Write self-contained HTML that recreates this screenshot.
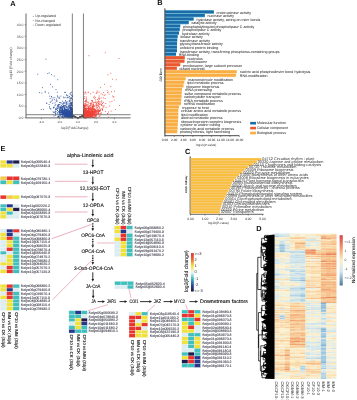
<!DOCTYPE html>
<html><head><meta charset="utf-8"><title>Figure</title>
<style>html,body{margin:0;padding:0;background:#fff;}body{width:357px;height:400px;overflow:hidden;position:relative;}
svg{position:absolute;left:0;top:0;font-family:"Liberation Sans",sans-serif;text-rendering:geometricPrecision;}</style></head>
<body><svg width="357" height="400" viewBox="0 0 357 400">
<text x="10.20" y="5.60" font-size="7.4" text-anchor="start" fill="#111" font-weight="bold">A</text>
<text x="157.30" y="5.20" font-size="7.4" text-anchor="start" fill="#111" font-weight="bold">B</text>
<text x="185.00" y="153.60" font-size="7.4" text-anchor="start" fill="#111" font-weight="bold">C</text>
<text x="256.20" y="231.00" font-size="7.4" text-anchor="start" fill="#111" font-weight="bold">D</text>
<text x="0.50" y="151.00" font-size="7.4" text-anchor="start" fill="#111" font-weight="bold">E</text>
<line x1="26.00" y1="114.70" x2="130.50" y2="114.70" stroke="#4a4a4a" stroke-width="0.7"/>
<path d="M72.6 116.3h0M82.3 116.6h0M76.8 117.4h0M72.9 115.6h0M74.8 116.4h0M77.2 117.6h0M79.0 117.6h0M78.0 117.9h0M81.0 116.6h0M79.8 117.3h0M76.9 117.5h0M73.0 115.7h0M73.7 116.2h0M75.4 117.1h0M82.7 115.9h0M80.4 116.9h0M78.6 117.6h0M73.2 116.2h0M74.9 116.7h0M76.8 117.4h0M75.1 116.9h0M82.4 116.0h0M77.1 117.6h0M80.4 117.1h0M80.3 117.1h0M81.2 116.9h0M82.3 115.9h0M72.8 116.3h0M82.3 115.9h0M75.7 116.9h0M78.8 117.6h0M79.9 117.2h0M74.1 116.2h0M80.2 117.1h0M77.1 117.6h0M76.5 117.4h0M78.2 117.8h0M73.6 116.4h0M77.7 117.8h0M83.2 116.4h0M79.4 117.4h0M74.8 116.9h0M77.9 117.9h0M82.9 116.1h0M82.2 116.1h0M73.4 115.8h0M75.5 116.7h0M74.0 116.1h0M78.0 117.8h0M74.5 116.6h0M80.7 116.8h0M83.0 115.9h0M82.2 116.5h0M80.4 116.9h0M82.0 116.4h0M77.5 117.7h0M75.3 117.0h0M81.6 116.4h0M77.8 117.9h0M80.7 116.9h0M75.1 116.9h0M74.0 116.1h0M81.1 116.4h0M79.8 117.3h0M77.1 117.5h0M72.6 116.0h0M74.2 116.7h0M75.5 116.9h0M73.3 115.8h0M77.2 117.7h0M73.6 116.2h0M76.3 117.3h0M73.7 116.4h0M78.0 117.9h0M77.9 117.9h0M78.9 117.6h0M79.3 117.5h0M74.1 116.8h0M78.2 117.8h0M75.5 117.2h0M82.1 116.6h0M79.8 117.1h0M77.4 117.7h0M76.1 117.1h0M79.9 117.3h0M80.1 117.2h0M77.7 117.8h0M77.7 117.8h0M80.4 117.0h0M73.1 116.1h0M82.3 116.1h0M79.2 117.3h0M79.4 117.2h0M82.8 115.8h0M81.2 116.9h0M75.4 116.8h0M78.8 117.5h0M80.8 116.9h0M74.4 116.4h0M73.7 116.3h0M75.5 117.0h0M79.5 117.2h0M79.2 117.5h0M82.1 116.1h0M82.2 116.1h0M79.5 117.2h0M80.5 116.8h0M73.0 116.4h0M80.2 116.8h0M76.7 117.5h0M77.3 117.6h0M80.6 117.0h0M74.7 116.8h0M80.5 117.0h0M82.0 116.4h0M74.6 116.7h0M74.1 116.1h0M72.8 116.0h0M76.6 117.5h0M74.9 116.5h0M81.7 116.5h0M81.9 116.0h0M81.7 116.3h0M78.6 117.6h0M80.2 117.0h0M83.0 116.3h0M82.2 116.0h0M77.3 117.6h0M75.6 117.1h0M78.7 117.5h0M75.2 116.6h0M79.6 117.1h0M75.8 117.0h0M82.0 116.0h0M80.0 116.9h0M79.3 117.3h0M74.6 116.6h0M83.0 115.5h0M73.0 116.2h0M75.1 116.6h0M74.5 116.4h0M74.7 116.7h0M82.9 116.3h0M78.8 117.6h0M80.6 117.1h0M79.8 117.3h0M82.8 116.2h0M79.7 117.4h0M82.6 116.0h0M82.3 116.0h0M73.2 115.9h0M76.6 117.5h0M82.1 116.1h0M76.3 117.4h0M79.5 117.4h0M75.1 117.1h0M74.4 116.4h0M75.4 116.7h0M75.5 116.8h0M80.4 116.9h0" stroke="#555" stroke-width="0.7" stroke-linecap="round" fill="none"/>
<path d="M71.5 116.0h0M72.1 116.3h0M70.1 117.5h0M70.2 107.3h0M71.4 111.9h0M67.3 117.1h0M70.4 114.1h0M70.9 107.6h0M68.8 111.7h0M67.7 114.4h0M69.1 115.2h0M68.8 115.0h0M68.9 113.4h0M64.7 105.5h0M71.7 117.2h0M72.2 115.4h0M67.4 112.5h0M67.3 115.0h0M55.3 113.1h0M66.2 112.0h0M70.4 117.2h0M71.3 116.0h0M66.4 117.1h0M70.4 105.5h0M70.0 113.1h0M62.3 109.0h0M59.6 110.6h0M71.6 116.3h0M69.7 112.5h0M72.4 114.6h0M67.5 110.4h0M65.7 115.0h0M63.4 106.4h0M71.8 116.2h0M72.1 116.5h0M70.7 117.6h0M71.8 117.3h0M72.3 116.5h0M70.7 115.2h0M64.7 92.3h0M68.5 116.5h0M70.7 116.0h0M71.4 112.8h0M69.2 117.7h0M49.7 96.1h0M70.6 115.3h0M63.5 110.6h0M65.6 92.5h0M62.7 109.1h0M69.8 117.2h0M71.1 116.1h0M53.8 112.6h0M69.7 114.9h0M71.5 116.5h0M58.7 104.5h0M71.9 116.1h0M63.4 112.4h0M70.0 115.5h0M69.4 115.9h0M71.9 116.9h0M62.7 104.7h0M49.1 104.5h0M72.4 96.5h0M68.0 114.4h0M60.2 108.6h0M70.8 115.9h0M70.2 117.0h0M69.8 115.3h0M57.6 105.5h0M68.0 113.0h0M65.8 116.8h0M64.8 112.2h0M68.1 116.8h0M70.7 116.5h0M68.2 115.1h0M66.8 114.8h0M65.4 115.0h0M65.3 111.2h0M70.6 115.8h0M71.9 114.4h0M71.3 117.4h0M63.3 113.0h0M67.3 111.4h0M63.6 97.1h0M59.9 114.8h0M45.2 92.4h0M70.0 116.4h0M64.8 108.1h0M70.8 112.0h0M72.0 115.1h0M51.3 96.5h0M70.6 116.0h0M58.0 106.8h0M67.4 114.7h0M72.2 110.8h0M72.0 114.7h0M64.5 117.5h0M68.8 115.7h0M56.9 107.4h0M71.9 116.8h0M71.5 115.6h0M64.0 110.9h0M71.3 116.5h0M67.0 113.0h0M69.8 101.4h0M65.4 114.5h0M61.8 110.3h0M65.5 109.7h0M66.4 114.0h0M72.1 115.6h0M71.7 117.4h0M60.3 108.0h0M70.8 116.6h0M70.6 113.6h0M67.7 114.6h0M72.4 114.4h0M68.3 115.1h0M72.0 114.8h0M72.3 115.7h0M68.8 113.3h0M66.1 109.6h0M69.5 116.8h0M66.3 102.4h0M59.2 112.2h0M69.4 113.6h0M62.7 113.4h0M59.2 111.9h0M71.8 115.2h0M65.0 112.9h0M66.6 115.1h0M72.4 116.1h0M66.0 116.4h0M70.7 114.6h0M66.9 95.4h0M69.6 114.8h0M63.8 115.2h0M71.2 109.7h0M67.4 116.4h0M71.1 111.1h0M65.7 113.9h0M71.7 114.4h0M56.7 101.2h0M69.9 107.5h0M68.9 114.0h0M68.8 117.0h0M54.3 99.6h0M68.2 112.7h0M68.5 116.7h0M69.6 114.3h0M71.5 115.5h0M66.7 106.8h0M61.7 110.3h0M70.4 115.1h0M70.5 116.9h0M65.0 115.9h0M70.7 116.4h0M62.5 113.6h0M64.9 116.2h0M68.9 115.3h0M61.7 117.1h0M69.9 116.6h0M50.2 102.5h0M69.5 113.4h0M71.5 103.6h0M71.0 111.2h0M71.5 117.3h0M71.9 117.2h0M69.0 104.7h0M69.3 116.1h0M72.0 116.3h0M71.6 115.7h0M71.1 116.2h0M68.9 114.0h0M60.2 107.9h0M68.6 114.5h0M70.4 102.1h0M61.0 107.2h0M69.4 111.0h0M64.8 112.7h0M68.8 114.5h0M62.1 111.6h0M71.6 116.6h0M65.3 112.2h0M69.5 115.5h0M72.4 115.4h0M59.7 102.5h0M71.3 98.3h0M70.2 113.7h0M70.7 115.2h0M70.9 115.1h0M71.1 115.1h0M68.3 113.7h0M70.9 112.3h0M70.4 114.9h0M70.2 111.3h0M71.5 116.4h0M57.4 117.0h0M72.2 114.9h0M59.7 109.8h0M71.2 115.8h0M72.2 116.6h0M71.3 117.3h0M70.6 99.0h0M58.7 116.5h0M62.2 110.1h0M69.7 115.1h0M70.6 104.1h0M70.3 107.8h0M72.2 115.2h0M66.8 104.0h0M70.5 114.6h0M70.6 116.2h0M66.6 102.9h0M55.4 111.2h0M69.8 98.9h0M69.5 115.2h0M71.2 114.4h0M62.2 110.6h0M69.8 115.6h0M71.5 109.4h0M72.2 117.7h0M70.1 110.9h0M72.1 117.3h0M65.1 113.5h0M70.2 112.0h0M64.3 110.1h0M70.4 116.1h0M64.5 112.3h0M63.6 112.7h0M69.4 113.2h0M70.9 114.3h0M69.8 107.5h0M57.8 113.8h0M71.7 115.2h0M69.7 108.8h0M70.6 116.1h0M66.7 116.7h0M71.5 115.6h0M71.1 116.3h0M65.7 113.0h0M67.7 113.7h0M70.4 113.1h0M71.9 115.8h0M70.2 112.9h0M67.5 114.3h0M69.7 114.9h0M71.1 113.2h0M69.3 114.2h0M71.4 114.6h0M71.9 115.8h0M68.3 113.7h0M71.7 115.7h0M52.2 100.7h0M68.5 114.9h0M69.5 112.8h0M66.1 116.4h0M61.3 112.1h0M71.4 114.8h0M69.6 114.1h0M72.2 115.8h0M72.2 115.9h0M66.6 114.8h0M67.2 115.7h0M72.3 115.7h0M70.8 115.7h0M69.8 117.2h0M70.1 117.3h0M68.2 117.0h0M71.9 116.2h0M69.5 115.0h0M71.6 115.8h0M64.6 110.8h0M53.8 107.4h0M66.0 101.7h0M70.7 109.4h0M63.1 116.0h0M71.5 117.2h0M69.5 115.6h0M71.6 116.8h0M65.7 112.4h0M66.1 117.2h0M66.4 115.2h0M59.7 98.2h0M66.5 116.0h0M67.3 111.8h0M69.0 114.8h0M70.7 113.7h0M67.2 115.7h0M71.8 112.1h0M68.2 114.5h0M71.4 111.5h0M72.4 115.2h0M70.6 116.4h0M67.1 113.3h0M61.1 116.2h0M72.0 111.7h0M63.4 105.7h0M72.4 111.6h0M69.9 114.9h0M70.7 115.3h0M69.3 114.7h0M72.2 108.8h0M69.1 100.8h0M71.5 112.2h0M66.3 113.5h0M72.1 115.6h0M65.0 103.4h0M64.4 112.3h0M72.0 116.3h0M70.7 109.5h0M61.4 111.0h0M63.2 113.5h0M68.2 97.6h0M63.7 117.8h0M71.3 109.6h0M64.3 114.7h0M62.6 111.9h0M65.9 105.3h0M61.6 112.7h0M67.4 116.4h0M68.4 117.4h0M71.5 114.8h0M71.5 116.9h0M67.6 111.8h0M64.5 108.0h0M62.3 108.0h0M64.1 103.0h0M71.8 117.0h0M62.5 109.1h0M66.5 114.7h0M71.1 115.9h0M72.3 115.8h0M70.1 113.6h0M61.1 111.1h0M63.6 112.7h0M67.8 114.5h0M71.3 114.9h0M66.5 94.8h0M69.7 113.8h0M71.2 115.6h0M60.6 115.9h0M67.5 113.7h0M68.3 117.4h0M65.3 112.3h0M69.8 115.1h0M63.4 117.7h0M71.2 103.9h0M69.6 113.7h0M69.9 113.3h0M64.1 113.9h0M64.8 111.3h0M71.3 116.4h0M67.3 111.6h0M71.6 115.7h0M61.4 107.3h0M71.3 115.5h0M71.4 115.1h0M71.8 114.8h0M70.4 92.9h0M64.6 113.6h0M71.5 114.9h0M70.3 108.4h0M68.3 113.9h0M71.5 115.8h0M69.1 115.4h0M69.2 114.0h0M65.3 106.0h0M66.3 114.6h0M70.2 108.7h0M66.5 113.7h0M68.8 115.2h0M71.2 115.9h0M69.5 117.5h0M71.4 115.2h0M68.1 112.3h0M68.2 112.9h0M68.1 116.8h0M69.5 112.6h0M55.3 115.2h0M71.1 114.8h0M70.2 114.6h0M69.9 114.9h0M68.0 113.7h0M69.5 114.4h0M66.5 112.5h0M70.9 114.7h0M62.4 111.9h0M67.7 111.5h0M70.6 114.4h0M70.1 116.7h0M67.2 115.9h0M70.9 113.9h0M66.4 113.6h0M72.1 115.7h0M63.3 106.1h0M72.4 99.5h0M70.7 114.9h0M71.3 108.8h0M71.4 115.4h0M66.9 114.6h0M59.1 106.9h0M67.9 115.5h0M59.7 112.5h0M69.6 117.5h0M71.5 116.1h0M67.8 113.5h0M67.5 114.0h0M69.6 117.3h0M66.4 111.0h0M65.6 109.8h0M68.5 114.3h0M67.2 112.0h0M60.7 112.4h0M71.0 115.2h0M67.6 112.9h0M68.3 115.9h0M50.5 108.8h0M70.3 116.1h0M63.3 103.1h0M72.1 116.4h0M71.6 102.5h0M66.1 111.9h0M66.6 115.6h0M65.6 112.4h0M71.8 115.7h0M66.3 103.0h0M69.7 114.2h0M70.9 114.6h0M69.1 115.8h0M72.1 117.1h0M67.3 113.4h0M72.3 115.6h0M68.6 113.5h0M68.2 116.5h0M72.4 117.9h0M71.7 115.0h0M72.4 110.2h0M67.0 116.6h0M66.3 110.3h0M64.7 113.7h0M65.1 116.3h0M64.9 112.1h0M68.1 107.6h0M70.9 110.0h0M64.3 113.9h0M70.5 112.7h0M65.7 110.1h0M66.5 109.6h0M63.3 102.9h0M72.1 115.4h0M62.0 111.8h0M67.0 111.3h0M59.4 112.6h0M62.7 106.8h0M71.2 114.6h0M62.4 109.6h0M60.5 110.4h0M64.6 107.9h0M57.9 108.9h0M71.1 115.1h0M70.8 116.4h0M71.2 109.5h0M68.8 116.6h0M63.7 110.7h0M68.0 111.7h0M71.2 115.3h0M67.5 113.3h0M71.5 110.7h0M68.3 108.5h0M68.7 115.3h0M72.3 116.8h0M60.5 114.1h0M69.1 113.9h0M62.3 108.8h0M71.6 117.4h0M69.1 105.5h0M55.0 105.7h0M68.7 114.8h0M59.3 116.1h0M66.4 109.3h0M71.4 115.2h0M70.9 115.5h0M58.5 106.6h0M66.1 110.4h0M55.8 104.5h0M67.1 114.3h0M71.9 113.9h0M71.3 117.0h0M72.3 115.9h0M72.3 102.0h0M61.3 105.7h0M71.5 115.3h0M66.6 113.5h0M62.2 115.0h0M72.2 110.3h0M71.5 115.1h0M70.2 116.9h0M64.9 115.4h0M69.7 115.6h0M71.7 115.0h0M71.0 115.9h0M70.7 114.4h0M57.1 101.0h0M59.0 97.1h0M72.3 115.4h0M71.5 114.1h0M70.1 103.2h0M68.9 117.0h0M66.4 110.4h0M72.1 117.3h0M68.4 115.1h0M68.5 110.4h0M67.2 113.4h0M64.8 112.6h0M70.0 114.0h0M62.5 114.0h0M70.6 117.1h0M69.7 114.5h0M69.4 114.3h0M71.7 115.1h0M60.5 112.4h0M72.1 114.5h0M68.4 115.7h0M58.4 116.4h0M72.0 116.2h0M72.2 117.1h0M71.1 114.4h0M65.2 113.4h0M64.9 111.4h0M70.5 116.3h0M71.6 117.3h0M64.3 115.2h0M56.0 109.6h0M69.4 113.4h0M70.0 115.5h0M62.7 106.6h0M61.3 103.0h0M70.7 115.5h0M69.7 115.7h0M72.3 117.0h0M63.5 105.3h0M59.6 112.3h0M70.6 115.8h0M66.7 115.4h0M69.1 114.2h0M71.7 115.9h0M68.1 114.6h0M71.9 117.0h0M69.3 113.8h0M72.0 113.1h0M66.8 116.1h0M68.8 115.3h0M68.7 115.7h0M69.6 114.2h0M70.6 105.9h0M69.1 113.8h0M46.4 103.1h0M64.0 114.4h0M70.4 114.4h0M71.7 115.3h0M64.5 111.2h0M66.7 111.3h0M68.1 114.1h0M63.3 114.5h0M71.6 115.4h0M68.3 113.7h0M69.2 114.3h0M68.9 116.3h0M70.4 116.4h0M63.3 107.7h0M68.9 115.2h0M67.3 113.3h0M70.1 113.2h0M70.1 103.3h0M72.2 112.9h0M57.4 112.7h0M69.5 115.6h0M69.9 113.2h0M70.5 114.8h0M67.4 114.0h0M68.5 114.8h0M67.9 112.9h0M70.9 94.7h0M68.2 110.3h0M69.2 114.4h0M71.2 116.0h0M66.9 115.6h0M70.2 108.5h0M65.5 100.5h0M61.5 114.5h0M67.6 115.7h0M67.9 111.7h0M71.7 109.3h0M72.0 116.8h0M62.1 110.8h0M72.0 115.3h0M69.8 115.9h0M72.0 103.7h0M69.9 116.9h0M67.2 112.5h0M66.7 112.8h0M70.2 114.3h0M70.3 116.5h0M70.8 116.6h0M70.9 116.2h0M70.8 113.9h0M71.2 115.1h0M69.3 114.9h0M72.0 117.0h0M69.9 115.8h0M72.3 111.3h0M71.4 115.1h0M71.1 107.0h0M70.0 106.9h0M71.4 116.6h0M71.0 113.6h0M70.9 115.6h0M63.0 112.5h0M70.7 115.3h0M64.0 117.1h0M67.8 114.9h0M67.5 109.8h0M71.9 116.0h0M71.7 114.5h0M68.3 115.1h0M71.9 110.3h0M69.4 113.8h0M59.7 108.0h0M67.8 111.3h0M69.3 115.1h0M70.7 115.0h0M71.9 103.1h0M65.0 115.3h0M71.7 116.6h0M69.6 113.8h0M64.9 112.8h0M70.7 115.6h0M69.9 111.5h0M72.2 115.5h0M72.1 115.6h0M62.3 109.5h0M67.6 114.9h0M62.0 109.3h0M60.4 114.6h0M65.4 113.1h0M72.1 116.2h0M68.2 113.2h0M67.4 108.0h0M69.2 96.8h0M67.8 115.2h0M70.6 114.7h0M70.9 117.0h0M65.8 113.1h0M56.1 100.9h0M59.6 104.7h0M67.7 111.6h0M67.9 112.4h0M63.8 111.7h0M71.1 117.0h0M71.1 116.8h0M68.7 116.0h0M72.1 117.8h0M64.2 105.4h0M71.7 115.6h0M71.2 115.0h0M66.6 112.8h0M70.7 116.7h0M61.6 108.6h0M68.3 106.6h0M71.3 115.1h0M71.2 115.8h0M69.7 115.2h0M72.3 112.8h0M62.3 111.6h0M55.2 112.1h0M67.3 114.9h0M71.4 117.5h0M70.0 116.6h0M72.4 115.1h0M63.3 113.2h0M69.2 114.9h0M65.9 111.1h0M69.0 116.1h0M71.1 115.3h0M58.2 104.6h0M53.1 111.9h0M66.9 115.9h0M54.3 112.2h0M59.6 109.3h0M67.8 114.3h0M68.0 115.1h0M69.2 116.2h0M71.6 104.5h0M71.7 115.4h0M72.0 113.3h0M69.7 113.0h0M68.9 117.2h0M67.2 112.9h0M60.6 107.4h0M64.0 97.9h0M65.1 114.9h0M59.2 112.9h0M71.6 113.4h0M71.3 115.1h0M68.7 116.4h0M65.1 115.3h0M67.5 111.3h0M71.3 115.4h0M62.1 114.2h0M64.5 107.0h0M71.8 116.2h0M71.7 115.6h0M70.0 106.9h0M71.7 117.3h0M65.8 116.7h0M70.4 116.6h0M67.8 115.0h0M54.8 97.7h0M60.2 108.6h0M71.6 107.6h0M69.5 114.9h0M60.2 108.9h0M70.8 116.4h0M67.1 113.1h0M67.3 114.0h0M72.4 117.5h0M46.9 103.3h0M67.9 116.0h0M69.6 116.1h0M68.0 103.2h0M63.7 113.1h0M66.5 115.1h0M60.2 111.2h0M70.3 115.4h0M69.9 116.2h0M72.1 115.3h0M69.7 114.9h0M70.7 117.0h0M64.0 114.2h0M67.4 115.4h0M70.2 114.4h0M56.0 111.6h0M71.6 112.6h0M69.8 111.4h0M60.4 102.7h0M71.2 117.8h0M71.1 110.5h0M70.3 116.5h0M60.6 107.3h0M67.0 97.9h0M71.9 116.0h0M71.6 113.2h0M66.4 114.9h0M70.8 109.5h0M69.3 116.4h0M72.1 116.2h0M68.4 115.4h0M61.8 112.9h0M72.1 116.1h0M70.1 115.7h0M71.9 115.3h0M67.8 115.2h0M70.0 115.4h0M67.3 109.2h0M70.2 115.2h0M69.4 100.8h0M72.4 114.0h0M63.6 116.2h0M70.9 116.7h0M72.2 113.7h0M71.2 115.2h0M71.5 114.6h0M72.3 108.8h0M55.9 113.7h0M69.9 112.6h0M70.1 114.6h0M68.2 114.8h0M72.1 116.1h0M57.5 96.9h0M71.2 114.5h0M71.5 109.3h0M70.3 114.8h0M69.0 116.9h0M60.4 109.8h0M70.0 112.9h0M71.4 116.3h0M59.7 113.8h0M69.8 115.6h0M41.2 109.6h0M71.9 95.7h0M62.5 116.9h0M71.8 116.5h0M57.6 95.9h0M65.5 113.7h0M70.9 117.0h0M70.2 114.5h0M69.7 117.0h0M71.3 115.5h0M71.7 116.6h0M57.5 108.6h0M64.6 111.3h0M71.2 117.5h0M69.5 114.7h0M69.8 112.6h0M67.7 113.7h0M60.1 110.8h0M51.0 108.9h0M69.3 111.1h0M66.8 115.3h0M64.8 108.6h0M72.1 115.5h0M66.3 113.8h0M66.8 106.3h0M67.1 113.4h0M68.3 109.7h0M65.0 114.3h0M70.1 114.3h0M70.9 115.2h0M64.8 113.7h0M70.9 114.2h0M68.0 109.1h0M71.6 107.4h0M66.4 110.1h0M70.5 107.1h0M71.6 117.3h0M72.0 115.2h0M68.1 115.2h0M65.4 112.8h0M62.9 111.0h0M68.1 115.7h0M70.0 116.1h0M72.1 116.8h0M70.5 115.1h0M68.3 106.0h0M70.2 108.4h0M69.7 115.4h0M69.7 115.6h0M62.5 113.7h0M67.3 111.9h0M69.7 115.1h0M72.0 116.1h0M58.7 111.6h0M68.7 114.1h0M61.6 112.5h0M68.4 113.7h0M65.8 114.4h0M67.6 114.9h0M71.7 115.3h0M72.0 109.4h0M72.1 115.6h0M68.5 111.9h0M60.2 106.7h0M54.0 116.0h0M70.9 116.1h0M67.6 112.8h0M72.1 115.8h0M70.7 113.7h0M69.3 115.1h0M68.4 114.9h0M62.1 113.0h0M70.9 113.3h0M67.5 115.2h0M65.9 115.8h0M62.8 112.8h0M59.9 112.6h0M66.4 107.5h0M71.2 114.6h0M62.9 114.3h0M71.0 115.1h0M62.2 116.5h0M72.0 108.6h0M69.2 114.6h0M71.4 117.2h0M72.2 116.6h0M70.1 115.8h0M62.4 115.5h0M71.4 115.6h0M70.5 111.7h0M69.2 117.3h0M64.7 116.1h0M71.7 115.0h0M55.8 108.6h0M69.9 114.4h0M69.7 105.8h0M67.8 116.5h0M71.1 104.4h0M70.9 115.4h0M69.9 114.5h0M72.1 116.9h0M71.3 114.5h0M72.0 116.2h0M67.1 114.3h0M69.5 117.3h0M71.6 116.6h0M71.4 116.8h0M70.0 114.0h0M72.0 105.1h0M69.6 113.2h0M69.8 116.8h0M68.2 116.3h0M70.3 116.5h0M71.3 105.5h0M63.1 110.7h0M70.9 116.2h0M70.4 113.5h0M59.3 112.1h0M70.8 115.9h0M71.3 112.4h0M72.2 116.2h0M62.4 113.8h0M72.4 114.5h0M69.3 113.8h0M71.5 116.0h0M71.5 116.4h0M68.3 114.1h0M64.2 113.1h0M63.3 113.9h0M69.9 113.0h0M71.6 112.9h0M58.5 108.0h0M69.0 115.6h0M60.3 112.3h0M71.7 112.4h0M70.7 116.0h0M70.8 116.1h0M65.6 113.0h0M65.6 113.9h0M69.3 112.4h0M67.1 111.6h0M72.4 117.2h0M69.2 114.8h0M70.0 114.5h0M70.4 115.4h0M67.5 114.4h0M62.7 107.1h0M71.2 115.5h0M69.8 114.7h0M69.5 110.9h0M68.2 112.8h0M69.3 117.9h0M60.5 114.2h0M70.7 116.0h0M69.1 105.9h0M69.6 111.4h0M68.4 114.3h0M69.8 115.6h0M69.6 115.3h0M69.7 114.5h0M65.0 110.9h0M68.9 114.4h0M72.2 117.0h0M59.9 104.4h0M68.8 112.7h0M70.4 109.6h0M70.5 115.4h0M49.7 106.7h0M65.7 115.2h0M70.5 113.9h0M62.1 110.7h0M60.0 113.2h0M71.3 116.4h0M52.2 99.3h0M70.9 100.5h0M70.8 114.4h0M71.2 114.9h0M52.8 103.3h0M61.7 107.2h0M70.2 114.4h0M65.8 108.2h0M70.6 102.8h0M70.4 115.3h0M65.2 112.8h0M55.7 109.7h0M72.1 113.1h0M65.7 116.2h0M66.3 110.0h0M65.4 111.8h0M69.9 116.3h0M69.9 114.3h0M65.9 105.1h0M70.7 117.5h0M68.3 112.8h0M67.4 116.0h0M63.2 110.3h0M68.3 114.3h0M64.4 109.6h0M67.4 110.5h0M70.5 117.2h0M62.1 111.9h0M67.8 95.6h0M69.8 114.1h0M64.9 115.5h0M68.4 117.0h0M72.2 114.3h0M62.7 101.2h0M68.3 115.4h0M67.4 113.9h0M71.0 114.9h0M66.2 117.7h0M69.2 117.0h0M64.8 114.3h0M70.9 115.3h0M62.8 106.6h0M69.8 117.0h0M65.6 113.2h0M69.9 115.4h0M67.0 113.5h0M71.1 114.6h0M71.2 112.9h0M51.0 101.4h0M64.9 116.8h0M72.4 105.8h0M66.5 114.5h0M72.2 115.2h0M68.8 114.4h0M71.7 108.8h0M62.2 114.3h0M69.0 113.6h0M71.2 117.8h0M65.1 97.4h0M69.5 115.3h0M71.6 115.4h0M72.4 115.6h0M68.7 109.9h0M70.8 112.0h0M68.5 113.5h0M71.3 103.6h0M71.8 116.9h0M67.2 114.2h0M69.0 113.2h0M69.4 113.9h0M70.8 116.2h0M62.6 112.4h0M71.3 92.3h0M70.4 108.5h0M66.5 114.8h0M72.0 95.3h0M72.2 115.0h0M67.8 101.8h0M57.5 106.7h0M72.3 109.3h0M57.6 110.4h0M65.7 116.8h0M71.8 114.9h0M64.6 113.0h0M68.3 115.9h0M62.9 110.3h0M69.4 116.0h0M72.3 115.9h0M68.1 116.5h0M71.7 115.5h0M69.8 112.7h0M71.8 115.8h0M63.9 108.1h0M72.4 116.6h0M67.6 112.4h0M68.8 115.5h0M64.6 109.5h0M61.7 110.4h0M69.1 114.4h0M60.7 114.4h0M70.7 116.2h0M70.0 93.9h0M56.5 99.1h0M41.8 93.0h0M72.3 117.0h0M57.4 110.5h0M63.0 103.7h0M65.3 115.6h0M69.7 117.2h0M66.2 114.4h0M69.3 112.0h0M71.4 115.8h0M72.3 117.0h0M65.5 109.6h0M70.7 115.3h0M71.2 97.7h0M67.1 113.2h0M65.4 114.2h0M70.6 117.0h0M69.6 96.7h0M70.5 114.7h0M72.0 115.7h0M65.5 116.2h0M69.9 114.1h0M65.2 116.3h0M62.8 113.5h0M62.8 116.9h0M67.2 114.7h0M71.8 117.3h0M69.6 116.4h0M72.4 106.3h0M58.9 115.2h0M71.5 115.8h0M70.6 113.4h0M71.3 108.3h0M69.6 115.8h0M70.4 115.1h0M68.6 114.7h0M68.0 106.9h0M72.3 114.4h0M69.9 110.4h0M71.9 113.9h0M71.3 114.4h0M72.1 115.2h0M56.1 109.0h0M67.5 113.6h0M60.9 96.2h0M71.7 105.8h0M72.1 116.0h0M68.8 111.3h0M69.9 115.6h0M68.0 115.2h0M55.4 113.9h0M72.4 111.5h0M72.3 116.5h0M69.6 112.3h0M71.5 115.2h0M64.4 109.7h0M71.4 112.4h0M71.9 117.0h0M70.1 117.0h0M66.8 112.6h0M69.4 114.2h0M69.8 113.6h0M68.4 113.8h0M71.0 114.5h0M70.9 115.1h0M69.3 116.8h0M71.4 114.2h0M68.6 116.1h0M67.5 114.9h0M59.2 116.9h0M69.4 112.6h0M72.1 116.9h0M68.8 114.3h0M59.4 111.7h0M60.7 114.7h0M62.3 117.2h0M71.0 115.8h0M60.3 114.4h0M61.2 107.9h0M71.3 111.4h0M62.8 113.6h0M71.2 113.6h0M67.6 116.1h0M70.6 113.4h0M72.0 115.1h0M68.6 116.6h0M65.7 115.0h0M71.2 114.7h0M53.6 107.9h0M53.1 97.8h0M66.0 113.6h0M71.4 116.4h0M72.3 117.0h0M69.2 112.2h0M69.8 114.2h0M71.3 115.6h0M70.5 98.0h0M61.7 110.3h0M65.2 110.5h0M70.7 115.1h0M61.2 105.9h0M69.3 110.1h0M72.1 117.9h0M67.5 117.9h0M71.2 110.4h0M72.3 117.3h0M51.6 97.0h0M69.2 114.1h0M72.2 117.4h0M72.0 112.0h0M70.6 115.6h0M71.2 115.6h0M72.1 116.0h0M70.9 113.9h0M71.8 115.9h0M63.1 113.1h0M68.0 112.9h0M71.5 112.6h0M68.3 116.2h0M70.2 113.3h0M72.2 116.7h0M65.5 114.1h0M71.1 116.6h0M71.4 109.0h0M65.0 106.6h0M70.2 116.8h0M71.9 116.0h0M71.5 114.2h0M71.9 113.6h0M69.8 115.5h0M63.6 111.2h0M70.7 115.1h0M70.9 114.0h0M63.7 112.9h0M66.7 112.7h0M66.4 112.7h0M71.6 115.9h0M70.3 113.0h0M71.9 115.9h0M58.8 117.6h0M63.8 111.9h0M69.3 107.1h0M71.6 109.1h0M70.0 115.8h0M57.8 117.1h0M66.9 104.4h0M68.6 112.7h0M65.0 113.1h0M71.5 98.7h0M65.5 115.4h0M71.2 114.1h0M71.5 116.3h0M69.9 116.5h0M62.2 108.1h0M66.9 114.4h0M70.1 114.6h0M69.6 116.5h0M71.7 116.1h0M70.8 112.8h0M64.1 113.5h0M68.0 115.0h0M71.6 115.7h0M61.4 110.5h0M71.5 114.3h0M72.1 115.6h0M68.8 115.1h0M71.0 114.6h0M72.0 115.5h0M65.9 116.3h0M72.1 109.7h0M69.9 114.8h0M54.2 107.2h0M58.8 98.0h0M60.1 111.0h0M68.1 114.8h0M59.8 111.0h0M53.5 107.6h0M62.3 117.7h0M69.1 116.0h0M62.2 113.1h0M70.9 116.4h0M43.5 109.4h0M65.1 111.5h0M64.6 113.9h0M68.3 114.0h0M67.5 114.3h0M62.5 113.0h0M60.4 114.5h0M69.6 104.0h0M56.4 109.1h0M69.2 115.0h0M71.1 114.6h0M68.7 115.0h0M64.2 112.7h0M69.4 116.7h0M58.5 105.6h0M65.0 107.8h0M64.9 102.2h0M60.6 114.4h0M72.1 108.2h0M71.5 115.4h0M63.8 111.4h0M71.7 114.7h0M70.3 116.0h0M70.9 113.6h0M69.7 114.4h0M68.5 112.8h0M71.1 116.8h0M67.5 97.2h0M69.8 115.7h0M65.5 113.2h0M72.4 115.4h0M69.8 116.4h0M70.3 116.2h0M64.5 111.2h0M63.1 112.0h0M70.0 114.0h0M71.9 104.1h0M72.3 116.7h0M68.4 116.2h0M68.6 115.0h0M70.6 115.1h0M69.8 114.3h0M62.2 113.6h0M72.3 115.6h0M71.4 117.5h0M67.0 110.2h0M55.0 102.9h0M71.9 116.2h0M60.8 112.0h0M64.0 109.4h0M50.1 98.5h0M67.4 111.9h0M71.7 116.7h0M65.8 112.1h0M49.5 107.9h0M57.3 92.3h0M37.8 74.3h0M47.8 73.6h0M49.2 72.9h0M51.4 74.6h0M54.2 76.0h0M50.5 84.3h0M46.0 59.2h0M42.3 87.6h0M57.8 79.7h0M45.1 91.3h0M52.4 86.9h0M39.6 92.7h0M56.0 89.5h0M48.7 93.0h0" stroke="#2a4f9e" stroke-width="0.95" stroke-linecap="round" fill="none"/>
<path d="M84.5 116.4h0M85.2 109.8h0M86.5 111.0h0M85.8 108.4h0M86.8 114.0h0M99.6 110.7h0M88.0 114.2h0M83.4 115.5h0M87.5 111.1h0M88.1 113.9h0M85.5 116.3h0M93.0 108.4h0M93.1 104.7h0M85.1 115.6h0M91.4 113.8h0M93.9 117.4h0M91.4 109.4h0M88.4 111.4h0M83.9 116.6h0M91.8 114.4h0M85.1 115.6h0M84.0 117.2h0M85.2 116.0h0M99.6 99.0h0M91.4 112.9h0M86.3 114.7h0M84.3 115.8h0M101.6 113.2h0M84.2 116.9h0M83.6 116.5h0M91.2 104.3h0M85.9 114.1h0M90.8 115.8h0M90.3 117.1h0M86.2 115.4h0M94.3 114.0h0M85.0 112.7h0M93.1 112.2h0M91.7 113.6h0M84.0 115.6h0M89.9 113.8h0M101.9 108.7h0M88.1 113.0h0M84.4 115.6h0M85.3 113.0h0M88.4 113.4h0M86.0 110.3h0M102.6 109.4h0M85.5 115.8h0M89.0 113.8h0M89.9 115.3h0M94.6 98.3h0M88.6 115.8h0M83.8 115.1h0M84.7 115.5h0M89.9 112.8h0M89.8 114.7h0M103.0 105.6h0M83.4 116.5h0M83.4 116.4h0M90.7 117.3h0M85.1 115.4h0M86.3 115.5h0M90.7 93.8h0M89.0 116.0h0M85.2 111.3h0M84.4 115.6h0M85.9 115.6h0M84.0 112.5h0M84.4 116.2h0M88.0 116.7h0M85.6 116.3h0M84.9 114.7h0M83.8 114.0h0M85.7 115.1h0M86.8 115.7h0M88.6 114.9h0M83.9 115.7h0M85.5 117.1h0M84.9 115.5h0M90.3 113.9h0M83.6 117.1h0M89.3 113.2h0M85.7 115.1h0M90.5 114.0h0M89.5 114.8h0M83.4 116.9h0M88.2 92.3h0M85.1 114.5h0M85.5 110.8h0M84.3 114.2h0M84.0 115.9h0M84.6 115.6h0M98.7 111.4h0M84.2 115.9h0M88.3 113.4h0M88.5 108.1h0M85.0 117.6h0M90.6 115.0h0M85.2 113.5h0M83.4 114.9h0M84.3 114.7h0M84.1 117.5h0M85.2 105.3h0M85.5 113.7h0M94.7 115.0h0M88.1 116.5h0M87.1 115.4h0M84.8 115.7h0M87.3 116.6h0M85.2 114.6h0M92.0 113.2h0M86.0 115.9h0M90.4 111.8h0M85.8 115.2h0M85.9 115.6h0M84.7 115.5h0M89.1 108.5h0M83.6 115.2h0M96.8 113.4h0M102.6 103.6h0M89.9 109.8h0M86.0 116.4h0M90.4 107.3h0M86.5 116.5h0M84.5 114.8h0M85.7 114.2h0M86.5 114.8h0M92.9 114.4h0M88.5 110.8h0M85.4 115.0h0M85.3 109.2h0M89.8 115.4h0M88.7 115.3h0M91.3 103.4h0M87.0 112.7h0M83.6 116.2h0M84.1 115.9h0M86.4 117.0h0M84.9 113.4h0M87.0 115.0h0M89.9 107.8h0M89.5 113.9h0M83.7 116.1h0M93.8 109.4h0M92.5 109.6h0M111.4 91.8h0M84.7 116.5h0M86.6 115.2h0M90.2 116.9h0M87.2 115.5h0M84.7 115.8h0M88.1 115.7h0M96.1 115.1h0M87.8 113.3h0M85.6 115.3h0M85.9 116.2h0M87.8 111.3h0M86.3 115.2h0M86.0 112.3h0M84.4 98.3h0M89.7 115.9h0M87.6 110.7h0M87.6 117.0h0M84.4 116.0h0M87.9 113.1h0M84.9 111.0h0M88.8 111.8h0M84.8 116.4h0M85.9 114.9h0M93.1 112.3h0M94.5 96.2h0M85.1 115.3h0M90.6 113.4h0M92.4 114.4h0M90.0 116.5h0M85.7 116.8h0M83.8 116.3h0M84.8 115.9h0M96.7 105.5h0M86.7 114.0h0M90.8 115.1h0M94.0 113.0h0M94.6 106.4h0M86.8 113.9h0M85.2 116.3h0M86.2 116.9h0M96.0 115.1h0M87.3 111.0h0M85.9 115.8h0M90.8 114.1h0M93.7 114.0h0M92.1 114.8h0M85.8 115.8h0M87.1 115.6h0M84.8 115.3h0M90.7 113.0h0M88.9 114.9h0M85.3 114.2h0M86.6 115.7h0M84.6 115.4h0M84.4 105.7h0M84.3 116.4h0M84.6 116.6h0M93.6 111.9h0M84.6 114.2h0M84.8 115.0h0M90.7 112.5h0M87.1 113.7h0M90.0 111.3h0M90.9 105.5h0M84.5 117.4h0M83.7 113.8h0M84.8 114.2h0M92.2 108.1h0M84.4 117.8h0M84.0 115.3h0M83.5 109.3h0M98.5 113.9h0M83.8 115.7h0M91.7 112.8h0M84.5 116.7h0M88.0 112.3h0M85.0 117.4h0M95.4 111.6h0M87.4 111.8h0M87.0 113.8h0M84.7 115.2h0M89.4 111.6h0M85.7 116.2h0M85.3 115.5h0M84.1 115.9h0M94.7 117.7h0M86.0 115.0h0M84.1 115.5h0M102.7 110.1h0M85.6 114.6h0M86.2 116.1h0M85.8 105.4h0M85.8 109.2h0M84.1 113.5h0M99.2 110.4h0M86.8 114.6h0M85.8 102.9h0M88.4 113.6h0M84.8 110.3h0M85.3 117.1h0M83.5 117.1h0M83.7 117.3h0M86.4 117.0h0M86.4 114.6h0M88.9 117.3h0M86.3 114.2h0M84.0 115.0h0M85.2 115.3h0M85.7 115.9h0M85.4 116.7h0M87.2 112.9h0M86.3 113.7h0M86.0 116.8h0M96.0 102.5h0M85.1 116.0h0M89.3 114.8h0M83.8 116.5h0M84.6 116.3h0M83.9 116.3h0M90.0 115.3h0M96.6 114.9h0M86.0 115.5h0M88.1 115.9h0M95.6 97.6h0M111.1 111.1h0M90.5 111.4h0M95.3 111.2h0M86.0 112.2h0M93.9 113.0h0M84.7 116.5h0M84.1 110.3h0M91.1 115.5h0M85.4 116.8h0M86.1 115.2h0M86.0 110.8h0M83.5 117.3h0M88.3 114.4h0M84.8 96.6h0M109.1 94.2h0M88.5 107.9h0M87.9 114.4h0M86.6 116.0h0M84.6 115.5h0M88.5 114.8h0M88.1 115.9h0M85.0 110.5h0M89.2 106.7h0M91.9 114.0h0M84.0 115.7h0M85.0 117.0h0M86.2 115.4h0M115.7 109.5h0M89.0 111.7h0M85.8 117.8h0M86.4 109.4h0M94.1 110.9h0M87.2 116.2h0M87.4 114.4h0M85.1 117.8h0M83.6 114.6h0M90.1 108.9h0M88.4 114.8h0M87.4 117.5h0M86.0 115.5h0M84.0 116.0h0M87.1 105.5h0M91.4 116.4h0M89.6 113.7h0M85.0 112.8h0M85.4 116.0h0M98.3 113.0h0M88.1 114.2h0M90.7 112.2h0M87.1 115.3h0M83.5 116.9h0M83.7 115.9h0M84.9 116.2h0M88.4 113.3h0M85.6 115.9h0M85.0 116.3h0M85.8 115.2h0M98.9 111.6h0M86.2 101.2h0M90.9 114.8h0M98.3 103.7h0M84.9 110.6h0M84.1 115.3h0M84.2 116.2h0M92.8 115.7h0M91.7 107.3h0M89.3 108.9h0M93.5 107.2h0M85.5 115.3h0M94.1 113.8h0M84.2 115.5h0M84.9 116.9h0M91.6 115.5h0M84.7 109.0h0M92.9 111.4h0M84.4 116.7h0M83.9 116.8h0M95.1 112.0h0M83.6 115.8h0M92.1 110.4h0M84.1 116.8h0M84.7 115.9h0M94.7 113.3h0M99.2 111.5h0M94.6 111.8h0M91.7 110.9h0M109.8 106.1h0M86.0 116.1h0M91.0 108.9h0M85.3 116.2h0M97.1 93.0h0M84.2 115.6h0M95.0 116.6h0M93.1 104.2h0M84.7 116.1h0M90.0 109.9h0M99.1 116.4h0M86.4 115.9h0M99.8 111.2h0M86.4 112.6h0M106.2 107.4h0M86.4 113.5h0M86.5 111.7h0M87.2 116.3h0M83.6 116.8h0M92.0 108.4h0M89.6 114.4h0M87.7 113.9h0M86.1 114.4h0M85.4 114.1h0M83.6 113.9h0M88.9 111.9h0M85.8 116.3h0M84.2 107.7h0M90.5 112.4h0M88.5 114.9h0M98.3 111.1h0M89.1 116.0h0M84.9 115.9h0M92.0 112.4h0M84.9 115.5h0M91.5 114.2h0M107.4 113.5h0M83.5 114.8h0M91.7 112.7h0M91.3 111.0h0M89.4 116.4h0M83.4 115.8h0M86.7 112.2h0M84.7 116.0h0M84.9 115.4h0M85.1 110.0h0M84.4 115.7h0M89.1 116.9h0M84.6 113.5h0M92.2 101.0h0M91.2 114.3h0M101.1 112.8h0M85.6 114.5h0M90.8 115.7h0M92.8 116.0h0M83.9 115.1h0M84.2 116.2h0M86.7 114.1h0M91.8 112.1h0M88.0 115.6h0M84.2 116.3h0M95.7 113.9h0M84.9 116.8h0M89.6 115.1h0M86.5 114.0h0M84.7 117.1h0M86.5 116.7h0M83.9 115.9h0M84.1 116.0h0M85.7 113.5h0M85.8 112.9h0M99.4 110.5h0M91.8 113.5h0M84.0 115.9h0M85.5 115.4h0M94.5 115.0h0M87.0 115.2h0M87.8 113.4h0M89.8 113.5h0M100.0 104.1h0M88.6 115.4h0M86.6 116.6h0M93.9 116.0h0M84.0 92.3h0M84.7 117.1h0M89.6 114.7h0M83.4 116.6h0M108.4 117.2h0M93.8 111.1h0M87.2 116.0h0M92.5 106.3h0M84.5 114.2h0M88.1 110.2h0M87.4 114.8h0M85.5 116.5h0M83.6 115.0h0M90.8 113.7h0M90.8 112.1h0M84.4 115.4h0M92.6 111.1h0M88.7 109.6h0M91.9 112.7h0M97.7 111.9h0M91.4 114.7h0M85.7 114.6h0M88.0 115.4h0M103.6 97.9h0M88.6 114.9h0M88.4 116.0h0M99.2 104.6h0M85.6 112.0h0M84.6 110.6h0M87.0 114.2h0M89.9 105.8h0M84.1 116.2h0M84.3 117.5h0M83.8 116.0h0M98.6 112.8h0M87.0 114.6h0M94.2 110.0h0M84.4 115.4h0M85.6 117.1h0M85.6 114.0h0M85.6 116.0h0M89.1 114.8h0M83.9 112.9h0M84.9 112.1h0M87.5 115.3h0M84.3 115.6h0M96.9 108.5h0M85.0 114.9h0M86.3 114.7h0M91.8 108.8h0M99.0 113.4h0M86.1 116.3h0M92.3 115.2h0M86.9 116.3h0M89.8 113.8h0M88.5 114.5h0M84.6 116.5h0M87.9 115.5h0M85.8 114.3h0M90.2 111.2h0M84.1 116.1h0M93.1 113.8h0M84.9 114.4h0M99.9 116.1h0M84.1 115.9h0M95.8 111.3h0M105.1 98.5h0M85.3 114.7h0M87.3 115.3h0M85.7 101.7h0M84.1 111.9h0M87.4 114.9h0M84.0 115.9h0M87.9 113.0h0M86.9 112.5h0M84.2 115.6h0M84.2 115.9h0M88.1 108.3h0M84.3 114.0h0M84.2 116.6h0M87.9 113.0h0M92.5 108.6h0M97.7 105.6h0M92.1 114.0h0M91.9 115.5h0M87.7 115.8h0M92.4 110.7h0M89.3 110.7h0M85.8 117.2h0M86.9 115.0h0M91.1 113.7h0M90.1 115.1h0M85.9 114.6h0M92.5 113.2h0M83.6 115.5h0M87.9 115.5h0M93.7 117.2h0M88.0 111.7h0M90.0 113.1h0M83.4 116.3h0M84.3 117.3h0M96.4 110.5h0M87.1 114.8h0M85.4 111.0h0M92.4 114.4h0M88.1 110.3h0M87.2 114.1h0M85.1 110.3h0M86.0 114.4h0M83.7 112.8h0M85.1 115.9h0M93.2 106.9h0M86.7 115.9h0M101.1 93.8h0M83.8 116.7h0M107.6 92.7h0M84.8 116.3h0M86.5 115.7h0M88.0 114.0h0M90.9 114.3h0M85.3 117.3h0M88.8 111.8h0M93.0 102.1h0M84.7 109.8h0M84.0 115.9h0M84.0 115.4h0M96.9 111.7h0M88.4 112.3h0M86.6 109.9h0M99.0 101.6h0M101.2 102.3h0M95.4 116.0h0M85.9 115.5h0M85.1 115.6h0M85.6 100.4h0M85.3 112.6h0M88.4 111.5h0M93.8 117.5h0M85.8 114.3h0M86.8 114.1h0M98.1 111.6h0M90.8 113.1h0M86.3 117.0h0M83.5 116.4h0M84.3 116.1h0M88.4 115.2h0M83.8 110.3h0M84.6 107.9h0M95.4 109.6h0M85.9 116.4h0M84.9 117.2h0M88.2 117.2h0M85.7 92.3h0M85.5 116.4h0M85.5 110.6h0M92.4 111.5h0M97.5 107.5h0M89.6 114.1h0M87.0 114.6h0M88.7 115.1h0M96.2 107.4h0M85.6 114.9h0M88.2 92.3h0M99.2 96.0h0M94.8 108.7h0M84.9 114.0h0M89.0 111.3h0M83.4 116.4h0M86.4 111.8h0M91.3 114.7h0M85.9 115.1h0M85.1 116.3h0M95.5 110.7h0M84.8 112.2h0M84.0 116.0h0M86.6 114.9h0M97.5 110.3h0M90.7 111.1h0M85.5 116.9h0M87.7 113.5h0M99.1 103.8h0M83.4 116.5h0M88.7 107.9h0M92.3 112.9h0M93.4 111.3h0M91.4 117.1h0M83.4 115.3h0M88.3 113.6h0M98.2 105.6h0M85.0 115.4h0M83.7 116.4h0M107.9 113.7h0M87.5 114.8h0M90.2 114.1h0M94.0 111.8h0M83.8 117.4h0M84.1 114.5h0M84.7 115.2h0M88.8 114.1h0M84.0 105.8h0M98.6 98.8h0M86.3 117.5h0M87.8 116.1h0M88.4 113.4h0M83.4 116.1h0M84.4 111.4h0M83.5 113.8h0M84.6 115.0h0M83.4 116.1h0M85.0 114.7h0M85.6 116.8h0M91.0 113.8h0M86.8 115.7h0M95.9 105.4h0M85.0 112.1h0M89.0 112.1h0M83.8 114.1h0M83.8 115.6h0M85.1 116.5h0M93.0 109.3h0M86.9 111.1h0M85.3 117.3h0M84.5 117.1h0M87.6 111.8h0M94.2 111.0h0M84.5 116.9h0M85.1 104.7h0M83.9 117.0h0M87.6 114.0h0M83.8 115.6h0M87.0 113.3h0M99.9 110.9h0M108.2 92.0h0M90.5 114.5h0M84.8 116.4h0M84.9 115.3h0M86.5 115.3h0M89.6 113.8h0M86.7 115.3h0M85.5 116.3h0M83.8 116.3h0M87.6 113.3h0M83.5 112.9h0M85.2 115.5h0M92.4 110.9h0M84.3 115.1h0M86.1 113.9h0M89.2 114.2h0M85.7 111.2h0M83.8 115.5h0M89.2 115.0h0M92.6 116.4h0M86.1 93.9h0M84.3 108.3h0M85.6 108.6h0M92.3 100.8h0M85.9 114.2h0M85.1 117.0h0M83.7 115.6h0M84.3 114.6h0M84.0 115.7h0M88.7 106.0h0M88.5 109.6h0M84.0 113.6h0M86.9 114.3h0M88.6 113.2h0M93.5 97.3h0M85.4 114.3h0M89.0 103.6h0M86.3 97.1h0M86.8 116.6h0M87.5 115.1h0M83.4 116.3h0M89.1 114.6h0M84.8 116.5h0M83.7 114.9h0M85.9 115.4h0M86.4 113.2h0M86.9 114.3h0M93.4 113.0h0M84.6 111.8h0M103.0 107.0h0M89.8 109.2h0M114.2 100.1h0M87.2 112.0h0M83.4 117.4h0M85.1 116.7h0M96.2 93.4h0M83.4 116.0h0M84.1 117.0h0M83.8 115.3h0M85.9 114.1h0M84.9 116.8h0M88.2 114.3h0M84.5 116.4h0M83.5 116.4h0M88.5 113.2h0M85.0 116.3h0M84.8 116.1h0M90.8 103.8h0M85.0 117.2h0M83.5 116.2h0M89.9 116.0h0M92.1 114.5h0M84.6 117.7h0M88.2 114.8h0M97.6 113.4h0M99.0 106.5h0M85.2 116.6h0M87.4 115.8h0M83.5 110.6h0M89.4 113.2h0M85.8 107.0h0M83.6 115.3h0M88.4 102.2h0M89.2 109.0h0M85.9 107.8h0M84.3 116.4h0M86.7 99.3h0M95.2 114.5h0M84.5 116.2h0M87.8 111.6h0M91.6 112.1h0M87.8 113.6h0M84.5 115.2h0M96.5 112.3h0M86.9 115.5h0M90.5 113.2h0M83.8 116.4h0M85.1 116.6h0M94.9 112.6h0M88.4 112.0h0M89.6 114.4h0M84.9 106.3h0M87.4 114.5h0M86.1 115.9h0M105.8 103.5h0M84.3 115.3h0M92.6 113.4h0M90.8 113.2h0M93.7 114.6h0M85.9 112.4h0M87.8 112.2h0M85.2 110.9h0M87.3 114.6h0M99.1 102.2h0M85.2 116.3h0M86.2 98.8h0M85.9 116.0h0M83.7 116.6h0M89.3 116.0h0M88.7 115.2h0M83.4 115.8h0M89.4 112.4h0M87.0 113.8h0M87.5 117.5h0M91.0 109.3h0M92.2 105.4h0M87.9 113.0h0M84.5 116.9h0M94.5 109.4h0M83.6 115.5h0M95.7 115.2h0M94.3 113.2h0M86.7 116.9h0M87.1 114.9h0M86.3 108.2h0M83.7 115.2h0M87.7 116.9h0M85.6 109.4h0M86.4 115.7h0M85.2 116.0h0M85.8 115.2h0M88.0 115.2h0M85.4 116.0h0M89.6 113.2h0M85.3 115.8h0M86.5 115.7h0M84.0 116.7h0M87.8 115.4h0M84.9 116.6h0M88.3 113.9h0M89.7 115.0h0M83.9 116.2h0M86.0 115.1h0M86.0 116.0h0M85.0 115.3h0M101.1 101.6h0M99.7 107.4h0M95.1 111.0h0M86.6 115.5h0M83.9 105.5h0M95.2 109.9h0M85.2 115.2h0M85.6 116.9h0M87.6 115.1h0M92.6 114.2h0M83.6 115.6h0M86.0 100.8h0M88.0 113.4h0M83.6 116.1h0M84.5 115.4h0M86.1 116.7h0M88.8 116.8h0M83.5 117.5h0M87.7 112.2h0M89.5 113.2h0M94.4 112.1h0M87.0 115.6h0M84.8 114.7h0M88.2 112.1h0M100.4 109.3h0M93.2 104.1h0M85.1 111.9h0M93.1 114.4h0M92.5 113.6h0M87.8 113.5h0M83.4 114.1h0M91.0 117.3h0M84.8 114.6h0M88.5 111.4h0M87.4 116.0h0M84.0 115.8h0M91.5 115.3h0M86.6 105.1h0M84.5 115.6h0M87.1 114.8h0M90.7 114.3h0M94.8 113.7h0M90.3 112.1h0M87.2 108.4h0M101.4 105.3h0M84.3 116.9h0M87.5 113.6h0M84.9 103.7h0M84.9 115.5h0M86.4 111.6h0M86.6 115.7h0M88.8 112.2h0M88.4 107.8h0M85.6 115.9h0M95.0 112.7h0M91.6 113.5h0M87.7 111.7h0M90.9 116.8h0M94.1 106.0h0M96.1 116.5h0M89.3 116.8h0M83.4 117.1h0M83.9 116.0h0M102.4 103.3h0M93.6 104.3h0M87.6 114.7h0M87.3 115.5h0M88.2 112.4h0M91.1 113.6h0M84.9 115.6h0M84.2 116.8h0M83.5 116.1h0M87.0 115.8h0M83.8 116.3h0M84.3 116.3h0M85.9 114.7h0M85.1 114.9h0M84.1 116.1h0M89.7 114.4h0M90.4 104.8h0M90.4 103.6h0M83.8 115.4h0M86.9 114.8h0M89.7 114.5h0M87.4 113.9h0M90.1 111.2h0M88.2 114.7h0M84.7 116.0h0M84.6 107.4h0M90.0 108.2h0M85.1 115.2h0M87.8 114.7h0M83.4 116.0h0M90.5 116.2h0M89.8 112.8h0M83.8 114.6h0M88.3 115.7h0M91.0 114.4h0M84.5 114.0h0M83.6 114.3h0M92.4 117.1h0M92.3 112.4h0M86.1 112.9h0M96.1 115.7h0M85.5 115.9h0M102.4 110.1h0M94.1 115.6h0M92.1 112.6h0M85.1 116.2h0M86.8 115.2h0M85.2 116.6h0M91.1 102.6h0M85.2 103.7h0M105.1 94.8h0M86.2 117.8h0M86.0 111.0h0M83.9 115.5h0M83.9 117.2h0M95.3 111.5h0M93.9 112.1h0M83.6 99.2h0M93.5 109.4h0M83.8 111.6h0M87.9 111.1h0M86.0 116.5h0M89.0 114.6h0M83.7 115.5h0M87.2 115.3h0M85.2 117.2h0M94.9 110.5h0M86.3 112.6h0M86.9 115.3h0M92.0 112.3h0M84.6 115.6h0M87.2 115.3h0M84.4 116.8h0M92.6 115.7h0M90.1 114.6h0M86.9 114.5h0M84.5 116.9h0M84.3 115.4h0M86.0 117.0h0M86.4 115.6h0M90.9 109.4h0M85.3 114.4h0M84.3 114.9h0M84.7 114.6h0M84.3 116.0h0M97.9 109.6h0M91.2 113.1h0M83.9 116.5h0M93.8 108.5h0M103.4 102.3h0M84.0 115.3h0M92.4 113.5h0M87.4 114.0h0M84.7 116.5h0M90.2 112.0h0M85.1 113.9h0M89.9 113.2h0M83.4 115.5h0M85.9 115.4h0M87.5 114.4h0M83.6 116.9h0M84.8 116.4h0M95.6 115.5h0M91.1 111.0h0M84.4 114.7h0M84.1 116.1h0M95.9 112.7h0M84.2 115.5h0M88.5 113.6h0M89.6 113.5h0M91.6 115.9h0M83.5 116.4h0M83.8 115.8h0M86.3 108.3h0M92.5 101.0h0M84.7 116.2h0M85.6 110.5h0M88.0 112.3h0M85.6 117.8h0M90.2 117.2h0M87.6 115.1h0M83.9 111.1h0M83.9 115.4h0M84.2 117.4h0M101.7 104.4h0M86.6 115.2h0M90.3 114.6h0M86.1 115.6h0M85.6 92.3h0M87.4 114.3h0M90.4 116.3h0M83.5 116.5h0M83.5 115.3h0M95.7 99.9h0M93.8 106.1h0M89.6 111.6h0M84.3 117.1h0M88.7 114.5h0M85.0 115.4h0M89.7 115.2h0M83.7 115.9h0M92.8 115.2h0M88.1 113.1h0M90.4 114.4h0M93.3 111.8h0M85.7 115.2h0M85.9 113.9h0M87.6 114.8h0M91.5 112.5h0M90.1 114.5h0M84.2 94.0h0M84.2 116.3h0M87.2 116.3h0M87.5 102.2h0M88.5 112.6h0M86.5 114.0h0M112.4 96.0h0M92.8 111.0h0M84.1 117.1h0M86.2 114.2h0M98.5 112.9h0M87.5 114.5h0M83.6 115.1h0M84.6 108.4h0M98.3 101.7h0M84.9 106.5h0M88.0 104.7h0M92.7 108.3h0M84.5 109.9h0M84.2 116.4h0M94.1 109.4h0M101.8 100.8h0M87.4 112.4h0M91.8 112.8h0M89.6 113.2h0M89.0 114.5h0M89.6 113.0h0M88.5 109.9h0M93.8 117.5h0M98.7 109.1h0M88.7 114.9h0M89.0 114.3h0M86.7 116.0h0M92.0 112.1h0M93.0 114.8h0M86.6 115.2h0M90.4 109.6h0M88.1 108.8h0M113.3 97.0h0M84.2 115.5h0M85.2 116.1h0M83.7 115.5h0M90.1 116.6h0M83.5 113.0h0M84.8 114.8h0M83.5 98.0h0M83.8 116.3h0M89.2 114.4h0M97.3 99.4h0M92.2 106.4h0M86.2 117.3h0M88.1 114.4h0M88.6 114.0h0M86.0 116.0h0M93.7 112.0h0M84.3 114.5h0M90.8 113.8h0M83.9 115.1h0M86.9 114.4h0M84.5 116.0h0M86.8 110.8h0M91.2 113.2h0M91.4 112.5h0M94.1 111.6h0M86.7 112.9h0M86.0 115.0h0M84.7 101.6h0M85.3 113.8h0M100.1 104.1h0M85.8 115.9h0M95.6 111.3h0M83.9 115.7h0M85.7 115.2h0M102.7 94.6h0M87.2 104.9h0M84.2 116.8h0M90.1 113.2h0M88.9 108.3h0M83.4 115.9h0M88.9 114.3h0M85.9 115.4h0M86.5 115.4h0M87.0 113.9h0M86.5 113.6h0M93.3 114.8h0M87.7 114.8h0M83.4 115.3h0M98.6 101.0h0M89.7 113.6h0M90.7 109.2h0M88.0 114.0h0M90.9 114.4h0M91.8 114.8h0M99.3 98.9h0M85.8 117.2h0M98.3 106.0h0M88.2 110.2h0M86.5 116.1h0M95.2 110.9h0M85.9 116.0h0M105.7 111.5h0M89.4 115.0h0M88.1 115.6h0M89.8 115.3h0M83.4 115.6h0M95.9 112.7h0M86.2 115.9h0M86.0 116.7h0M88.0 112.1h0M91.6 110.6h0M84.6 106.3h0M86.7 115.4h0M83.4 115.2h0M84.5 116.8h0M85.9 115.1h0M86.0 112.3h0M89.9 112.7h0M83.4 115.8h0M96.2 110.7h0M87.4 114.7h0M93.4 105.9h0M83.5 117.2h0M86.5 100.9h0M84.8 115.1h0M85.8 113.3h0M83.6 112.6h0M84.2 116.0h0M90.0 113.3h0M83.7 115.1h0M91.3 111.2h0M87.4 115.7h0M85.4 116.4h0M102.2 109.1h0M85.2 108.5h0M86.0 115.9h0M91.8 110.5h0M84.5 116.9h0M84.9 115.5h0M95.1 113.2h0M86.8 113.8h0M85.4 116.6h0M85.4 114.6h0M88.2 113.5h0M90.6 113.8h0M83.7 115.6h0M87.2 115.1h0M84.1 116.8h0M87.0 113.7h0M85.6 116.1h0M86.8 113.6h0M86.3 113.1h0M83.5 116.0h0M84.4 115.0h0M88.9 114.5h0M85.0 116.8h0M84.8 116.2h0M86.8 115.1h0M86.5 116.1h0M83.6 116.9h0M84.4 115.8h0M85.6 116.4h0M83.9 116.5h0M84.3 116.0h0M96.2 106.6h0M86.1 116.5h0M84.3 117.0h0M85.5 116.0h0M84.0 114.5h0M100.2 114.9h0M92.8 117.4h0M88.5 111.9h0M86.5 112.4h0M86.0 115.1h0M89.4 109.0h0M83.8 117.5h0M84.0 115.3h0M114.0 96.9h0M88.7 114.7h0M85.6 113.4h0M92.6 110.8h0M93.1 102.5h0M84.1 111.7h0M99.0 92.2h0M87.3 112.8h0M88.1 114.0h0M91.2 114.1h0M84.1 115.9h0M86.1 113.9h0M87.7 115.1h0M88.7 109.7h0M87.8 116.6h0M89.9 111.6h0M119.3 105.5h0M93.2 114.7h0M83.9 116.8h0M85.9 117.0h0M84.0 115.0h0M94.6 117.2h0M89.2 113.0h0M84.5 114.9h0M88.8 113.3h0M86.0 113.5h0M83.4 116.8h0M86.8 116.3h0M90.6 109.3h0M84.9 117.4h0M87.5 112.4h0M94.0 105.7h0M88.0 117.1h0M83.7 117.2h0M86.3 116.9h0M86.0 115.3h0M90.1 111.6h0M85.1 112.1h0M83.5 115.4h0M87.6 114.2h0M91.3 113.2h0M84.3 115.8h0M100.2 113.5h0M92.7 113.1h0M88.3 107.0h0M92.0 113.9h0M86.4 113.4h0M86.4 117.0h0M84.8 117.6h0M88.9 115.6h0M83.9 115.9h0M84.1 106.4h0M87.1 115.0h0M95.0 102.8h0M108.4 112.0h0M85.0 113.4h0M84.0 115.3h0M86.1 116.2h0M86.7 116.4h0M95.0 116.6h0M86.3 117.0h0M85.7 112.4h0M83.4 115.8h0M91.2 113.2h0M85.3 115.1h0M84.9 116.4h0M85.1 112.8h0M85.4 112.9h0M84.5 114.7h0M93.1 117.3h0M87.8 115.0h0M83.7 116.5h0M88.5 114.6h0M88.1 114.7h0M85.1 110.8h0M86.9 114.6h0M90.1 114.8h0M84.7 110.1h0M97.2 109.9h0M88.6 113.8h0M83.6 116.8h0M86.9 112.8h0M83.4 116.8h0M83.7 115.9h0M85.3 114.1h0M84.4 115.8h0M83.9 116.6h0M85.9 115.5h0M84.0 117.0h0M86.7 114.9h0M87.1 113.1h0M86.2 114.7h0M87.7 110.9h0M85.6 106.2h0M86.5 115.3h0M86.2 115.8h0M85.7 112.9h0M94.8 114.2h0M85.2 113.8h0M100.6 110.6h0M90.1 113.5h0M88.8 111.1h0M85.4 113.4h0M85.6 113.0h0M90.1 113.9h0M96.7 111.4h0M92.4 107.1h0M86.9 115.2h0M85.5 116.2h0M85.8 116.5h0M83.4 107.0h0M86.7 117.1h0M83.4 104.2h0M85.0 114.0h0M84.8 115.3h0M84.8 117.2h0M84.7 117.4h0M85.2 115.2h0M87.0 106.4h0M88.6 116.2h0M87.7 115.5h0M88.0 107.0h0M83.4 116.1h0M84.2 116.5h0M83.5 115.9h0M87.2 113.4h0M84.0 114.2h0M88.6 115.0h0M90.2 114.2h0M86.6 116.9h0M85.7 114.5h0M83.9 112.5h0M85.8 116.5h0M90.9 114.5h0M83.9 115.9h0M98.6 103.7h0M85.3 117.3h0M89.6 115.1h0M86.0 116.8h0M91.5 100.6h0M86.2 113.8h0M92.1 115.8h0M84.7 116.7h0M85.2 113.7h0M85.0 114.0h0M83.5 114.4h0M87.9 115.3h0M89.9 114.7h0M91.2 110.0h0M86.6 104.2h0M84.0 115.7h0M86.7 114.0h0M86.7 113.9h0M85.7 115.4h0M93.4 114.6h0M86.2 116.5h0M85.6 113.3h0M90.3 114.0h0M88.6 117.6h0M87.4 110.6h0M86.6 115.0h0M90.6 107.1h0M87.2 114.9h0M98.9 97.4h0M86.8 101.9h0M89.5 116.1h0M85.3 115.6h0M83.6 116.5h0M87.9 115.1h0M83.7 116.3h0M86.3 115.5h0M84.3 116.3h0M84.9 115.0h0M97.8 110.4h0M88.8 112.1h0M90.1 113.9h0M97.0 113.9h0M111.9 101.4h0M84.3 116.3h0M83.5 116.1h0M86.0 116.4h0M91.6 115.1h0M98.8 111.2h0M84.2 115.9h0M97.3 102.6h0M83.9 111.5h0M86.0 115.3h0M84.2 115.8h0M90.0 109.2h0M86.8 114.5h0M88.1 114.0h0M84.1 109.2h0M84.3 116.4h0M86.7 108.8h0M94.0 110.6h0M86.5 115.7h0M84.6 105.5h0M96.4 103.5h0M93.5 115.6h0M83.5 113.3h0M84.7 116.6h0M95.0 102.5h0M86.8 115.8h0M88.4 112.9h0M84.5 110.1h0M85.8 116.0h0M85.4 115.7h0M83.6 116.7h0M88.5 112.8h0M88.7 113.4h0M88.4 114.3h0M86.6 114.0h0M96.1 104.5h0M86.0 114.1h0M84.9 116.8h0M84.6 116.2h0M91.7 115.2h0M83.7 115.5h0M97.9 101.8h0M86.5 115.3h0M86.2 114.3h0M85.3 115.2h0M84.8 116.6h0M90.1 113.9h0M87.9 113.7h0M83.6 107.5h0M83.9 115.4h0M101.1 98.0h0M83.7 116.2h0M85.8 115.4h0M85.2 116.1h0M91.7 115.6h0M86.6 116.1h0M85.1 114.8h0M88.2 115.3h0M101.4 104.8h0M99.0 110.7h0M89.8 113.4h0M84.2 116.0h0M86.8 115.6h0M92.0 115.1h0M83.4 113.0h0M86.7 117.7h0M88.8 114.4h0M92.9 111.5h0M86.0 115.5h0M84.4 114.3h0M109.9 101.9h0M85.4 105.2h0M86.4 112.4h0M85.6 115.5h0M85.7 116.0h0M89.8 114.0h0M84.9 117.1h0M84.4 116.4h0M104.2 95.4h0M86.3 116.3h0M85.8 116.5h0M83.8 115.9h0M85.6 112.7h0M89.2 114.3h0M86.6 115.5h0M85.1 115.9h0M84.8 112.2h0M94.3 117.6h0M86.6 114.1h0M104.1 105.8h0M84.7 112.0h0M84.0 116.5h0M88.4 115.7h0M87.3 117.5h0M93.0 112.2h0M86.4 115.7h0M85.7 115.9h0M98.4 112.6h0M87.2 114.8h0M92.9 107.3h0M84.5 116.5h0M86.1 112.7h0M87.8 110.4h0M84.5 117.7h0M89.7 112.7h0M88.6 113.7h0M90.3 113.3h0M84.0 111.6h0M86.2 114.2h0M86.3 114.1h0M83.5 115.6h0M84.8 114.9h0M83.5 114.1h0M85.1 113.6h0M94.4 109.2h0M83.7 116.6h0M83.7 105.7h0M85.4 114.5h0M84.3 115.4h0M100.1 110.0h0M85.6 115.3h0M96.9 92.2h0M96.9 114.0h0M85.9 114.0h0M84.6 116.6h0M93.2 92.3h0M87.3 115.0h0M84.1 117.1h0M85.9 116.3h0M92.0 112.9h0M84.6 115.9h0M86.1 112.5h0M84.5 109.7h0M86.7 114.8h0M85.8 113.2h0M91.7 109.2h0M92.7 110.3h0M91.9 112.2h0M87.0 117.3h0M85.7 115.3h0M85.4 114.7h0M90.0 112.3h0M88.8 110.3h0M88.1 115.2h0M92.4 107.6h0M86.2 116.1h0M99.6 108.0h0M89.6 114.5h0M83.7 116.5h0M85.2 115.4h0M85.0 116.1h0M102.6 109.3h0M85.7 115.3h0M84.2 104.8h0M92.5 112.0h0M88.5 112.2h0M84.7 116.1h0M85.4 114.2h0M86.1 113.5h0M90.6 115.4h0M86.0 111.7h0M86.0 116.7h0M85.8 115.0h0M86.3 116.2h0M92.7 112.0h0M97.3 111.8h0M86.0 113.9h0M86.6 115.6h0M84.4 116.1h0M87.6 116.2h0M84.7 116.9h0M90.1 115.1h0M89.8 105.8h0M86.8 114.2h0M88.8 113.3h0M97.0 104.7h0M83.9 107.8h0M88.1 116.7h0M83.7 115.1h0M103.6 92.6h0M88.4 115.0h0M85.5 116.0h0M91.9 115.0h0M92.8 108.5h0M95.9 101.6h0M85.6 115.9h0M90.1 115.2h0M92.2 106.5h0M83.4 116.1h0M86.2 114.4h0M87.5 108.5h0M84.5 109.0h0M83.5 117.0h0M86.8 109.4h0M86.1 116.4h0M89.1 115.1h0M91.3 116.7h0M83.7 117.4h0M88.3 115.0h0M88.3 116.1h0M83.4 116.0h0M85.8 116.0h0M91.9 112.6h0M86.8 116.3h0M103.8 107.0h0M85.6 115.5h0M85.5 116.0h0M105.3 52.7h0M119.0 58.5h0M88.9 55.7h0M108.0 74.8h0M110.8 73.2h0M112.6 79.2h0M116.2 79.7h0M104.4 84.3h0M107.1 90.4h0M100.7 87.6h0M97.1 91.1h0M110.8 86.4h0M114.4 91.3h0" stroke="#f0443a" stroke-width="0.95" stroke-linecap="round" fill="none"/>
<line x1="26.00" y1="13.50" x2="26.00" y2="117.90" stroke="#666" stroke-width="1.0"/>
<line x1="26.00" y1="117.90" x2="130.50" y2="117.90" stroke="#666" stroke-width="1.0"/>
<line x1="72.35" y1="13.50" x2="72.35" y2="117.90" stroke="#4a4a4a" stroke-width="0.7"/>
<line x1="83.45" y1="13.50" x2="83.45" y2="117.90" stroke="#4a4a4a" stroke-width="0.7"/>
<line x1="24.70" y1="117.90" x2="26.00" y2="117.90" stroke="#4a4a4a" stroke-width="0.6"/>
<text x="23.40" y="119.10" font-size="3.4" text-anchor="end" fill="#3a3a3a">0.0</text>
<line x1="24.70" y1="106.25" x2="26.00" y2="106.25" stroke="#4a4a4a" stroke-width="0.6"/>
<text x="23.40" y="107.45" font-size="3.4" text-anchor="end" fill="#3a3a3a">5.0</text>
<line x1="24.70" y1="94.60" x2="26.00" y2="94.60" stroke="#4a4a4a" stroke-width="0.6"/>
<text x="23.40" y="95.80" font-size="3.4" text-anchor="end" fill="#3a3a3a">10.0</text>
<line x1="24.70" y1="82.95" x2="26.00" y2="82.95" stroke="#4a4a4a" stroke-width="0.6"/>
<text x="23.40" y="84.15" font-size="3.4" text-anchor="end" fill="#3a3a3a">15.0</text>
<line x1="24.70" y1="71.30" x2="26.00" y2="71.30" stroke="#4a4a4a" stroke-width="0.6"/>
<text x="23.40" y="72.50" font-size="3.4" text-anchor="end" fill="#3a3a3a">20.0</text>
<line x1="24.70" y1="59.65" x2="26.00" y2="59.65" stroke="#4a4a4a" stroke-width="0.6"/>
<text x="23.40" y="60.85" font-size="3.4" text-anchor="end" fill="#3a3a3a">25.0</text>
<line x1="24.70" y1="48.00" x2="26.00" y2="48.00" stroke="#4a4a4a" stroke-width="0.6"/>
<text x="23.40" y="49.20" font-size="3.4" text-anchor="end" fill="#3a3a3a">30.0</text>
<line x1="24.70" y1="36.35" x2="26.00" y2="36.35" stroke="#4a4a4a" stroke-width="0.6"/>
<text x="23.40" y="37.55" font-size="3.4" text-anchor="end" fill="#3a3a3a">35.0</text>
<line x1="24.70" y1="24.70" x2="26.00" y2="24.70" stroke="#4a4a4a" stroke-width="0.6"/>
<text x="23.40" y="25.90" font-size="3.4" text-anchor="end" fill="#3a3a3a">40.0</text>
<line x1="41.40" y1="117.90" x2="41.40" y2="119.20" stroke="#4a4a4a" stroke-width="0.6"/>
<text x="41.40" y="122.80" font-size="3.0" text-anchor="middle" fill="#3a3a3a">-4.0</text>
<line x1="59.65" y1="117.90" x2="59.65" y2="119.20" stroke="#4a4a4a" stroke-width="0.6"/>
<text x="59.65" y="122.80" font-size="3.0" text-anchor="middle" fill="#3a3a3a">-2.0</text>
<line x1="77.90" y1="117.90" x2="77.90" y2="119.20" stroke="#4a4a4a" stroke-width="0.6"/>
<text x="77.90" y="122.80" font-size="3.0" text-anchor="middle" fill="#3a3a3a">0.0</text>
<line x1="96.15" y1="117.90" x2="96.15" y2="119.20" stroke="#4a4a4a" stroke-width="0.6"/>
<text x="96.15" y="122.80" font-size="3.0" text-anchor="middle" fill="#3a3a3a">2.0</text>
<line x1="114.40" y1="117.90" x2="114.40" y2="119.20" stroke="#4a4a4a" stroke-width="0.6"/>
<text x="114.40" y="122.80" font-size="3.0" text-anchor="middle" fill="#3a3a3a">4.0</text>
<text x="74.70" y="129.30" font-size="3.45" text-anchor="middle" fill="#3a3a3a">log2(FoldChange)</text>
<text x="12.40" y="63.50" font-size="3.5" text-anchor="middle" fill="#3a3a3a" transform="rotate(-90 12.40 63.50)">-log10 (Fold change)</text>
<circle cx="33.2" cy="16.20" r="0.45" fill="#444"/>
<text x="35.30" y="17.45" font-size="3.6" text-anchor="start" fill="#333">Up-regulated</text>
<circle cx="33.2" cy="20.65" r="0.45" fill="#444"/>
<text x="35.30" y="21.90" font-size="3.6" text-anchor="start" fill="#333">No-changed</text>
<circle cx="33.2" cy="25.10" r="0.45" fill="#444"/>
<text x="35.30" y="26.35" font-size="3.6" text-anchor="start" fill="#333">Down-regulated</text>
<rect x="165.30" y="10.30" width="48.50" height="3.52" fill="#63b8dc"/>
<rect x="165.30" y="10.50" width="48.50" height="2.70" fill="#1b6ca6"/>
<text x="216.60" y="13.80" font-size="3.62" text-anchor="start" fill="#111">endonuclease activity</text>
<rect x="165.30" y="13.82" width="39.50" height="3.52" fill="#63b8dc"/>
<rect x="165.30" y="14.02" width="39.50" height="2.70" fill="#1b6ca6"/>
<text x="207.60" y="17.32" font-size="3.62" text-anchor="start" fill="#111">nuclease activity</text>
<rect x="165.30" y="17.34" width="28.30" height="3.52" fill="#63b8dc"/>
<rect x="165.30" y="17.54" width="28.30" height="2.70" fill="#1b6ca6"/>
<text x="196.40" y="20.84" font-size="3.62" text-anchor="start" fill="#111">hydrolase activity, acting on ester bonds</text>
<rect x="165.30" y="20.86" width="23.40" height="3.52" fill="#63b8dc"/>
<rect x="165.30" y="21.06" width="23.40" height="2.70" fill="#1b6ca6"/>
<text x="191.50" y="24.36" font-size="3.62" text-anchor="start" fill="#111">catalytic activity</text>
<rect x="165.30" y="24.38" width="14.90" height="3.52" fill="#63b8dc"/>
<rect x="165.30" y="24.58" width="14.90" height="2.70" fill="#1b6ca6"/>
<text x="183.00" y="27.88" font-size="3.62" text-anchor="start" fill="#111">phosphatidylinositol phospholipase C activity</text>
<rect x="165.30" y="27.90" width="14.40" height="3.52" fill="#63b8dc"/>
<rect x="165.30" y="28.10" width="14.40" height="2.70" fill="#1b6ca6"/>
<text x="182.50" y="31.40" font-size="3.62" text-anchor="start" fill="#111">phospholipase C activity</text>
<rect x="165.30" y="31.42" width="13.70" height="3.52" fill="#63b8dc"/>
<rect x="165.30" y="31.62" width="13.70" height="2.70" fill="#1b6ca6"/>
<text x="181.80" y="34.92" font-size="3.62" text-anchor="start" fill="#111">hydrolase activity</text>
<rect x="165.30" y="34.94" width="12.30" height="3.52" fill="#63b8dc"/>
<rect x="165.30" y="35.14" width="12.30" height="2.70" fill="#1b6ca6"/>
<text x="180.40" y="38.44" font-size="3.62" text-anchor="start" fill="#111">kinase activity</text>
<rect x="165.30" y="38.46" width="11.90" height="3.52" fill="#63b8dc"/>
<rect x="165.30" y="38.66" width="11.90" height="2.70" fill="#1b6ca6"/>
<text x="180.00" y="41.96" font-size="3.62" text-anchor="start" fill="#111">transferase activity</text>
<rect x="165.30" y="41.98" width="11.70" height="3.52" fill="#63b8dc"/>
<rect x="165.30" y="42.18" width="11.70" height="2.70" fill="#1b6ca6"/>
<text x="179.80" y="45.48" font-size="3.62" text-anchor="start" fill="#111">glycosyltransferase activity</text>
<rect x="165.30" y="45.50" width="11.70" height="3.52" fill="#63b8dc"/>
<rect x="165.30" y="45.70" width="11.70" height="2.70" fill="#1b6ca6"/>
<text x="179.80" y="49.00" font-size="3.62" text-anchor="start" fill="#111">unfolded protein binding</text>
<rect x="165.30" y="49.02" width="11.70" height="3.52" fill="#63b8dc"/>
<rect x="165.30" y="49.22" width="11.70" height="2.70" fill="#1b6ca6"/>
<text x="179.80" y="52.52" font-size="3.62" text-anchor="start" fill="#111">transferase activity, transferring phosphorus-containing groups</text>
<rect x="165.30" y="52.54" width="10.70" height="3.52" fill="#63b8dc"/>
<rect x="165.30" y="52.74" width="10.70" height="2.70" fill="#1b6ca6"/>
<text x="178.80" y="56.04" font-size="3.62" text-anchor="start" fill="#111">RNA binding</text>
<rect x="165.30" y="56.06" width="19.40" height="3.52" fill="#f3a088"/>
<rect x="165.30" y="56.26" width="19.40" height="2.70" fill="#e95a30"/>
<text x="187.50" y="59.56" font-size="3.62" text-anchor="start" fill="#111">nucleolus</text>
<rect x="165.30" y="59.58" width="19.10" height="3.52" fill="#f3a088"/>
<rect x="165.30" y="59.78" width="19.10" height="2.70" fill="#e95a30"/>
<text x="187.20" y="63.08" font-size="3.62" text-anchor="start" fill="#111">preribosome</text>
<rect x="165.30" y="63.10" width="14.90" height="3.52" fill="#f3a088"/>
<rect x="165.30" y="63.30" width="14.90" height="2.70" fill="#e95a30"/>
<text x="183.00" y="66.60" font-size="3.62" text-anchor="start" fill="#111">preribosome, large subunit precursor</text>
<rect x="165.30" y="66.62" width="11.50" height="3.52" fill="#f3a088"/>
<rect x="165.30" y="66.82" width="11.50" height="2.70" fill="#e95a30"/>
<text x="179.60" y="70.12" font-size="3.62" text-anchor="start" fill="#111">plastid nucleoid</text>
<rect x="165.30" y="70.14" width="71.30" height="3.52" fill="#fbd291"/>
<rect x="165.30" y="70.34" width="71.30" height="2.70" fill="#f8ad45"/>
<text x="239.80" y="73.34" font-size="3.62" text-anchor="start" fill="#111">nucleic acid phosphodiester bond hydrolysis</text>
<rect x="165.30" y="73.66" width="70.50" height="3.52" fill="#fbd291"/>
<rect x="165.30" y="73.86" width="70.50" height="2.70" fill="#f8ad45"/>
<text x="239.80" y="76.96" font-size="3.62" text-anchor="start" fill="#111">RNA modification</text>
<rect x="165.30" y="77.18" width="20.20" height="3.52" fill="#fbd291"/>
<rect x="165.30" y="77.38" width="20.20" height="2.70" fill="#f8ad45"/>
<text x="188.30" y="80.68" font-size="3.62" text-anchor="start" fill="#111">macromolecule modification</text>
<rect x="165.30" y="80.70" width="18.90" height="3.52" fill="#fbd291"/>
<rect x="165.30" y="80.90" width="18.90" height="2.70" fill="#f8ad45"/>
<text x="187.00" y="84.20" font-size="3.62" text-anchor="start" fill="#111">lipid metabolic process</text>
<rect x="165.30" y="84.22" width="18.10" height="3.52" fill="#fbd291"/>
<rect x="165.30" y="84.42" width="18.10" height="2.70" fill="#f8ad45"/>
<text x="186.20" y="87.72" font-size="3.62" text-anchor="start" fill="#111">ribosome biogenesis</text>
<rect x="165.30" y="87.74" width="16.70" height="3.52" fill="#fbd291"/>
<rect x="165.30" y="87.94" width="16.70" height="2.70" fill="#f8ad45"/>
<text x="184.80" y="91.24" font-size="3.62" text-anchor="start" fill="#111">rRNA processing</text>
<rect x="165.30" y="91.26" width="16.30" height="3.52" fill="#fbd291"/>
<rect x="165.30" y="91.46" width="16.30" height="2.70" fill="#f8ad45"/>
<text x="184.40" y="94.76" font-size="3.62" text-anchor="start" fill="#111">sulfur compound metabolic process</text>
<rect x="165.30" y="94.78" width="16.20" height="3.52" fill="#fbd291"/>
<rect x="165.30" y="94.98" width="16.20" height="2.70" fill="#f8ad45"/>
<text x="184.30" y="98.28" font-size="3.62" text-anchor="start" fill="#111">carbohydrate transport</text>
<rect x="165.30" y="98.30" width="15.90" height="3.52" fill="#fbd291"/>
<rect x="165.30" y="98.50" width="15.90" height="2.70" fill="#f8ad45"/>
<text x="184.00" y="101.80" font-size="3.62" text-anchor="start" fill="#111">rRNA metabolic process</text>
<rect x="165.30" y="101.82" width="15.70" height="3.52" fill="#fbd291"/>
<rect x="165.30" y="102.02" width="15.70" height="2.70" fill="#f8ad45"/>
<text x="183.80" y="105.32" font-size="3.62" text-anchor="start" fill="#111">ncRNA modification</text>
<rect x="165.30" y="105.34" width="13.70" height="3.52" fill="#fbd291"/>
<rect x="165.30" y="105.54" width="13.70" height="2.70" fill="#f8ad45"/>
<text x="181.80" y="108.84" font-size="3.62" text-anchor="start" fill="#111">response to heat</text>
<rect x="165.30" y="108.86" width="12.90" height="3.52" fill="#fbd291"/>
<rect x="165.30" y="109.06" width="12.90" height="2.70" fill="#f8ad45"/>
<text x="181.00" y="112.36" font-size="3.62" text-anchor="start" fill="#111">cellular amino acid metabolic process</text>
<rect x="165.30" y="112.38" width="12.90" height="3.52" fill="#fbd291"/>
<rect x="165.30" y="112.58" width="12.90" height="2.70" fill="#f8ad45"/>
<text x="181.00" y="115.88" font-size="3.62" text-anchor="start" fill="#111">lipid modification</text>
<rect x="165.30" y="115.90" width="12.90" height="3.52" fill="#fbd291"/>
<rect x="165.30" y="116.10" width="12.90" height="2.70" fill="#f8ad45"/>
<text x="181.00" y="119.40" font-size="3.62" text-anchor="start" fill="#111">alcohol metabolic process</text>
<rect x="165.30" y="119.42" width="12.70" height="3.52" fill="#fbd291"/>
<rect x="165.30" y="119.62" width="12.70" height="2.70" fill="#f8ad45"/>
<text x="180.80" y="122.92" font-size="3.62" text-anchor="start" fill="#111">ribonucleoprotein complex biogenesis</text>
<rect x="165.30" y="122.94" width="12.40" height="3.52" fill="#fbd291"/>
<rect x="165.30" y="123.14" width="12.40" height="2.70" fill="#f8ad45"/>
<text x="180.50" y="126.44" font-size="3.62" text-anchor="start" fill="#111">cytidine to uridine editing</text>
<rect x="165.30" y="126.46" width="12.20" height="3.52" fill="#fbd291"/>
<rect x="165.30" y="126.66" width="12.20" height="2.70" fill="#f8ad45"/>
<text x="180.30" y="129.96" font-size="3.62" text-anchor="start" fill="#111">carboxylic acid metabolic process</text>
<rect x="165.30" y="129.98" width="11.90" height="3.52" fill="#fbd291"/>
<rect x="165.30" y="130.18" width="11.90" height="2.70" fill="#f8ad45"/>
<text x="180.00" y="133.48" font-size="3.62" text-anchor="start" fill="#111">photosynthesis, light harvesting</text>
<line x1="164.90" y1="8.40" x2="164.90" y2="135.70" stroke="#1a1a1a" stroke-width="0.9"/>
<line x1="164.90" y1="135.70" x2="239.30" y2="135.70" stroke="#1a1a1a" stroke-width="0.8"/>
<line x1="164.90" y1="135.70" x2="164.90" y2="136.90" stroke="#222" stroke-width="0.5"/>
<text x="164.90" y="140.80" font-size="3.2" text-anchor="middle" fill="#222">0.00</text>
<line x1="174.20" y1="135.70" x2="174.20" y2="136.90" stroke="#222" stroke-width="0.5"/>
<text x="174.20" y="140.80" font-size="3.2" text-anchor="middle" fill="#222">2.00</text>
<line x1="183.50" y1="135.70" x2="183.50" y2="136.90" stroke="#222" stroke-width="0.5"/>
<text x="183.50" y="140.80" font-size="3.2" text-anchor="middle" fill="#222">4.00</text>
<line x1="192.80" y1="135.70" x2="192.80" y2="136.90" stroke="#222" stroke-width="0.5"/>
<text x="192.80" y="140.80" font-size="3.2" text-anchor="middle" fill="#222">6.00</text>
<line x1="202.10" y1="135.70" x2="202.10" y2="136.90" stroke="#222" stroke-width="0.5"/>
<text x="202.10" y="140.80" font-size="3.2" text-anchor="middle" fill="#222">8.00</text>
<line x1="211.40" y1="135.70" x2="211.40" y2="136.90" stroke="#222" stroke-width="0.5"/>
<text x="211.40" y="140.80" font-size="3.2" text-anchor="middle" fill="#222">10.00</text>
<line x1="220.70" y1="135.70" x2="220.70" y2="136.90" stroke="#222" stroke-width="0.5"/>
<text x="220.70" y="140.80" font-size="3.2" text-anchor="middle" fill="#222">12.00</text>
<line x1="230.00" y1="135.70" x2="230.00" y2="136.90" stroke="#222" stroke-width="0.5"/>
<text x="230.00" y="140.80" font-size="3.2" text-anchor="middle" fill="#222">14.00</text>
<line x1="239.30" y1="135.70" x2="239.30" y2="136.90" stroke="#222" stroke-width="0.5"/>
<text x="239.30" y="140.80" font-size="3.2" text-anchor="middle" fill="#222">16.00</text>
<text x="206.20" y="146.40" font-size="3.1" text-anchor="middle" fill="#333">log10(P-value)</text>
<text x="162.20" y="74.80" font-size="3.3" text-anchor="middle" fill="#333" transform="rotate(-90 162.20 74.80)" stroke="#333" stroke-width="0.08">GO Term</text>
<rect x="250.20" y="121.90" width="5.80" height="2.60" fill="#1b6ca6"/>
<text x="257.00" y="124.40" font-size="3.6" text-anchor="start" fill="#1a1a1a">Molecular function</text>
<rect x="250.20" y="126.80" width="5.80" height="2.60" fill="#e95a30"/>
<text x="257.00" y="129.30" font-size="3.6" text-anchor="start" fill="#1a1a1a">Cellular component</text>
<rect x="250.20" y="131.70" width="5.80" height="2.60" fill="#f8ad45"/>
<text x="257.00" y="134.20" font-size="3.6" text-anchor="start" fill="#1a1a1a">Biological process</text>
<line x1="190.20" y1="156.50" x2="190.20" y2="214.30" stroke="#222" stroke-width="0.9"/>
<line x1="190.20" y1="214.30" x2="263.50" y2="214.30" stroke="#222" stroke-width="0.7"/>
<line x1="190.60" y1="214.30" x2="190.60" y2="215.50" stroke="#222" stroke-width="0.5"/>
<text x="190.60" y="219.70" font-size="3.4" text-anchor="middle" fill="#222">0.00</text>
<line x1="205.00" y1="214.30" x2="205.00" y2="215.50" stroke="#222" stroke-width="0.5"/>
<text x="205.00" y="219.70" font-size="3.4" text-anchor="middle" fill="#222">1.00</text>
<line x1="219.40" y1="214.30" x2="219.40" y2="215.50" stroke="#222" stroke-width="0.5"/>
<text x="219.40" y="219.70" font-size="3.4" text-anchor="middle" fill="#222">2.00</text>
<line x1="233.80" y1="214.30" x2="233.80" y2="215.50" stroke="#222" stroke-width="0.5"/>
<text x="233.80" y="219.70" font-size="3.4" text-anchor="middle" fill="#222">3.00</text>
<line x1="248.20" y1="214.30" x2="248.20" y2="215.50" stroke="#222" stroke-width="0.5"/>
<text x="248.20" y="219.70" font-size="3.4" text-anchor="middle" fill="#222">4.00</text>
<line x1="262.60" y1="214.30" x2="262.60" y2="215.50" stroke="#222" stroke-width="0.5"/>
<text x="262.60" y="219.70" font-size="3.4" text-anchor="middle" fill="#222">5.00</text>
<text x="218.40" y="224.20" font-size="3.2" text-anchor="middle" fill="#333">log10(P-value)</text>
<text x="186.90" y="184.40" font-size="2.5" text-anchor="middle" fill="#333" transform="rotate(-90 186.90 184.40)" stroke="#333" stroke-width="0.1">KEGG Pathway</text>
<path d="M190.60 158.20H261.30v2.64H190.60zM190.60 160.84H256.76v2.64H190.60zM190.60 163.49H252.62v2.64H190.60zM190.60 166.13H247.78v2.64H190.60zM190.60 168.77H244.48v2.64H190.60zM190.60 171.41H242.20v2.64H190.60zM190.60 174.06H238.83v2.64H190.60zM190.60 176.70H236.22v2.64H190.60zM190.60 179.34H233.76v2.64H190.60zM190.60 181.99H231.71v2.64H190.60zM190.60 184.63H230.85v2.64H190.60zM190.60 187.27H229.71v2.64H190.60zM190.60 189.91H228.35v2.64H190.60zM190.60 192.56H226.75v2.64H190.60zM190.60 195.20H225.53v2.64H190.60zM190.60 197.84H224.29v2.64H190.60zM190.60 200.49H222.69v2.64H190.60zM190.60 203.13H221.70v2.64H190.60zM190.60 205.77H220.89v2.64H190.60zM190.60 208.41H220.20v2.64H190.60zM190.60 211.06H219.70v2.64H190.60z" fill="#f7cc8a"/>
<path d="M190.60 158.20H261.30v1.85H190.60zM190.60 160.84H256.76v1.85H190.60zM190.60 163.49H252.62v1.85H190.60zM190.60 166.13H247.78v1.85H190.60zM190.60 168.77H244.48v1.85H190.60zM190.60 171.41H242.20v1.85H190.60zM190.60 174.06H238.83v1.85H190.60zM190.60 176.70H236.22v1.85H190.60zM190.60 179.34H233.76v1.85H190.60zM190.60 181.99H231.71v1.85H190.60zM190.60 184.63H230.85v1.85H190.60zM190.60 187.27H229.71v1.85H190.60zM190.60 189.91H228.35v1.85H190.60zM190.60 192.56H226.75v1.85H190.60zM190.60 195.20H225.53v1.85H190.60zM190.60 197.84H224.29v1.85H190.60zM190.60 200.49H222.69v1.85H190.60zM190.60 203.13H221.70v1.85H190.60zM190.60 205.77H220.89v1.85H190.60zM190.60 208.41H220.20v1.85H190.60zM190.60 211.06H219.70v1.85H190.60z" fill="#f8bf3c"/>
<text x="262.30" y="160.40" font-size="3.8" text-anchor="start" fill="#333">04712 Circadian rhythm - plant</text>
<text x="257.76" y="163.04" font-size="3.8" text-anchor="start" fill="#333">00330 Arginine and proline metabolism</text>
<text x="253.62" y="165.69" font-size="3.8" text-anchor="start" fill="#333">03110 Chaperones and folding catalysts</text>
<text x="248.78" y="168.33" font-size="3.8" text-anchor="start" fill="#333">00730 Thiamine metabolism</text>
<text x="245.48" y="170.97" font-size="3.8" text-anchor="start" fill="#333">03009 Ribosome biogenesis</text>
<text x="243.20" y="173.61" font-size="3.8" text-anchor="start" fill="#333">00620 Pyruvate metabolism</text>
<text x="239.83" y="176.26" font-size="3.8" text-anchor="start" fill="#333">01060 Biosynthesis of other amino acids</text>
<text x="237.22" y="178.90" font-size="3.8" text-anchor="start" fill="#333">03008 Ribosome biogenesis in eukaryotes</text>
<text x="234.76" y="181.54" font-size="3.8" text-anchor="start" fill="#333">04075 Plant hormone signal transduction</text>
<text x="232.71" y="184.19" font-size="3.8" text-anchor="start" fill="#333">00905 Brassinosteroid biosynthesis</text>
<text x="231.85" y="186.83" font-size="3.8" text-anchor="start" fill="#333">00500 Starch and sucrose metabolism</text>
<text x="230.71" y="189.47" font-size="3.8" text-anchor="start" fill="#333">00196 Photosynthesis - antenna proteins</text>
<text x="229.35" y="192.11" font-size="3.8" text-anchor="start" fill="#333">00790 Folate biosynthesis</text>
<text x="227.75" y="194.76" font-size="3.8" text-anchor="start" fill="#333">04070 Phosphatidylinositol signaling system</text>
<text x="226.53" y="197.40" font-size="3.8" text-anchor="start" fill="#333">00999 Biosynthesis of other secondary metabolites</text>
<text x="225.29" y="200.04" font-size="3.8" text-anchor="start" fill="#333">00564 Glycerophospholipid metabolism</text>
<text x="223.69" y="202.69" font-size="3.8" text-anchor="start" fill="#333">00561 Glycerolipid metabolism</text>
<text x="222.70" y="205.33" font-size="3.8" text-anchor="start" fill="#333">01003 Glycosyltransferases</text>
<text x="221.89" y="207.97" font-size="3.8" text-anchor="start" fill="#333">00240 Pyrimidine metabolism</text>
<text x="221.20" y="210.61" font-size="3.8" text-anchor="start" fill="#333">00230 Purine metabolism</text>
<text x="220.70" y="213.26" font-size="3.8" text-anchor="start" fill="#333">02000 Transporters</text>
<path d="M274.30 233.60h5.22v1.30h-5.22zM284.65 235.60h5.22v1.30h-5.22zM315.70 239.61h5.22v1.30h-5.22zM289.82 261.64h5.22v1.30h-5.22zM295.00 270.65h5.22v1.30h-5.22zM300.18 276.66h5.22v1.30h-5.22zM289.82 277.66h5.22v1.30h-5.22zM300.18 289.68h5.22v1.30h-5.22zM300.18 292.68h5.22v1.30h-5.22zM300.18 293.68h5.22v1.30h-5.22zM300.18 298.69h5.22v1.30h-5.22zM300.18 300.69h5.22v1.30h-5.22zM305.35 308.70h5.22v1.30h-5.22zM320.88 323.72h5.22v1.30h-5.22zM320.88 338.74h5.22v1.30h-5.22zM310.52 357.77h5.22v1.30h-5.22zM300.18 368.79h5.22v1.30h-5.22zM274.30 372.79h5.22v1.30h-5.22zM320.88 373.79h5.22v1.30h-5.22zM320.88 374.79h5.22v1.30h-5.22z" fill="#bbd9e8"/>
<path d="M279.48 233.60h5.22v1.30h-5.22zM279.48 234.60h5.22v1.30h-5.22zM310.52 244.62h5.22v1.30h-5.22zM284.65 245.62h5.22v1.30h-5.22zM289.82 250.62h5.22v1.30h-5.22zM284.65 251.62h5.22v1.30h-5.22zM295.00 255.63h5.22v1.30h-5.22zM300.18 255.63h5.22v1.30h-5.22zM295.00 257.63h5.22v1.30h-5.22zM295.00 258.63h5.22v1.30h-5.22zM279.48 261.64h5.22v1.30h-5.22zM289.82 262.64h5.22v1.30h-5.22zM295.00 262.64h5.22v1.30h-5.22zM295.00 266.65h5.22v1.30h-5.22zM284.65 273.66h5.22v1.30h-5.22zM279.48 274.66h5.22v1.30h-5.22zM279.48 276.66h5.22v1.30h-5.22zM295.00 276.66h5.22v1.30h-5.22zM274.30 279.66h5.22v1.30h-5.22zM289.82 293.68h5.22v1.30h-5.22zM274.30 295.69h5.22v1.30h-5.22zM300.18 296.69h5.22v1.30h-5.22zM295.00 299.69h5.22v1.30h-5.22zM305.35 300.69h5.22v1.30h-5.22zM310.52 300.69h5.22v1.30h-5.22zM315.70 302.70h5.22v1.30h-5.22zM315.70 304.70h5.22v1.30h-5.22zM305.35 312.71h5.22v1.30h-5.22zM331.22 312.71h5.22v1.30h-5.22zM320.88 314.71h5.22v1.30h-5.22zM315.70 315.71h5.22v1.30h-5.22zM326.05 317.72h5.22v1.30h-5.22zM305.35 335.74h5.22v1.30h-5.22zM310.52 341.75h5.22v1.30h-5.22zM305.35 346.76h5.22v1.30h-5.22zM310.52 348.76h5.22v1.30h-5.22zM326.05 351.76h5.22v1.30h-5.22zM310.52 353.77h5.22v1.30h-5.22zM315.70 356.77h5.22v1.30h-5.22zM326.05 361.78h5.22v1.30h-5.22zM331.22 361.78h5.22v1.30h-5.22zM331.22 365.78h5.22v1.30h-5.22zM320.88 366.78h5.22v1.30h-5.22zM320.88 369.79h5.22v1.30h-5.22z" fill="#d9e8ed"/>
<path d="M284.65 233.60h5.22v1.30h-5.22zM274.30 239.61h5.22v1.30h-5.22zM279.48 242.61h5.22v1.30h-5.22zM295.00 292.68h5.22v1.30h-5.22zM326.05 312.71h5.22v1.30h-5.22zM305.35 322.72h5.22v1.30h-5.22zM310.52 322.72h5.22v1.30h-5.22zM305.35 323.72h5.22v1.30h-5.22zM326.05 347.76h5.22v1.30h-5.22zM300.18 370.79h5.22v1.30h-5.22z" fill="#cfe8ed"/>
<path d="M289.82 233.60h5.22v1.30h-5.22zM315.70 233.60h5.22v1.30h-5.22zM326.05 233.60h5.22v1.30h-5.22zM315.70 235.60h5.22v1.30h-5.22zM284.65 236.60h5.22v1.30h-5.22zM305.35 236.60h5.22v1.30h-5.22zM279.48 238.61h5.22v1.30h-5.22zM284.65 238.61h5.22v1.30h-5.22zM326.05 239.61h5.22v1.30h-5.22zM289.82 241.61h5.22v1.30h-5.22zM289.82 245.62h5.22v1.30h-5.22zM310.52 246.62h5.22v1.30h-5.22zM289.82 247.62h5.22v1.30h-5.22zM279.48 252.63h5.22v1.30h-5.22zM274.30 256.63h5.22v1.30h-5.22zM279.48 256.63h5.22v1.30h-5.22zM284.65 257.63h5.22v1.30h-5.22zM284.65 260.64h5.22v1.30h-5.22zM274.30 263.64h5.22v1.30h-5.22zM279.48 264.64h5.22v1.30h-5.22zM274.30 265.64h5.22v1.30h-5.22zM295.00 267.65h5.22v1.30h-5.22zM300.18 267.65h5.22v1.30h-5.22zM279.48 271.65h5.22v1.30h-5.22zM284.65 271.65h5.22v1.30h-5.22zM284.65 272.65h5.22v1.30h-5.22zM305.35 273.66h5.22v1.30h-5.22zM315.70 273.66h5.22v1.30h-5.22zM305.35 274.66h5.22v1.30h-5.22zM284.65 275.66h5.22v1.30h-5.22zM279.48 280.66h5.22v1.30h-5.22zM284.65 280.66h5.22v1.30h-5.22zM274.30 282.67h5.22v1.30h-5.22zM289.82 282.67h5.22v1.30h-5.22zM295.00 282.67h5.22v1.30h-5.22zM295.00 284.67h5.22v1.30h-5.22zM305.35 285.67h5.22v1.30h-5.22zM305.35 288.68h5.22v1.30h-5.22zM279.48 290.68h5.22v1.30h-5.22zM284.65 290.68h5.22v1.30h-5.22zM279.48 291.68h5.22v1.30h-5.22zM284.65 291.68h5.22v1.30h-5.22zM279.48 294.68h5.22v1.30h-5.22zM315.70 298.69h5.22v1.30h-5.22zM284.65 299.69h5.22v1.30h-5.22zM279.48 301.69h5.22v1.30h-5.22zM326.05 303.70h5.22v1.30h-5.22zM274.30 305.70h5.22v1.30h-5.22zM305.35 305.70h5.22v1.30h-5.22zM310.52 305.70h5.22v1.30h-5.22zM315.70 311.71h5.22v1.30h-5.22zM310.52 314.71h5.22v1.30h-5.22zM326.05 314.71h5.22v1.30h-5.22zM305.35 316.71h5.22v1.30h-5.22zM274.30 317.72h5.22v1.30h-5.22zM315.70 319.72h5.22v1.30h-5.22zM331.22 319.72h5.22v1.30h-5.22zM305.35 321.72h5.22v1.30h-5.22zM284.65 322.72h5.22v1.30h-5.22zM320.88 324.73h5.22v1.30h-5.22zM331.22 325.73h5.22v1.30h-5.22zM284.65 328.73h5.22v1.30h-5.22zM279.48 329.73h5.22v1.30h-5.22zM284.65 329.73h5.22v1.30h-5.22zM279.48 330.73h5.22v1.30h-5.22zM326.05 332.74h5.22v1.30h-5.22zM331.22 333.74h5.22v1.30h-5.22zM315.70 334.74h5.22v1.30h-5.22zM331.22 336.74h5.22v1.30h-5.22zM305.35 337.74h5.22v1.30h-5.22zM305.35 339.75h5.22v1.30h-5.22zM284.65 341.75h5.22v1.30h-5.22zM331.22 346.76h5.22v1.30h-5.22zM300.18 348.76h5.22v1.30h-5.22zM315.70 349.76h5.22v1.30h-5.22zM305.35 350.76h5.22v1.30h-5.22zM310.52 350.76h5.22v1.30h-5.22zM295.00 353.77h5.22v1.30h-5.22zM305.35 354.77h5.22v1.30h-5.22zM315.70 354.77h5.22v1.30h-5.22zM305.35 358.77h5.22v1.30h-5.22zM279.48 359.77h5.22v1.30h-5.22zM331.22 363.78h5.22v1.30h-5.22zM326.05 368.79h5.22v1.30h-5.22zM331.22 370.79h5.22v1.30h-5.22zM284.65 371.79h5.22v1.30h-5.22zM300.18 373.79h5.22v1.30h-5.22zM284.65 376.80h5.22v1.30h-5.22zM284.65 377.80h5.22v1.30h-5.22z" fill="#fcf2d4"/>
<path d="M295.00 233.60h5.22v1.30h-5.22zM284.65 246.62h5.22v1.30h-5.22zM289.82 249.62h5.22v1.30h-5.22zM289.82 253.63h5.22v1.30h-5.22zM274.30 257.63h5.22v1.30h-5.22zM284.65 259.64h5.22v1.30h-5.22zM300.18 264.64h5.22v1.30h-5.22zM274.30 277.66h5.22v1.30h-5.22zM279.48 279.66h5.22v1.30h-5.22zM284.65 279.66h5.22v1.30h-5.22zM279.48 281.67h5.22v1.30h-5.22zM279.48 284.67h5.22v1.30h-5.22zM279.48 285.67h5.22v1.30h-5.22zM284.65 286.67h5.22v1.30h-5.22zM305.35 287.67h5.22v1.30h-5.22zM289.82 297.69h5.22v1.30h-5.22zM295.00 297.69h5.22v1.30h-5.22zM289.82 301.69h5.22v1.30h-5.22zM295.00 301.69h5.22v1.30h-5.22zM326.05 302.70h5.22v1.30h-5.22zM305.35 303.70h5.22v1.30h-5.22zM331.22 313.71h5.22v1.30h-5.22zM305.35 314.71h5.22v1.30h-5.22zM315.70 320.72h5.22v1.30h-5.22zM305.35 326.73h5.22v1.30h-5.22zM326.05 328.73h5.22v1.30h-5.22zM305.35 330.73h5.22v1.30h-5.22zM305.35 331.74h5.22v1.30h-5.22zM284.65 332.74h5.22v1.30h-5.22zM326.05 333.74h5.22v1.30h-5.22zM315.70 336.74h5.22v1.30h-5.22zM310.52 338.74h5.22v1.30h-5.22zM310.52 340.75h5.22v1.30h-5.22zM315.70 340.75h5.22v1.30h-5.22zM326.05 340.75h5.22v1.30h-5.22zM331.22 341.75h5.22v1.30h-5.22zM331.22 342.75h5.22v1.30h-5.22zM305.35 343.75h5.22v1.30h-5.22zM331.22 343.75h5.22v1.30h-5.22zM274.30 345.75h5.22v1.30h-5.22zM284.65 347.76h5.22v1.30h-5.22zM305.35 356.77h5.22v1.30h-5.22zM310.52 358.77h5.22v1.30h-5.22zM310.52 359.77h5.22v1.30h-5.22zM326.05 363.78h5.22v1.30h-5.22zM326.05 364.78h5.22v1.30h-5.22zM326.05 370.79h5.22v1.30h-5.22zM305.35 373.79h5.22v1.30h-5.22zM315.70 373.79h5.22v1.30h-5.22zM315.70 377.80h5.22v1.30h-5.22zM326.05 377.80h5.22v1.30h-5.22z" fill="#ededde"/>
<path d="M300.18 233.60h5.22v1.30h-5.22zM305.35 233.60h5.22v1.30h-5.22zM320.88 233.60h5.22v1.30h-5.22zM289.82 234.60h5.22v1.30h-5.22zM300.18 234.60h5.22v1.30h-5.22zM295.00 235.60h5.22v1.30h-5.22zM300.18 235.60h5.22v1.30h-5.22zM274.30 236.60h5.22v1.30h-5.22zM279.48 236.60h5.22v1.30h-5.22zM274.30 238.61h5.22v1.30h-5.22zM310.52 242.61h5.22v1.30h-5.22zM305.35 243.61h5.22v1.30h-5.22zM289.82 244.62h5.22v1.30h-5.22zM310.52 245.62h5.22v1.30h-5.22zM284.65 249.62h5.22v1.30h-5.22zM284.65 252.63h5.22v1.30h-5.22zM279.48 255.63h5.22v1.30h-5.22zM284.65 256.63h5.22v1.30h-5.22zM310.52 256.63h5.22v1.30h-5.22zM315.70 256.63h5.22v1.30h-5.22zM310.52 258.63h5.22v1.30h-5.22zM315.70 258.63h5.22v1.30h-5.22zM284.65 263.64h5.22v1.30h-5.22zM274.30 267.65h5.22v1.30h-5.22zM279.48 267.65h5.22v1.30h-5.22zM279.48 269.65h5.22v1.30h-5.22zM284.65 270.65h5.22v1.30h-5.22zM310.52 274.66h5.22v1.30h-5.22zM279.48 275.66h5.22v1.30h-5.22zM284.65 277.66h5.22v1.30h-5.22zM284.65 281.67h5.22v1.30h-5.22zM279.48 286.67h5.22v1.30h-5.22zM310.52 288.68h5.22v1.30h-5.22zM274.30 291.68h5.22v1.30h-5.22zM284.65 292.68h5.22v1.30h-5.22zM279.48 293.68h5.22v1.30h-5.22zM331.22 304.70h5.22v1.30h-5.22zM274.30 306.70h5.22v1.30h-5.22zM274.30 312.71h5.22v1.30h-5.22zM279.48 312.71h5.22v1.30h-5.22zM305.35 313.71h5.22v1.30h-5.22zM310.52 318.72h5.22v1.30h-5.22zM315.70 318.72h5.22v1.30h-5.22zM310.52 321.72h5.22v1.30h-5.22zM315.70 321.72h5.22v1.30h-5.22zM326.05 321.72h5.22v1.30h-5.22zM331.22 321.72h5.22v1.30h-5.22zM315.70 324.73h5.22v1.30h-5.22zM305.35 329.73h5.22v1.30h-5.22zM279.48 332.74h5.22v1.30h-5.22zM331.22 332.74h5.22v1.30h-5.22zM305.35 334.74h5.22v1.30h-5.22zM274.30 338.74h5.22v1.30h-5.22zM315.70 339.75h5.22v1.30h-5.22zM331.22 340.75h5.22v1.30h-5.22zM274.30 341.75h5.22v1.30h-5.22zM279.48 344.75h5.22v1.30h-5.22zM279.48 345.75h5.22v1.30h-5.22zM284.65 345.75h5.22v1.30h-5.22zM326.05 346.76h5.22v1.30h-5.22zM274.30 347.76h5.22v1.30h-5.22zM300.18 347.76h5.22v1.30h-5.22zM331.22 349.76h5.22v1.30h-5.22zM331.22 352.76h5.22v1.30h-5.22zM289.82 353.77h5.22v1.30h-5.22zM326.05 353.77h5.22v1.30h-5.22zM295.00 354.77h5.22v1.30h-5.22zM310.52 354.77h5.22v1.30h-5.22zM326.05 358.77h5.22v1.30h-5.22zM315.70 359.77h5.22v1.30h-5.22zM326.05 359.77h5.22v1.30h-5.22zM310.52 364.78h5.22v1.30h-5.22zM295.00 367.78h5.22v1.30h-5.22zM305.35 367.78h5.22v1.30h-5.22zM310.52 367.78h5.22v1.30h-5.22zM295.00 368.79h5.22v1.30h-5.22zM274.30 371.79h5.22v1.30h-5.22zM310.52 373.79h5.22v1.30h-5.22zM326.05 375.80h5.22v1.30h-5.22z" fill="#f7f2d9"/>
<path d="M310.52 233.60h5.22v1.30h-5.22zM305.35 235.60h5.22v1.30h-5.22zM310.52 243.61h5.22v1.30h-5.22zM284.65 248.62h5.22v1.30h-5.22zM305.35 248.62h5.22v1.30h-5.22zM305.35 259.64h5.22v1.30h-5.22zM279.48 263.64h5.22v1.30h-5.22zM289.82 263.64h5.22v1.30h-5.22zM310.52 264.64h5.22v1.30h-5.22zM274.30 275.66h5.22v1.30h-5.22zM279.48 277.66h5.22v1.30h-5.22zM295.00 280.66h5.22v1.30h-5.22zM315.70 287.67h5.22v1.30h-5.22zM274.30 290.68h5.22v1.30h-5.22zM279.48 298.69h5.22v1.30h-5.22zM305.35 310.71h5.22v1.30h-5.22zM284.65 315.71h5.22v1.30h-5.22zM305.35 320.72h5.22v1.30h-5.22zM326.05 327.73h5.22v1.30h-5.22zM274.30 335.74h5.22v1.30h-5.22zM279.48 335.74h5.22v1.30h-5.22zM326.05 341.75h5.22v1.30h-5.22zM315.70 352.76h5.22v1.30h-5.22zM295.00 357.77h5.22v1.30h-5.22zM315.70 367.78h5.22v1.30h-5.22zM274.30 376.80h5.22v1.30h-5.22zM310.52 377.80h5.22v1.30h-5.22z" fill="#f2f2d9"/>
<path d="M331.22 233.60h5.22v1.30h-5.22zM300.18 236.60h5.22v1.30h-5.22zM279.48 237.61h5.22v1.30h-5.22zM274.30 242.61h5.22v1.30h-5.22zM310.52 247.62h5.22v1.30h-5.22zM315.70 247.62h5.22v1.30h-5.22zM274.30 252.63h5.22v1.30h-5.22zM279.48 254.63h5.22v1.30h-5.22zM284.65 254.63h5.22v1.30h-5.22zM305.35 256.63h5.22v1.30h-5.22zM315.70 261.64h5.22v1.30h-5.22zM274.30 264.64h5.22v1.30h-5.22zM279.48 265.64h5.22v1.30h-5.22zM284.65 265.64h5.22v1.30h-5.22zM274.30 266.65h5.22v1.30h-5.22zM305.35 275.66h5.22v1.30h-5.22zM305.35 281.67h5.22v1.30h-5.22zM289.82 283.67h5.22v1.30h-5.22zM295.00 283.67h5.22v1.30h-5.22zM310.52 285.67h5.22v1.30h-5.22zM315.70 285.67h5.22v1.30h-5.22zM310.52 289.68h5.22v1.30h-5.22zM315.70 292.68h5.22v1.30h-5.22zM305.35 298.69h5.22v1.30h-5.22zM274.30 299.69h5.22v1.30h-5.22zM331.22 308.70h5.22v1.30h-5.22zM305.35 309.70h5.22v1.30h-5.22zM326.05 310.71h5.22v1.30h-5.22zM326.05 313.71h5.22v1.30h-5.22zM315.70 317.72h5.22v1.30h-5.22zM305.35 319.72h5.22v1.30h-5.22zM326.05 326.73h5.22v1.30h-5.22zM284.65 330.73h5.22v1.30h-5.22zM295.00 330.73h5.22v1.30h-5.22zM300.18 330.73h5.22v1.30h-5.22zM279.48 331.74h5.22v1.30h-5.22zM315.70 332.74h5.22v1.30h-5.22zM315.70 333.74h5.22v1.30h-5.22zM274.30 334.74h5.22v1.30h-5.22zM284.65 336.74h5.22v1.30h-5.22zM279.48 341.75h5.22v1.30h-5.22zM274.30 344.75h5.22v1.30h-5.22zM289.82 348.76h5.22v1.30h-5.22zM274.30 350.76h5.22v1.30h-5.22zM315.70 350.76h5.22v1.30h-5.22zM331.22 350.76h5.22v1.30h-5.22zM289.82 351.76h5.22v1.30h-5.22zM295.00 351.76h5.22v1.30h-5.22zM279.48 352.76h5.22v1.30h-5.22zM300.18 359.77h5.22v1.30h-5.22zM300.18 360.78h5.22v1.30h-5.22zM305.35 364.78h5.22v1.30h-5.22zM274.30 365.78h5.22v1.30h-5.22zM279.48 365.78h5.22v1.30h-5.22zM289.82 365.78h5.22v1.30h-5.22zM310.52 366.78h5.22v1.30h-5.22zM289.82 372.79h5.22v1.30h-5.22zM295.00 374.79h5.22v1.30h-5.22zM331.22 375.80h5.22v1.30h-5.22zM331.22 376.80h5.22v1.30h-5.22zM279.48 377.80h5.22v1.30h-5.22z" fill="#fcedca"/>
<path d="M274.30 234.60h5.22v1.30h-5.22zM305.35 241.61h5.22v1.30h-5.22zM315.70 241.61h5.22v1.30h-5.22zM289.82 257.63h5.22v1.30h-5.22zM274.30 258.63h5.22v1.30h-5.22zM274.30 260.64h5.22v1.30h-5.22zM300.18 262.64h5.22v1.30h-5.22zM284.65 269.65h5.22v1.30h-5.22zM274.30 271.65h5.22v1.30h-5.22zM295.00 271.65h5.22v1.30h-5.22zM295.00 275.66h5.22v1.30h-5.22zM274.30 276.66h5.22v1.30h-5.22zM284.65 276.66h5.22v1.30h-5.22zM295.00 285.67h5.22v1.30h-5.22zM284.65 287.67h5.22v1.30h-5.22zM295.00 291.68h5.22v1.30h-5.22zM274.30 297.69h5.22v1.30h-5.22zM279.48 300.69h5.22v1.30h-5.22zM310.52 307.70h5.22v1.30h-5.22zM315.70 307.70h5.22v1.30h-5.22zM284.65 308.70h5.22v1.30h-5.22zM279.48 313.71h5.22v1.30h-5.22zM310.52 315.71h5.22v1.30h-5.22zM315.70 323.72h5.22v1.30h-5.22zM310.52 325.73h5.22v1.30h-5.22zM310.52 330.73h5.22v1.30h-5.22zM310.52 335.74h5.22v1.30h-5.22zM326.05 335.74h5.22v1.30h-5.22zM315.70 338.74h5.22v1.30h-5.22zM305.35 342.75h5.22v1.30h-5.22zM305.35 344.75h5.22v1.30h-5.22zM310.52 352.76h5.22v1.30h-5.22zM289.82 357.77h5.22v1.30h-5.22zM326.05 360.78h5.22v1.30h-5.22zM279.48 372.79h5.22v1.30h-5.22zM295.00 373.79h5.22v1.30h-5.22z" fill="#deede8"/>
<path d="M284.65 234.60h5.22v1.30h-5.22zM274.30 245.62h5.22v1.30h-5.22zM300.18 253.63h5.22v1.30h-5.22zM300.18 265.64h5.22v1.30h-5.22zM274.30 268.65h5.22v1.30h-5.22zM295.00 281.67h5.22v1.30h-5.22zM274.30 286.67h5.22v1.30h-5.22zM295.00 290.68h5.22v1.30h-5.22zM289.82 298.69h5.22v1.30h-5.22zM279.48 316.71h5.22v1.30h-5.22zM326.05 323.72h5.22v1.30h-5.22zM310.52 342.75h5.22v1.30h-5.22zM315.70 355.77h5.22v1.30h-5.22zM331.22 356.77h5.22v1.30h-5.22zM326.05 367.78h5.22v1.30h-5.22z" fill="#d9e8e8"/>
<path d="M295.00 234.60h5.22v1.30h-5.22zM289.82 239.61h5.22v1.30h-5.22zM305.35 246.62h5.22v1.30h-5.22zM315.70 246.62h5.22v1.30h-5.22zM289.82 248.62h5.22v1.30h-5.22zM274.30 253.63h5.22v1.30h-5.22zM284.65 253.63h5.22v1.30h-5.22zM274.30 254.63h5.22v1.30h-5.22zM284.65 255.63h5.22v1.30h-5.22zM279.48 257.63h5.22v1.30h-5.22zM305.35 267.65h5.22v1.30h-5.22zM305.35 272.65h5.22v1.30h-5.22zM315.70 275.66h5.22v1.30h-5.22zM315.70 296.69h5.22v1.30h-5.22zM279.48 299.69h5.22v1.30h-5.22zM274.30 301.69h5.22v1.30h-5.22zM284.65 301.69h5.22v1.30h-5.22zM274.30 302.70h5.22v1.30h-5.22zM279.48 302.70h5.22v1.30h-5.22zM326.05 308.70h5.22v1.30h-5.22zM279.48 310.71h5.22v1.30h-5.22zM310.52 313.71h5.22v1.30h-5.22zM274.30 330.73h5.22v1.30h-5.22zM305.35 332.74h5.22v1.30h-5.22zM310.52 337.74h5.22v1.30h-5.22zM284.65 342.75h5.22v1.30h-5.22zM279.48 343.75h5.22v1.30h-5.22zM295.00 348.76h5.22v1.30h-5.22zM289.82 349.76h5.22v1.30h-5.22zM300.18 350.76h5.22v1.30h-5.22zM331.22 354.77h5.22v1.30h-5.22zM274.30 356.77h5.22v1.30h-5.22zM274.30 364.78h5.22v1.30h-5.22zM279.48 364.78h5.22v1.30h-5.22zM295.00 365.78h5.22v1.30h-5.22zM295.00 369.79h5.22v1.30h-5.22zM295.00 371.79h5.22v1.30h-5.22zM295.00 372.79h5.22v1.30h-5.22zM274.30 373.79h5.22v1.30h-5.22zM326.05 373.79h5.22v1.30h-5.22zM305.35 375.80h5.22v1.30h-5.22zM289.82 376.80h5.22v1.30h-5.22zM300.18 376.80h5.22v1.30h-5.22z" fill="#fce8c5"/>
<path d="M305.35 234.60h5.22v1.30h-5.22zM284.65 237.61h5.22v1.30h-5.22zM331.22 239.61h5.22v1.30h-5.22zM305.35 240.61h5.22v1.30h-5.22zM315.70 240.61h5.22v1.30h-5.22zM326.05 244.62h5.22v1.30h-5.22zM331.22 244.62h5.22v1.30h-5.22zM305.35 247.62h5.22v1.30h-5.22zM320.88 247.62h5.22v1.30h-5.22zM279.48 253.63h5.22v1.30h-5.22zM315.70 254.63h5.22v1.30h-5.22zM284.65 266.65h5.22v1.30h-5.22zM305.35 266.65h5.22v1.30h-5.22zM305.35 268.65h5.22v1.30h-5.22zM310.52 268.65h5.22v1.30h-5.22zM315.70 268.65h5.22v1.30h-5.22zM305.35 278.66h5.22v1.30h-5.22zM315.70 281.67h5.22v1.30h-5.22zM284.65 282.67h5.22v1.30h-5.22zM279.48 283.67h5.22v1.30h-5.22zM315.70 283.67h5.22v1.30h-5.22zM315.70 284.67h5.22v1.30h-5.22zM315.70 289.68h5.22v1.30h-5.22zM315.70 294.68h5.22v1.30h-5.22zM305.35 296.69h5.22v1.30h-5.22zM310.52 296.69h5.22v1.30h-5.22zM310.52 298.69h5.22v1.30h-5.22zM310.52 301.69h5.22v1.30h-5.22zM274.30 303.70h5.22v1.30h-5.22zM279.48 303.70h5.22v1.30h-5.22zM289.82 308.70h5.22v1.30h-5.22zM300.18 308.70h5.22v1.30h-5.22zM331.22 309.70h5.22v1.30h-5.22zM331.22 310.71h5.22v1.30h-5.22zM279.48 322.72h5.22v1.30h-5.22zM284.65 324.73h5.22v1.30h-5.22zM326.05 324.73h5.22v1.30h-5.22zM279.48 325.73h5.22v1.30h-5.22zM284.65 325.73h5.22v1.30h-5.22zM284.65 327.73h5.22v1.30h-5.22zM274.30 328.73h5.22v1.30h-5.22zM274.30 329.73h5.22v1.30h-5.22zM289.82 330.73h5.22v1.30h-5.22zM284.65 331.74h5.22v1.30h-5.22zM331.22 331.74h5.22v1.30h-5.22zM279.48 334.74h5.22v1.30h-5.22zM326.05 337.74h5.22v1.30h-5.22zM284.65 340.75h5.22v1.30h-5.22zM279.48 342.75h5.22v1.30h-5.22zM274.30 348.76h5.22v1.30h-5.22zM279.48 350.76h5.22v1.30h-5.22zM300.18 351.76h5.22v1.30h-5.22zM274.30 355.77h5.22v1.30h-5.22zM295.00 355.77h5.22v1.30h-5.22zM274.30 357.77h5.22v1.30h-5.22zM279.48 357.77h5.22v1.30h-5.22zM300.18 357.77h5.22v1.30h-5.22zM295.00 359.77h5.22v1.30h-5.22zM274.30 360.78h5.22v1.30h-5.22zM326.05 362.78h5.22v1.30h-5.22zM315.70 364.78h5.22v1.30h-5.22zM295.00 366.78h5.22v1.30h-5.22zM305.35 366.78h5.22v1.30h-5.22zM289.82 369.79h5.22v1.30h-5.22zM305.35 369.79h5.22v1.30h-5.22zM315.70 369.79h5.22v1.30h-5.22zM331.22 371.79h5.22v1.30h-5.22zM279.48 373.79h5.22v1.30h-5.22zM331.22 373.79h5.22v1.30h-5.22zM289.82 374.79h5.22v1.30h-5.22zM310.52 375.80h5.22v1.30h-5.22zM315.70 375.80h5.22v1.30h-5.22zM305.35 376.80h5.22v1.30h-5.22z" fill="#fce8c0"/>
<path d="M310.52 234.60h5.22v1.30h-5.22zM295.00 241.61h5.22v1.30h-5.22zM331.22 247.62h5.22v1.30h-5.22zM279.48 260.64h5.22v1.30h-5.22zM315.70 269.65h5.22v1.30h-5.22zM279.48 282.67h5.22v1.30h-5.22zM305.35 295.69h5.22v1.30h-5.22zM279.48 296.69h5.22v1.30h-5.22zM326.05 305.70h5.22v1.30h-5.22zM295.00 358.77h5.22v1.30h-5.22zM300.18 358.77h5.22v1.30h-5.22zM300.18 361.78h5.22v1.30h-5.22z" fill="#fce8bb"/>
<path d="M315.70 234.60h5.22v1.30h-5.22zM320.88 234.60h5.22v1.30h-5.22zM295.00 243.61h5.22v1.30h-5.22zM326.05 246.62h5.22v1.30h-5.22zM305.35 262.64h5.22v1.30h-5.22zM310.52 262.64h5.22v1.30h-5.22zM310.52 269.65h5.22v1.30h-5.22zM305.35 271.65h5.22v1.30h-5.22zM310.52 271.65h5.22v1.30h-5.22zM310.52 279.66h5.22v1.30h-5.22zM320.88 279.66h5.22v1.30h-5.22zM315.70 282.67h5.22v1.30h-5.22zM315.70 291.68h5.22v1.30h-5.22zM305.35 294.68h5.22v1.30h-5.22zM310.52 294.68h5.22v1.30h-5.22zM310.52 295.69h5.22v1.30h-5.22zM320.88 295.69h5.22v1.30h-5.22zM326.05 295.69h5.22v1.30h-5.22zM295.00 303.70h5.22v1.30h-5.22zM289.82 304.70h5.22v1.30h-5.22zM331.22 311.71h5.22v1.30h-5.22zM300.18 312.71h5.22v1.30h-5.22zM284.65 314.71h5.22v1.30h-5.22zM289.82 318.72h5.22v1.30h-5.22zM284.65 320.72h5.22v1.30h-5.22zM274.30 323.72h5.22v1.30h-5.22zM274.30 324.73h5.22v1.30h-5.22zM279.48 337.74h5.22v1.30h-5.22zM274.30 342.75h5.22v1.30h-5.22zM274.30 343.75h5.22v1.30h-5.22zM274.30 351.76h5.22v1.30h-5.22zM300.18 355.77h5.22v1.30h-5.22zM305.35 360.78h5.22v1.30h-5.22zM274.30 362.78h5.22v1.30h-5.22zM289.82 362.78h5.22v1.30h-5.22zM305.35 363.78h5.22v1.30h-5.22zM305.35 365.78h5.22v1.30h-5.22zM279.48 367.78h5.22v1.30h-5.22zM310.52 369.79h5.22v1.30h-5.22zM274.30 370.79h5.22v1.30h-5.22zM295.00 370.79h5.22v1.30h-5.22zM305.35 372.79h5.22v1.30h-5.22zM331.22 374.79h5.22v1.30h-5.22zM289.82 375.80h5.22v1.30h-5.22zM326.05 376.80h5.22v1.30h-5.22z" fill="#fcdeb1"/>
<path d="M326.05 234.60h5.22v1.30h-5.22zM289.82 236.60h5.22v1.30h-5.22zM295.00 236.60h5.22v1.30h-5.22zM305.35 237.61h5.22v1.30h-5.22zM326.05 240.61h5.22v1.30h-5.22zM284.65 242.61h5.22v1.30h-5.22zM289.82 246.62h5.22v1.30h-5.22zM320.88 246.62h5.22v1.30h-5.22zM326.05 247.62h5.22v1.30h-5.22zM305.35 263.64h5.22v1.30h-5.22zM315.70 263.64h5.22v1.30h-5.22zM310.52 267.65h5.22v1.30h-5.22zM305.35 269.65h5.22v1.30h-5.22zM305.35 270.65h5.22v1.30h-5.22zM305.35 276.66h5.22v1.30h-5.22zM310.52 277.66h5.22v1.30h-5.22zM279.48 278.66h5.22v1.30h-5.22zM315.70 279.66h5.22v1.30h-5.22zM305.35 293.68h5.22v1.30h-5.22zM315.70 295.69h5.22v1.30h-5.22zM315.70 301.69h5.22v1.30h-5.22zM289.82 306.70h5.22v1.30h-5.22zM295.00 306.70h5.22v1.30h-5.22zM284.65 307.70h5.22v1.30h-5.22zM331.22 307.70h5.22v1.30h-5.22zM326.05 311.71h5.22v1.30h-5.22zM295.00 312.71h5.22v1.30h-5.22zM295.00 318.72h5.22v1.30h-5.22zM326.05 320.72h5.22v1.30h-5.22zM331.22 324.73h5.22v1.30h-5.22zM274.30 333.74h5.22v1.30h-5.22zM284.65 334.74h5.22v1.30h-5.22zM284.65 343.75h5.22v1.30h-5.22zM279.48 348.76h5.22v1.30h-5.22zM295.00 349.76h5.22v1.30h-5.22zM279.48 353.77h5.22v1.30h-5.22zM289.82 355.77h5.22v1.30h-5.22zM274.30 358.77h5.22v1.30h-5.22zM279.48 358.77h5.22v1.30h-5.22zM289.82 358.77h5.22v1.30h-5.22zM289.82 361.78h5.22v1.30h-5.22zM315.70 361.78h5.22v1.30h-5.22zM331.22 362.78h5.22v1.30h-5.22zM289.82 364.78h5.22v1.30h-5.22zM310.52 365.78h5.22v1.30h-5.22zM279.48 370.79h5.22v1.30h-5.22zM305.35 371.79h5.22v1.30h-5.22zM315.70 372.79h5.22v1.30h-5.22zM300.18 374.79h5.22v1.30h-5.22zM315.70 374.79h5.22v1.30h-5.22zM326.05 374.79h5.22v1.30h-5.22zM289.82 377.80h5.22v1.30h-5.22zM295.00 377.80h5.22v1.30h-5.22z" fill="#fce3b6"/>
<path d="M331.22 234.60h5.22v1.30h-5.22zM320.88 236.60h5.22v1.30h-5.22zM326.05 241.61h5.22v1.30h-5.22zM295.00 245.62h5.22v1.30h-5.22zM295.00 248.62h5.22v1.30h-5.22zM320.88 250.62h5.22v1.30h-5.22zM315.70 251.62h5.22v1.30h-5.22zM326.05 254.63h5.22v1.30h-5.22zM310.52 255.63h5.22v1.30h-5.22zM320.88 256.63h5.22v1.30h-5.22zM315.70 257.63h5.22v1.30h-5.22zM305.35 260.64h5.22v1.30h-5.22zM310.52 260.64h5.22v1.30h-5.22zM305.35 265.64h5.22v1.30h-5.22zM315.70 265.64h5.22v1.30h-5.22zM331.22 268.65h5.22v1.30h-5.22zM326.05 269.65h5.22v1.30h-5.22zM331.22 270.65h5.22v1.30h-5.22zM320.88 276.66h5.22v1.30h-5.22zM310.52 280.66h5.22v1.30h-5.22zM320.88 282.67h5.22v1.30h-5.22zM326.05 282.67h5.22v1.30h-5.22zM331.22 284.67h5.22v1.30h-5.22zM331.22 293.68h5.22v1.30h-5.22zM320.88 294.68h5.22v1.30h-5.22zM305.35 297.69h5.22v1.30h-5.22zM320.88 298.69h5.22v1.30h-5.22zM326.05 298.69h5.22v1.30h-5.22zM331.22 299.69h5.22v1.30h-5.22zM326.05 300.69h5.22v1.30h-5.22zM295.00 302.70h5.22v1.30h-5.22zM300.18 310.71h5.22v1.30h-5.22zM289.82 311.71h5.22v1.30h-5.22zM295.00 311.71h5.22v1.30h-5.22zM300.18 311.71h5.22v1.30h-5.22zM289.82 315.71h5.22v1.30h-5.22zM295.00 315.71h5.22v1.30h-5.22zM289.82 320.72h5.22v1.30h-5.22zM300.18 322.72h5.22v1.30h-5.22zM300.18 324.73h5.22v1.30h-5.22zM300.18 325.73h5.22v1.30h-5.22zM274.30 326.73h5.22v1.30h-5.22zM295.00 326.73h5.22v1.30h-5.22zM300.18 327.73h5.22v1.30h-5.22zM289.82 334.74h5.22v1.30h-5.22zM295.00 334.74h5.22v1.30h-5.22zM289.82 336.74h5.22v1.30h-5.22zM274.30 339.75h5.22v1.30h-5.22zM284.65 339.75h5.22v1.30h-5.22zM295.00 339.75h5.22v1.30h-5.22zM300.18 344.75h5.22v1.30h-5.22zM284.65 358.77h5.22v1.30h-5.22zM284.65 361.78h5.22v1.30h-5.22zM274.30 363.78h5.22v1.30h-5.22zM284.65 370.79h5.22v1.30h-5.22zM305.35 370.79h5.22v1.30h-5.22zM310.52 370.79h5.22v1.30h-5.22z" fill="#f7ca98"/>
<path d="M274.30 235.60h5.22v1.30h-5.22zM279.48 249.62h5.22v1.30h-5.22zM289.82 251.62h5.22v1.30h-5.22zM300.18 277.66h5.22v1.30h-5.22zM295.00 279.66h5.22v1.30h-5.22zM295.00 294.68h5.22v1.30h-5.22zM320.88 303.70h5.22v1.30h-5.22zM320.88 332.74h5.22v1.30h-5.22zM320.88 333.74h5.22v1.30h-5.22zM320.88 341.75h5.22v1.30h-5.22zM320.88 342.75h5.22v1.30h-5.22zM320.88 345.75h5.22v1.30h-5.22zM320.88 353.77h5.22v1.30h-5.22zM320.88 372.79h5.22v1.30h-5.22z" fill="#accfe3"/>
<path d="M279.48 235.60h5.22v1.30h-5.22zM279.48 240.61h5.22v1.30h-5.22zM274.30 244.62h5.22v1.30h-5.22zM284.65 244.62h5.22v1.30h-5.22zM274.30 247.62h5.22v1.30h-5.22zM284.65 250.62h5.22v1.30h-5.22zM295.00 250.62h5.22v1.30h-5.22zM300.18 254.63h5.22v1.30h-5.22zM300.18 256.63h5.22v1.30h-5.22zM295.00 261.64h5.22v1.30h-5.22zM289.82 274.66h5.22v1.30h-5.22zM300.18 274.66h5.22v1.30h-5.22zM274.30 287.67h5.22v1.30h-5.22zM295.00 288.68h5.22v1.30h-5.22zM289.82 289.68h5.22v1.30h-5.22zM295.00 295.69h5.22v1.30h-5.22zM310.52 308.70h5.22v1.30h-5.22zM320.88 318.72h5.22v1.30h-5.22zM320.88 322.72h5.22v1.30h-5.22zM305.35 327.73h5.22v1.30h-5.22zM315.70 341.75h5.22v1.30h-5.22zM305.35 345.75h5.22v1.30h-5.22zM331.22 367.78h5.22v1.30h-5.22z" fill="#c5dee8"/>
<path d="M289.82 235.60h5.22v1.30h-5.22zM315.70 238.61h5.22v1.30h-5.22zM274.30 246.62h5.22v1.30h-5.22zM310.52 259.64h5.22v1.30h-5.22zM305.35 261.64h5.22v1.30h-5.22zM284.65 264.64h5.22v1.30h-5.22zM289.82 280.66h5.22v1.30h-5.22zM274.30 283.67h5.22v1.30h-5.22zM305.35 292.68h5.22v1.30h-5.22zM284.65 294.68h5.22v1.30h-5.22zM284.65 295.69h5.22v1.30h-5.22zM305.35 299.69h5.22v1.30h-5.22zM310.52 299.69h5.22v1.30h-5.22zM310.52 303.70h5.22v1.30h-5.22zM315.70 303.70h5.22v1.30h-5.22zM326.05 304.70h5.22v1.30h-5.22zM315.70 305.70h5.22v1.30h-5.22zM326.05 306.70h5.22v1.30h-5.22zM331.22 306.70h5.22v1.30h-5.22zM284.65 312.71h5.22v1.30h-5.22zM315.70 314.71h5.22v1.30h-5.22zM315.70 316.71h5.22v1.30h-5.22zM320.88 316.71h5.22v1.30h-5.22zM284.65 317.72h5.22v1.30h-5.22zM310.52 320.72h5.22v1.30h-5.22zM326.05 322.72h5.22v1.30h-5.22zM305.35 324.73h5.22v1.30h-5.22zM310.52 324.73h5.22v1.30h-5.22zM274.30 332.74h5.22v1.30h-5.22zM326.05 334.74h5.22v1.30h-5.22zM284.65 335.74h5.22v1.30h-5.22zM274.30 336.74h5.22v1.30h-5.22zM279.48 338.74h5.22v1.30h-5.22zM305.35 340.75h5.22v1.30h-5.22zM310.52 343.75h5.22v1.30h-5.22zM326.05 343.75h5.22v1.30h-5.22zM326.05 345.75h5.22v1.30h-5.22zM279.48 347.76h5.22v1.30h-5.22zM331.22 348.76h5.22v1.30h-5.22zM305.35 349.76h5.22v1.30h-5.22zM326.05 352.76h5.22v1.30h-5.22zM331.22 355.77h5.22v1.30h-5.22zM331.22 358.77h5.22v1.30h-5.22zM326.05 369.79h5.22v1.30h-5.22zM331.22 372.79h5.22v1.30h-5.22zM279.48 374.79h5.22v1.30h-5.22zM274.30 375.80h5.22v1.30h-5.22zM279.48 376.80h5.22v1.30h-5.22z" fill="#f2f2de"/>
<path d="M310.52 235.60h5.22v1.30h-5.22zM310.52 236.60h5.22v1.30h-5.22zM284.65 241.61h5.22v1.30h-5.22zM305.35 245.62h5.22v1.30h-5.22zM279.48 262.64h5.22v1.30h-5.22zM274.30 284.67h5.22v1.30h-5.22zM284.65 285.67h5.22v1.30h-5.22zM274.30 292.68h5.22v1.30h-5.22zM284.65 293.68h5.22v1.30h-5.22zM284.65 298.69h5.22v1.30h-5.22zM331.22 326.73h5.22v1.30h-5.22zM310.52 333.74h5.22v1.30h-5.22zM305.35 336.74h5.22v1.30h-5.22zM326.05 355.77h5.22v1.30h-5.22z" fill="#edf2de"/>
<path d="M320.88 235.60h5.22v1.30h-5.22zM300.18 237.61h5.22v1.30h-5.22zM320.88 248.62h5.22v1.30h-5.22zM320.88 255.63h5.22v1.30h-5.22zM326.05 263.64h5.22v1.30h-5.22zM326.05 273.66h5.22v1.30h-5.22zM331.22 273.66h5.22v1.30h-5.22zM326.05 281.67h5.22v1.30h-5.22zM326.05 283.67h5.22v1.30h-5.22zM326.05 286.67h5.22v1.30h-5.22zM295.00 338.74h5.22v1.30h-5.22zM279.48 354.77h5.22v1.30h-5.22zM305.35 362.78h5.22v1.30h-5.22zM310.52 362.78h5.22v1.30h-5.22z" fill="#f2b684"/>
<path d="M326.05 235.60h5.22v1.30h-5.22zM300.18 246.62h5.22v1.30h-5.22zM300.18 248.62h5.22v1.30h-5.22zM315.70 249.62h5.22v1.30h-5.22zM310.52 250.62h5.22v1.30h-5.22zM331.22 250.62h5.22v1.30h-5.22zM305.35 255.63h5.22v1.30h-5.22zM331.22 264.64h5.22v1.30h-5.22zM320.88 269.65h5.22v1.30h-5.22zM331.22 285.67h5.22v1.30h-5.22zM305.35 286.67h5.22v1.30h-5.22zM310.52 286.67h5.22v1.30h-5.22zM320.88 286.67h5.22v1.30h-5.22zM326.05 292.68h5.22v1.30h-5.22zM326.05 294.68h5.22v1.30h-5.22zM315.70 297.69h5.22v1.30h-5.22zM331.22 297.69h5.22v1.30h-5.22zM289.82 305.70h5.22v1.30h-5.22zM295.00 310.71h5.22v1.30h-5.22zM300.18 313.71h5.22v1.30h-5.22zM300.18 314.71h5.22v1.30h-5.22zM300.18 315.71h5.22v1.30h-5.22zM289.82 316.71h5.22v1.30h-5.22zM295.00 320.72h5.22v1.30h-5.22zM295.00 322.72h5.22v1.30h-5.22zM295.00 336.74h5.22v1.30h-5.22zM284.65 353.77h5.22v1.30h-5.22zM284.65 357.77h5.22v1.30h-5.22zM279.48 363.78h5.22v1.30h-5.22zM305.35 368.79h5.22v1.30h-5.22z" fill="#f7c08e"/>
<path d="M331.22 235.60h5.22v1.30h-5.22zM326.05 243.61h5.22v1.30h-5.22zM320.88 254.63h5.22v1.30h-5.22zM331.22 257.63h5.22v1.30h-5.22zM320.88 258.63h5.22v1.30h-5.22zM320.88 259.64h5.22v1.30h-5.22zM326.05 266.65h5.22v1.30h-5.22zM331.22 269.65h5.22v1.30h-5.22zM331.22 271.65h5.22v1.30h-5.22zM320.88 272.65h5.22v1.30h-5.22zM326.05 275.66h5.22v1.30h-5.22zM326.05 276.66h5.22v1.30h-5.22zM320.88 280.66h5.22v1.30h-5.22zM320.88 284.67h5.22v1.30h-5.22zM326.05 284.67h5.22v1.30h-5.22zM326.05 287.67h5.22v1.30h-5.22zM320.88 290.68h5.22v1.30h-5.22zM320.88 291.68h5.22v1.30h-5.22zM326.05 291.68h5.22v1.30h-5.22zM331.22 291.68h5.22v1.30h-5.22zM331.22 292.68h5.22v1.30h-5.22zM326.05 293.68h5.22v1.30h-5.22zM326.05 297.69h5.22v1.30h-5.22zM284.65 316.71h5.22v1.30h-5.22zM289.82 317.72h5.22v1.30h-5.22zM274.30 318.72h5.22v1.30h-5.22zM300.18 323.72h5.22v1.30h-5.22zM300.18 326.73h5.22v1.30h-5.22zM289.82 328.73h5.22v1.30h-5.22zM300.18 328.73h5.22v1.30h-5.22zM289.82 329.73h5.22v1.30h-5.22zM289.82 332.74h5.22v1.30h-5.22zM289.82 333.74h5.22v1.30h-5.22zM279.48 339.75h5.22v1.30h-5.22zM300.18 341.75h5.22v1.30h-5.22zM289.82 342.75h5.22v1.30h-5.22zM284.65 351.76h5.22v1.30h-5.22zM284.65 362.78h5.22v1.30h-5.22zM310.52 363.78h5.22v1.30h-5.22zM284.65 364.78h5.22v1.30h-5.22zM279.48 368.79h5.22v1.30h-5.22z" fill="#f7c593"/>
<path d="M315.70 236.60h5.22v1.30h-5.22zM305.35 238.61h5.22v1.30h-5.22zM310.52 241.61h5.22v1.30h-5.22zM305.35 242.61h5.22v1.30h-5.22zM274.30 243.61h5.22v1.30h-5.22zM274.30 248.62h5.22v1.30h-5.22zM274.30 249.62h5.22v1.30h-5.22zM295.00 249.62h5.22v1.30h-5.22zM279.48 251.62h5.22v1.30h-5.22zM300.18 252.63h5.22v1.30h-5.22zM295.00 253.63h5.22v1.30h-5.22zM284.65 261.64h5.22v1.30h-5.22zM289.82 264.64h5.22v1.30h-5.22zM289.82 265.64h5.22v1.30h-5.22zM274.30 270.65h5.22v1.30h-5.22zM300.18 271.65h5.22v1.30h-5.22zM284.65 284.67h5.22v1.30h-5.22zM289.82 285.67h5.22v1.30h-5.22zM310.52 287.67h5.22v1.30h-5.22zM274.30 294.68h5.22v1.30h-5.22zM289.82 296.69h5.22v1.30h-5.22zM310.52 302.70h5.22v1.30h-5.22zM331.22 302.70h5.22v1.30h-5.22zM279.48 306.70h5.22v1.30h-5.22zM305.35 307.70h5.22v1.30h-5.22zM310.52 310.71h5.22v1.30h-5.22zM315.70 310.71h5.22v1.30h-5.22zM315.70 312.71h5.22v1.30h-5.22zM274.30 315.71h5.22v1.30h-5.22zM305.35 315.71h5.22v1.30h-5.22zM320.88 315.71h5.22v1.30h-5.22zM279.48 318.72h5.22v1.30h-5.22zM305.35 318.72h5.22v1.30h-5.22zM320.88 319.72h5.22v1.30h-5.22zM320.88 325.73h5.22v1.30h-5.22zM320.88 326.73h5.22v1.30h-5.22zM315.70 331.74h5.22v1.30h-5.22zM331.22 335.74h5.22v1.30h-5.22zM331.22 339.75h5.22v1.30h-5.22zM315.70 343.75h5.22v1.30h-5.22zM305.35 348.76h5.22v1.30h-5.22zM315.70 351.76h5.22v1.30h-5.22zM331.22 351.76h5.22v1.30h-5.22zM331.22 360.78h5.22v1.30h-5.22zM289.82 367.78h5.22v1.30h-5.22zM284.65 372.79h5.22v1.30h-5.22zM300.18 372.79h5.22v1.30h-5.22z" fill="#e3ede3"/>
<path d="M326.05 236.60h5.22v1.30h-5.22zM320.88 238.61h5.22v1.30h-5.22zM326.05 242.61h5.22v1.30h-5.22zM331.22 249.62h5.22v1.30h-5.22zM331.22 261.64h5.22v1.30h-5.22zM320.88 268.65h5.22v1.30h-5.22zM310.52 272.65h5.22v1.30h-5.22zM320.88 275.66h5.22v1.30h-5.22zM305.35 279.66h5.22v1.30h-5.22zM331.22 280.66h5.22v1.30h-5.22zM305.35 282.67h5.22v1.30h-5.22zM310.52 291.68h5.22v1.30h-5.22zM315.70 293.68h5.22v1.30h-5.22zM289.82 302.70h5.22v1.30h-5.22zM274.30 304.70h5.22v1.30h-5.22zM279.48 304.70h5.22v1.30h-5.22zM295.00 307.70h5.22v1.30h-5.22zM274.30 309.70h5.22v1.30h-5.22zM274.30 313.71h5.22v1.30h-5.22zM295.00 317.72h5.22v1.30h-5.22zM279.48 319.72h5.22v1.30h-5.22zM274.30 320.72h5.22v1.30h-5.22zM274.30 321.72h5.22v1.30h-5.22zM295.00 321.72h5.22v1.30h-5.22zM279.48 324.73h5.22v1.30h-5.22zM295.00 328.73h5.22v1.30h-5.22zM295.00 333.74h5.22v1.30h-5.22zM289.82 335.74h5.22v1.30h-5.22zM300.18 335.74h5.22v1.30h-5.22zM295.00 342.75h5.22v1.30h-5.22zM295.00 344.75h5.22v1.30h-5.22zM289.82 356.77h5.22v1.30h-5.22zM284.65 360.78h5.22v1.30h-5.22zM279.48 369.79h5.22v1.30h-5.22zM315.70 370.79h5.22v1.30h-5.22zM300.18 377.80h5.22v1.30h-5.22z" fill="#f7d4a2"/>
<path d="M331.22 236.60h5.22v1.30h-5.22zM331.22 241.61h5.22v1.30h-5.22zM320.88 242.61h5.22v1.30h-5.22zM300.18 243.61h5.22v1.30h-5.22zM300.18 245.62h5.22v1.30h-5.22zM326.05 250.62h5.22v1.30h-5.22zM305.35 257.63h5.22v1.30h-5.22zM315.70 260.64h5.22v1.30h-5.22zM320.88 271.65h5.22v1.30h-5.22zM315.70 280.66h5.22v1.30h-5.22zM284.65 289.68h5.22v1.30h-5.22zM305.35 290.68h5.22v1.30h-5.22zM320.88 292.68h5.22v1.30h-5.22zM300.18 307.70h5.22v1.30h-5.22zM284.65 309.70h5.22v1.30h-5.22zM274.30 311.71h5.22v1.30h-5.22zM274.30 314.71h5.22v1.30h-5.22zM284.65 318.72h5.22v1.30h-5.22zM279.48 321.72h5.22v1.30h-5.22zM289.82 324.73h5.22v1.30h-5.22zM295.00 324.73h5.22v1.30h-5.22zM289.82 325.73h5.22v1.30h-5.22zM279.48 326.73h5.22v1.30h-5.22zM295.00 329.73h5.22v1.30h-5.22zM289.82 331.74h5.22v1.30h-5.22zM289.82 345.75h5.22v1.30h-5.22zM300.18 346.76h5.22v1.30h-5.22zM284.65 355.77h5.22v1.30h-5.22zM284.65 356.77h5.22v1.30h-5.22zM279.48 362.78h5.22v1.30h-5.22zM305.35 374.79h5.22v1.30h-5.22z" fill="#f7d4a7"/>
<path d="M274.30 237.61h5.22v1.30h-5.22zM315.70 237.61h5.22v1.30h-5.22zM289.82 238.61h5.22v1.30h-5.22zM295.00 238.61h5.22v1.30h-5.22zM300.18 238.61h5.22v1.30h-5.22zM295.00 239.61h5.22v1.30h-5.22zM300.18 239.61h5.22v1.30h-5.22zM320.88 239.61h5.22v1.30h-5.22zM284.65 240.61h5.22v1.30h-5.22zM274.30 241.61h5.22v1.30h-5.22zM310.52 261.64h5.22v1.30h-5.22zM305.35 264.64h5.22v1.30h-5.22zM315.70 264.64h5.22v1.30h-5.22zM284.65 267.65h5.22v1.30h-5.22zM279.48 270.65h5.22v1.30h-5.22zM279.48 272.65h5.22v1.30h-5.22zM310.52 273.66h5.22v1.30h-5.22zM315.70 274.66h5.22v1.30h-5.22zM305.35 277.66h5.22v1.30h-5.22zM310.52 281.67h5.22v1.30h-5.22zM310.52 283.67h5.22v1.30h-5.22zM279.48 288.68h5.22v1.30h-5.22zM284.65 288.68h5.22v1.30h-5.22zM315.70 288.68h5.22v1.30h-5.22zM279.48 297.69h5.22v1.30h-5.22zM284.65 297.69h5.22v1.30h-5.22zM315.70 299.69h5.22v1.30h-5.22zM305.35 301.69h5.22v1.30h-5.22zM331.22 303.70h5.22v1.30h-5.22zM279.48 305.70h5.22v1.30h-5.22zM284.65 305.70h5.22v1.30h-5.22zM310.52 309.70h5.22v1.30h-5.22zM326.05 309.70h5.22v1.30h-5.22zM320.88 311.71h5.22v1.30h-5.22zM331.22 314.71h5.22v1.30h-5.22zM326.05 315.71h5.22v1.30h-5.22zM310.52 317.72h5.22v1.30h-5.22zM274.30 322.72h5.22v1.30h-5.22zM279.48 328.73h5.22v1.30h-5.22zM315.70 329.73h5.22v1.30h-5.22zM305.35 333.74h5.22v1.30h-5.22zM310.52 334.74h5.22v1.30h-5.22zM279.48 336.74h5.22v1.30h-5.22zM289.82 347.76h5.22v1.30h-5.22zM326.05 349.76h5.22v1.30h-5.22zM289.82 350.76h5.22v1.30h-5.22zM300.18 353.77h5.22v1.30h-5.22zM289.82 354.77h5.22v1.30h-5.22zM315.70 358.77h5.22v1.30h-5.22zM274.30 359.77h5.22v1.30h-5.22zM331.22 368.79h5.22v1.30h-5.22zM289.82 373.79h5.22v1.30h-5.22zM284.65 375.80h5.22v1.30h-5.22zM295.00 376.80h5.22v1.30h-5.22zM310.52 376.80h5.22v1.30h-5.22zM315.70 376.80h5.22v1.30h-5.22zM274.30 377.80h5.22v1.30h-5.22z" fill="#fcedcf"/>
<path d="M289.82 237.61h5.22v1.30h-5.22zM326.05 238.61h5.22v1.30h-5.22zM320.88 240.61h5.22v1.30h-5.22zM295.00 244.62h5.22v1.30h-5.22zM320.88 245.62h5.22v1.30h-5.22zM320.88 251.62h5.22v1.30h-5.22zM315.70 252.63h5.22v1.30h-5.22zM331.22 256.63h5.22v1.30h-5.22zM320.88 257.63h5.22v1.30h-5.22zM310.52 265.64h5.22v1.30h-5.22zM331.22 266.65h5.22v1.30h-5.22zM315.70 270.65h5.22v1.30h-5.22zM326.05 271.65h5.22v1.30h-5.22zM331.22 277.66h5.22v1.30h-5.22zM305.35 280.66h5.22v1.30h-5.22zM310.52 284.67h5.22v1.30h-5.22zM326.05 285.67h5.22v1.30h-5.22zM331.22 287.67h5.22v1.30h-5.22zM320.88 293.68h5.22v1.30h-5.22zM331.22 294.68h5.22v1.30h-5.22zM331.22 295.69h5.22v1.30h-5.22zM320.88 300.69h5.22v1.30h-5.22zM331.22 300.69h5.22v1.30h-5.22zM279.48 307.70h5.22v1.30h-5.22zM289.82 307.70h5.22v1.30h-5.22zM289.82 310.71h5.22v1.30h-5.22zM284.65 311.71h5.22v1.30h-5.22zM300.18 317.72h5.22v1.30h-5.22zM274.30 319.72h5.22v1.30h-5.22zM289.82 322.72h5.22v1.30h-5.22zM295.00 325.73h5.22v1.30h-5.22zM284.65 326.73h5.22v1.30h-5.22zM295.00 331.74h5.22v1.30h-5.22zM300.18 331.74h5.22v1.30h-5.22zM295.00 335.74h5.22v1.30h-5.22zM284.65 337.74h5.22v1.30h-5.22zM295.00 341.75h5.22v1.30h-5.22zM295.00 345.75h5.22v1.30h-5.22zM300.18 345.75h5.22v1.30h-5.22zM289.82 346.76h5.22v1.30h-5.22zM295.00 346.76h5.22v1.30h-5.22zM284.65 350.76h5.22v1.30h-5.22zM300.18 352.76h5.22v1.30h-5.22zM300.18 362.78h5.22v1.30h-5.22zM315.70 363.78h5.22v1.30h-5.22zM284.65 365.78h5.22v1.30h-5.22zM279.48 366.78h5.22v1.30h-5.22zM315.70 368.79h5.22v1.30h-5.22zM284.65 369.79h5.22v1.30h-5.22zM310.52 371.79h5.22v1.30h-5.22zM315.70 371.79h5.22v1.30h-5.22z" fill="#f7cf9d"/>
<path d="M295.00 237.61h5.22v1.30h-5.22zM331.22 240.61h5.22v1.30h-5.22zM331.22 242.61h5.22v1.30h-5.22zM326.05 256.63h5.22v1.30h-5.22zM320.88 277.66h5.22v1.30h-5.22zM326.05 280.66h5.22v1.30h-5.22zM326.05 299.69h5.22v1.30h-5.22zM295.00 305.70h5.22v1.30h-5.22zM300.18 339.75h5.22v1.30h-5.22z" fill="#f7c58e"/>
<path d="M310.52 237.61h5.22v1.30h-5.22zM295.00 240.61h5.22v1.30h-5.22zM310.52 240.61h5.22v1.30h-5.22zM310.52 254.63h5.22v1.30h-5.22zM274.30 255.63h5.22v1.30h-5.22zM315.70 266.65h5.22v1.30h-5.22zM315.70 267.65h5.22v1.30h-5.22zM315.70 271.65h5.22v1.30h-5.22zM310.52 275.66h5.22v1.30h-5.22zM315.70 277.66h5.22v1.30h-5.22zM310.52 278.66h5.22v1.30h-5.22zM315.70 278.66h5.22v1.30h-5.22zM331.22 279.66h5.22v1.30h-5.22zM305.35 283.67h5.22v1.30h-5.22zM289.82 284.67h5.22v1.30h-5.22zM279.48 289.68h5.22v1.30h-5.22zM305.35 289.68h5.22v1.30h-5.22zM310.52 293.68h5.22v1.30h-5.22zM284.65 302.70h5.22v1.30h-5.22zM300.18 303.70h5.22v1.30h-5.22zM331.22 305.70h5.22v1.30h-5.22zM300.18 306.70h5.22v1.30h-5.22zM274.30 310.71h5.22v1.30h-5.22zM326.05 316.71h5.22v1.30h-5.22zM331.22 316.71h5.22v1.30h-5.22zM326.05 319.72h5.22v1.30h-5.22zM279.48 320.72h5.22v1.30h-5.22zM331.22 320.72h5.22v1.30h-5.22zM279.48 323.72h5.22v1.30h-5.22zM274.30 325.73h5.22v1.30h-5.22zM274.30 327.73h5.22v1.30h-5.22zM326.05 331.74h5.22v1.30h-5.22zM284.65 333.74h5.22v1.30h-5.22zM274.30 340.75h5.22v1.30h-5.22zM279.48 346.76h5.22v1.30h-5.22zM274.30 349.76h5.22v1.30h-5.22zM300.18 349.76h5.22v1.30h-5.22zM274.30 352.76h5.22v1.30h-5.22zM295.00 352.76h5.22v1.30h-5.22zM279.48 356.77h5.22v1.30h-5.22zM279.48 360.78h5.22v1.30h-5.22zM295.00 360.78h5.22v1.30h-5.22zM279.48 361.78h5.22v1.30h-5.22zM315.70 365.78h5.22v1.30h-5.22zM315.70 366.78h5.22v1.30h-5.22zM274.30 369.79h5.22v1.30h-5.22zM289.82 371.79h5.22v1.30h-5.22zM300.18 371.79h5.22v1.30h-5.22zM326.05 371.79h5.22v1.30h-5.22zM310.52 374.79h5.22v1.30h-5.22zM300.18 375.80h5.22v1.30h-5.22z" fill="#fce3bb"/>
<path d="M320.88 237.61h5.22v1.30h-5.22zM326.05 260.64h5.22v1.30h-5.22zM284.65 368.79h5.22v1.30h-5.22z" fill="#ed986b"/>
<path d="M326.05 237.61h5.22v1.30h-5.22zM331.22 255.63h5.22v1.30h-5.22zM320.88 262.64h5.22v1.30h-5.22zM331.22 265.64h5.22v1.30h-5.22zM326.05 267.65h5.22v1.30h-5.22zM320.88 274.66h5.22v1.30h-5.22zM326.05 278.66h5.22v1.30h-5.22zM320.88 283.67h5.22v1.30h-5.22zM326.05 288.68h5.22v1.30h-5.22zM326.05 289.68h5.22v1.30h-5.22zM320.88 301.69h5.22v1.30h-5.22zM326.05 301.69h5.22v1.30h-5.22zM295.00 309.70h5.22v1.30h-5.22zM300.18 309.70h5.22v1.30h-5.22zM300.18 337.74h5.22v1.30h-5.22zM300.18 338.74h5.22v1.30h-5.22zM300.18 340.75h5.22v1.30h-5.22zM284.65 366.78h5.22v1.30h-5.22z" fill="#f2ac7a"/>
<path d="M331.22 237.61h5.22v1.30h-5.22zM320.88 278.66h5.22v1.30h-5.22zM295.00 343.75h5.22v1.30h-5.22z" fill="#f2a77a"/>
<path d="M310.52 238.61h5.22v1.30h-5.22zM284.65 239.61h5.22v1.30h-5.22zM315.70 244.62h5.22v1.30h-5.22zM300.18 257.63h5.22v1.30h-5.22zM289.82 258.63h5.22v1.30h-5.22zM289.82 259.64h5.22v1.30h-5.22zM295.00 259.64h5.22v1.30h-5.22zM289.82 260.64h5.22v1.30h-5.22zM274.30 261.64h5.22v1.30h-5.22zM274.30 262.64h5.22v1.30h-5.22zM284.65 262.64h5.22v1.30h-5.22zM295.00 268.65h5.22v1.30h-5.22zM295.00 269.65h5.22v1.30h-5.22zM300.18 269.65h5.22v1.30h-5.22zM289.82 272.65h5.22v1.30h-5.22zM279.48 273.66h5.22v1.30h-5.22zM289.82 273.66h5.22v1.30h-5.22zM295.00 274.66h5.22v1.30h-5.22zM300.18 275.66h5.22v1.30h-5.22zM289.82 278.66h5.22v1.30h-5.22zM295.00 278.66h5.22v1.30h-5.22zM300.18 281.67h5.22v1.30h-5.22zM300.18 284.67h5.22v1.30h-5.22zM300.18 285.67h5.22v1.30h-5.22zM279.48 287.67h5.22v1.30h-5.22zM300.18 290.68h5.22v1.30h-5.22zM300.18 291.68h5.22v1.30h-5.22zM289.82 292.68h5.22v1.30h-5.22zM284.65 300.69h5.22v1.30h-5.22zM289.82 300.69h5.22v1.30h-5.22zM295.00 300.69h5.22v1.30h-5.22zM305.35 304.70h5.22v1.30h-5.22zM305.35 306.70h5.22v1.30h-5.22zM315.70 306.70h5.22v1.30h-5.22zM320.88 313.71h5.22v1.30h-5.22zM326.05 329.73h5.22v1.30h-5.22zM331.22 329.73h5.22v1.30h-5.22zM315.70 330.73h5.22v1.30h-5.22zM326.05 330.73h5.22v1.30h-5.22zM320.88 337.74h5.22v1.30h-5.22zM310.52 345.75h5.22v1.30h-5.22zM310.52 347.76h5.22v1.30h-5.22zM315.70 348.76h5.22v1.30h-5.22zM305.35 351.76h5.22v1.30h-5.22zM305.35 352.76h5.22v1.30h-5.22zM326.05 356.77h5.22v1.30h-5.22zM320.88 364.78h5.22v1.30h-5.22zM326.05 365.78h5.22v1.30h-5.22z" fill="#d4e8ed"/>
<path d="M331.22 238.61h5.22v1.30h-5.22zM300.18 240.61h5.22v1.30h-5.22zM326.05 245.62h5.22v1.30h-5.22zM331.22 245.62h5.22v1.30h-5.22zM315.70 250.62h5.22v1.30h-5.22zM320.88 261.64h5.22v1.30h-5.22zM315.70 262.64h5.22v1.30h-5.22zM320.88 266.65h5.22v1.30h-5.22zM310.52 270.65h5.22v1.30h-5.22zM284.65 278.66h5.22v1.30h-5.22zM326.05 279.66h5.22v1.30h-5.22zM274.30 289.68h5.22v1.30h-5.22zM300.18 302.70h5.22v1.30h-5.22zM284.65 304.70h5.22v1.30h-5.22zM295.00 308.70h5.22v1.30h-5.22zM279.48 309.70h5.22v1.30h-5.22zM300.18 318.72h5.22v1.30h-5.22zM284.65 323.72h5.22v1.30h-5.22zM274.30 331.74h5.22v1.30h-5.22zM279.48 333.74h5.22v1.30h-5.22zM274.30 337.74h5.22v1.30h-5.22zM279.48 340.75h5.22v1.30h-5.22zM274.30 346.76h5.22v1.30h-5.22zM279.48 351.76h5.22v1.30h-5.22zM289.82 352.76h5.22v1.30h-5.22zM274.30 353.77h5.22v1.30h-5.22zM279.48 355.77h5.22v1.30h-5.22zM300.18 356.77h5.22v1.30h-5.22zM274.30 361.78h5.22v1.30h-5.22zM289.82 363.78h5.22v1.30h-5.22zM295.00 363.78h5.22v1.30h-5.22zM274.30 366.78h5.22v1.30h-5.22zM310.52 372.79h5.22v1.30h-5.22zM295.00 375.80h5.22v1.30h-5.22z" fill="#f7d9ac"/>
<path d="M279.48 239.61h5.22v1.30h-5.22zM300.18 260.64h5.22v1.30h-5.22zM295.00 263.64h5.22v1.30h-5.22zM300.18 263.64h5.22v1.30h-5.22zM274.30 269.65h5.22v1.30h-5.22zM274.30 293.68h5.22v1.30h-5.22zM310.52 312.71h5.22v1.30h-5.22zM315.70 325.73h5.22v1.30h-5.22zM310.52 328.73h5.22v1.30h-5.22zM315.70 346.76h5.22v1.30h-5.22zM305.35 347.76h5.22v1.30h-5.22zM320.88 370.79h5.22v1.30h-5.22z" fill="#e3ede8"/>
<path d="M305.35 239.61h5.22v1.30h-5.22zM310.52 239.61h5.22v1.30h-5.22zM284.65 247.62h5.22v1.30h-5.22zM289.82 256.63h5.22v1.30h-5.22zM300.18 259.64h5.22v1.30h-5.22zM295.00 260.64h5.22v1.30h-5.22zM300.18 266.65h5.22v1.30h-5.22zM289.82 268.65h5.22v1.30h-5.22zM274.30 274.66h5.22v1.30h-5.22zM289.82 276.66h5.22v1.30h-5.22zM274.30 281.67h5.22v1.30h-5.22zM274.30 285.67h5.22v1.30h-5.22zM295.00 289.68h5.22v1.30h-5.22zM295.00 293.68h5.22v1.30h-5.22zM320.88 321.72h5.22v1.30h-5.22zM315.70 322.72h5.22v1.30h-5.22zM310.52 323.72h5.22v1.30h-5.22zM310.52 327.73h5.22v1.30h-5.22zM305.35 341.75h5.22v1.30h-5.22zM315.70 345.75h5.22v1.30h-5.22zM320.88 346.76h5.22v1.30h-5.22zM320.88 354.77h5.22v1.30h-5.22zM320.88 371.79h5.22v1.30h-5.22z" fill="#cae3ed"/>
<path d="M274.30 240.61h5.22v1.30h-5.22zM300.18 241.61h5.22v1.30h-5.22zM315.70 245.62h5.22v1.30h-5.22zM310.52 263.64h5.22v1.30h-5.22zM274.30 288.68h5.22v1.30h-5.22zM284.65 296.69h5.22v1.30h-5.22zM284.65 310.71h5.22v1.30h-5.22zM315.70 313.71h5.22v1.30h-5.22zM310.52 332.74h5.22v1.30h-5.22zM331.22 338.74h5.22v1.30h-5.22zM284.65 344.75h5.22v1.30h-5.22zM295.00 350.76h5.22v1.30h-5.22zM326.05 354.77h5.22v1.30h-5.22zM289.82 359.77h5.22v1.30h-5.22z" fill="#fcedc5"/>
<path d="M289.82 240.61h5.22v1.30h-5.22zM289.82 242.61h5.22v1.30h-5.22zM326.05 261.64h5.22v1.30h-5.22zM289.82 303.70h5.22v1.30h-5.22zM289.82 327.73h5.22v1.30h-5.22zM331.22 337.74h5.22v1.30h-5.22zM289.82 344.75h5.22v1.30h-5.22zM279.48 349.76h5.22v1.30h-5.22z" fill="#fcdeac"/>
<path d="M279.48 241.61h5.22v1.30h-5.22zM279.48 243.61h5.22v1.30h-5.22zM300.18 250.62h5.22v1.30h-5.22zM289.82 254.63h5.22v1.30h-5.22zM289.82 255.63h5.22v1.30h-5.22zM300.18 258.63h5.22v1.30h-5.22zM274.30 259.64h5.22v1.30h-5.22zM289.82 266.65h5.22v1.30h-5.22zM284.65 268.65h5.22v1.30h-5.22zM300.18 268.65h5.22v1.30h-5.22zM300.18 272.65h5.22v1.30h-5.22zM295.00 273.66h5.22v1.30h-5.22zM300.18 280.66h5.22v1.30h-5.22zM295.00 286.67h5.22v1.30h-5.22zM300.18 286.67h5.22v1.30h-5.22zM289.82 295.69h5.22v1.30h-5.22zM300.18 297.69h5.22v1.30h-5.22zM305.35 302.70h5.22v1.30h-5.22zM310.52 306.70h5.22v1.30h-5.22zM279.48 314.71h5.22v1.30h-5.22zM331.22 330.73h5.22v1.30h-5.22zM320.88 331.74h5.22v1.30h-5.22zM315.70 347.76h5.22v1.30h-5.22zM331.22 347.76h5.22v1.30h-5.22zM305.35 353.77h5.22v1.30h-5.22zM315.70 353.77h5.22v1.30h-5.22zM310.52 356.77h5.22v1.30h-5.22zM300.18 369.79h5.22v1.30h-5.22z" fill="#cfe3ed"/>
<path d="M320.88 241.61h5.22v1.30h-5.22zM331.22 246.62h5.22v1.30h-5.22zM295.00 247.62h5.22v1.30h-5.22zM320.88 249.62h5.22v1.30h-5.22zM310.52 266.65h5.22v1.30h-5.22zM315.70 272.65h5.22v1.30h-5.22zM331.22 275.66h5.22v1.30h-5.22zM310.52 276.66h5.22v1.30h-5.22zM315.70 276.66h5.22v1.30h-5.22zM326.05 277.66h5.22v1.30h-5.22zM274.30 278.66h5.22v1.30h-5.22zM310.52 282.67h5.22v1.30h-5.22zM305.35 291.68h5.22v1.30h-5.22zM295.00 304.70h5.22v1.30h-5.22zM279.48 311.71h5.22v1.30h-5.22zM284.65 313.71h5.22v1.30h-5.22zM284.65 319.72h5.22v1.30h-5.22zM289.82 321.72h5.22v1.30h-5.22zM300.18 321.72h5.22v1.30h-5.22zM284.65 346.76h5.22v1.30h-5.22zM295.00 361.78h5.22v1.30h-5.22zM305.35 361.78h5.22v1.30h-5.22zM310.52 361.78h5.22v1.30h-5.22zM295.00 362.78h5.22v1.30h-5.22zM295.00 364.78h5.22v1.30h-5.22zM310.52 368.79h5.22v1.30h-5.22z" fill="#f7d9a7"/>
<path d="M295.00 242.61h5.22v1.30h-5.22zM320.88 273.66h5.22v1.30h-5.22zM295.00 314.71h5.22v1.30h-5.22zM289.82 338.74h5.22v1.30h-5.22z" fill="#f2b67f"/>
<path d="M300.18 242.61h5.22v1.30h-5.22zM331.22 252.63h5.22v1.30h-5.22zM331.22 267.65h5.22v1.30h-5.22zM326.05 274.66h5.22v1.30h-5.22zM331.22 274.66h5.22v1.30h-5.22zM320.88 288.68h5.22v1.30h-5.22zM289.82 337.74h5.22v1.30h-5.22zM295.00 337.74h5.22v1.30h-5.22z" fill="#f2a775"/>
<path d="M315.70 242.61h5.22v1.30h-5.22zM284.65 243.61h5.22v1.30h-5.22zM289.82 243.61h5.22v1.30h-5.22zM315.70 243.61h5.22v1.30h-5.22zM310.52 248.62h5.22v1.30h-5.22zM315.70 248.62h5.22v1.30h-5.22zM300.18 249.62h5.22v1.30h-5.22zM289.82 252.63h5.22v1.30h-5.22zM279.48 258.63h5.22v1.30h-5.22zM284.65 258.63h5.22v1.30h-5.22zM279.48 259.64h5.22v1.30h-5.22zM295.00 265.64h5.22v1.30h-5.22zM289.82 271.65h5.22v1.30h-5.22zM274.30 272.65h5.22v1.30h-5.22zM284.65 274.66h5.22v1.30h-5.22zM289.82 275.66h5.22v1.30h-5.22zM274.30 280.66h5.22v1.30h-5.22zM289.82 281.67h5.22v1.30h-5.22zM300.18 283.67h5.22v1.30h-5.22zM289.82 286.67h5.22v1.30h-5.22zM289.82 291.68h5.22v1.30h-5.22zM279.48 292.68h5.22v1.30h-5.22zM279.48 295.69h5.22v1.30h-5.22zM295.00 296.69h5.22v1.30h-5.22zM274.30 298.69h5.22v1.30h-5.22zM274.30 300.69h5.22v1.30h-5.22zM315.70 300.69h5.22v1.30h-5.22zM300.18 301.69h5.22v1.30h-5.22zM274.30 308.70h5.22v1.30h-5.22zM305.35 311.71h5.22v1.30h-5.22zM310.52 311.71h5.22v1.30h-5.22zM326.05 318.72h5.22v1.30h-5.22zM320.88 320.72h5.22v1.30h-5.22zM331.22 322.72h5.22v1.30h-5.22zM331.22 323.72h5.22v1.30h-5.22zM310.52 326.73h5.22v1.30h-5.22zM315.70 326.73h5.22v1.30h-5.22zM331.22 327.73h5.22v1.30h-5.22zM305.35 328.73h5.22v1.30h-5.22zM331.22 328.73h5.22v1.30h-5.22zM310.52 329.73h5.22v1.30h-5.22zM310.52 331.74h5.22v1.30h-5.22zM331.22 334.74h5.22v1.30h-5.22zM315.70 335.74h5.22v1.30h-5.22zM310.52 336.74h5.22v1.30h-5.22zM305.35 338.74h5.22v1.30h-5.22zM326.05 339.75h5.22v1.30h-5.22zM315.70 342.75h5.22v1.30h-5.22zM326.05 342.75h5.22v1.30h-5.22zM310.52 344.75h5.22v1.30h-5.22zM315.70 344.75h5.22v1.30h-5.22zM326.05 344.75h5.22v1.30h-5.22zM331.22 344.75h5.22v1.30h-5.22zM331.22 345.75h5.22v1.30h-5.22zM310.52 351.76h5.22v1.30h-5.22zM331.22 353.77h5.22v1.30h-5.22zM310.52 355.77h5.22v1.30h-5.22zM326.05 357.77h5.22v1.30h-5.22zM331.22 357.77h5.22v1.30h-5.22zM305.35 359.77h5.22v1.30h-5.22zM300.18 364.78h5.22v1.30h-5.22zM331.22 364.78h5.22v1.30h-5.22zM326.05 366.78h5.22v1.30h-5.22zM289.82 368.79h5.22v1.30h-5.22zM320.88 368.79h5.22v1.30h-5.22zM274.30 374.79h5.22v1.30h-5.22zM284.65 374.79h5.22v1.30h-5.22zM305.35 377.80h5.22v1.30h-5.22zM331.22 377.80h5.22v1.30h-5.22z" fill="#e8ede3"/>
<path d="M320.88 243.61h5.22v1.30h-5.22zM331.22 243.61h5.22v1.30h-5.22zM320.88 252.63h5.22v1.30h-5.22zM305.35 253.63h5.22v1.30h-5.22zM315.70 255.63h5.22v1.30h-5.22zM326.05 258.63h5.22v1.30h-5.22zM331.22 259.64h5.22v1.30h-5.22zM320.88 263.64h5.22v1.30h-5.22zM320.88 264.64h5.22v1.30h-5.22zM326.05 264.64h5.22v1.30h-5.22zM326.05 270.65h5.22v1.30h-5.22zM331.22 272.65h5.22v1.30h-5.22zM331.22 278.66h5.22v1.30h-5.22zM320.88 281.67h5.22v1.30h-5.22zM315.70 286.67h5.22v1.30h-5.22zM331.22 288.68h5.22v1.30h-5.22zM331.22 289.68h5.22v1.30h-5.22zM331.22 298.69h5.22v1.30h-5.22zM289.82 323.72h5.22v1.30h-5.22zM295.00 323.72h5.22v1.30h-5.22zM289.82 326.73h5.22v1.30h-5.22zM295.00 332.74h5.22v1.30h-5.22zM300.18 334.74h5.22v1.30h-5.22zM274.30 354.77h5.22v1.30h-5.22zM284.65 367.78h5.22v1.30h-5.22z" fill="#f7bb89"/>
<path d="M279.48 244.62h5.22v1.30h-5.22zM300.18 279.66h5.22v1.30h-5.22zM320.88 304.70h5.22v1.30h-5.22zM320.88 309.70h5.22v1.30h-5.22zM320.88 330.73h5.22v1.30h-5.22zM320.88 335.74h5.22v1.30h-5.22z" fill="#93bbd9"/>
<path d="M300.18 244.62h5.22v1.30h-5.22zM326.05 249.62h5.22v1.30h-5.22zM310.52 257.63h5.22v1.30h-5.22zM305.35 284.67h5.22v1.30h-5.22zM315.70 290.68h5.22v1.30h-5.22zM320.88 299.69h5.22v1.30h-5.22zM274.30 316.71h5.22v1.30h-5.22zM300.18 329.73h5.22v1.30h-5.22zM300.18 336.74h5.22v1.30h-5.22zM284.65 352.76h5.22v1.30h-5.22zM295.00 356.77h5.22v1.30h-5.22zM310.52 360.78h5.22v1.30h-5.22zM274.30 367.78h5.22v1.30h-5.22z" fill="#f7cfa2"/>
<path d="M305.35 244.62h5.22v1.30h-5.22z" fill="#c5deed"/>
<path d="M320.88 244.62h5.22v1.30h-5.22zM310.52 290.68h5.22v1.30h-5.22zM274.30 307.70h5.22v1.30h-5.22zM326.05 307.70h5.22v1.30h-5.22zM295.00 327.73h5.22v1.30h-5.22zM300.18 342.75h5.22v1.30h-5.22zM284.65 348.76h5.22v1.30h-5.22zM315.70 360.78h5.22v1.30h-5.22zM289.82 370.79h5.22v1.30h-5.22z" fill="#f7deac"/>
<path d="M279.48 245.62h5.22v1.30h-5.22zM279.48 315.71h5.22v1.30h-5.22zM320.88 329.73h5.22v1.30h-5.22zM320.88 348.76h5.22v1.30h-5.22zM320.88 360.78h5.22v1.30h-5.22z" fill="#a2cade"/>
<path d="M279.48 246.62h5.22v1.30h-5.22zM289.82 269.65h5.22v1.30h-5.22zM295.00 272.65h5.22v1.30h-5.22zM300.18 273.66h5.22v1.30h-5.22zM300.18 278.66h5.22v1.30h-5.22zM295.00 287.67h5.22v1.30h-5.22zM315.70 308.70h5.22v1.30h-5.22zM315.70 327.73h5.22v1.30h-5.22zM320.88 362.78h5.22v1.30h-5.22z" fill="#c0d9e8"/>
<path d="M295.00 246.62h5.22v1.30h-5.22zM331.22 254.63h5.22v1.30h-5.22zM326.05 257.63h5.22v1.30h-5.22zM331.22 258.63h5.22v1.30h-5.22zM320.88 270.65h5.22v1.30h-5.22zM331.22 282.67h5.22v1.30h-5.22zM300.18 305.70h5.22v1.30h-5.22zM284.65 321.72h5.22v1.30h-5.22z" fill="#f7ca93"/>
<path d="M279.48 247.62h5.22v1.30h-5.22zM279.48 250.62h5.22v1.30h-5.22zM320.88 347.76h5.22v1.30h-5.22zM320.88 351.76h5.22v1.30h-5.22z" fill="#98c0d9"/>
<path d="M300.18 247.62h5.22v1.30h-5.22zM305.35 254.63h5.22v1.30h-5.22zM300.18 304.70h5.22v1.30h-5.22zM289.82 312.71h5.22v1.30h-5.22zM284.65 359.77h5.22v1.30h-5.22zM300.18 363.78h5.22v1.30h-5.22z" fill="#fce3b1"/>
<path d="M279.48 248.62h5.22v1.30h-5.22zM274.30 273.66h5.22v1.30h-5.22zM289.82 279.66h5.22v1.30h-5.22zM289.82 287.67h5.22v1.30h-5.22zM300.18 299.69h5.22v1.30h-5.22zM320.88 308.70h5.22v1.30h-5.22zM320.88 349.76h5.22v1.30h-5.22zM300.18 365.78h5.22v1.30h-5.22zM300.18 367.78h5.22v1.30h-5.22zM320.88 375.80h5.22v1.30h-5.22z" fill="#b1d4e3"/>
<path d="M326.05 248.62h5.22v1.30h-5.22zM331.22 248.62h5.22v1.30h-5.22zM326.05 251.62h5.22v1.30h-5.22zM331.22 251.62h5.22v1.30h-5.22zM326.05 259.64h5.22v1.30h-5.22zM326.05 268.65h5.22v1.30h-5.22zM331.22 276.66h5.22v1.30h-5.22zM320.88 285.67h5.22v1.30h-5.22zM331.22 286.67h5.22v1.30h-5.22zM300.18 332.74h5.22v1.30h-5.22zM315.70 362.78h5.22v1.30h-5.22z" fill="#f7bb84"/>
<path d="M305.35 249.62h5.22v1.30h-5.22zM320.88 260.64h5.22v1.30h-5.22zM331.22 296.69h5.22v1.30h-5.22zM295.00 340.75h5.22v1.30h-5.22z" fill="#e88e61"/>
<path d="M310.52 249.62h5.22v1.30h-5.22zM331.22 253.63h5.22v1.30h-5.22z" fill="#e88961"/>
<path d="M274.30 250.62h5.22v1.30h-5.22zM295.00 251.62h5.22v1.30h-5.22zM295.00 254.63h5.22v1.30h-5.22zM295.00 256.63h5.22v1.30h-5.22zM300.18 261.64h5.22v1.30h-5.22zM295.00 277.66h5.22v1.30h-5.22zM295.00 298.69h5.22v1.30h-5.22zM289.82 299.69h5.22v1.30h-5.22zM320.88 317.72h5.22v1.30h-5.22zM300.18 366.78h5.22v1.30h-5.22zM320.88 376.80h5.22v1.30h-5.22z" fill="#c0dee8"/>
<path d="M305.35 250.62h5.22v1.30h-5.22zM295.00 313.71h5.22v1.30h-5.22zM289.82 341.75h5.22v1.30h-5.22z" fill="#f7b684"/>
<path d="M274.30 251.62h5.22v1.30h-5.22zM315.70 259.64h5.22v1.30h-5.22zM274.30 296.69h5.22v1.30h-5.22zM331.22 366.78h5.22v1.30h-5.22z" fill="#e8edde"/>
<path d="M300.18 251.62h5.22v1.30h-5.22zM289.82 294.68h5.22v1.30h-5.22zM320.88 350.76h5.22v1.30h-5.22zM315.70 357.77h5.22v1.30h-5.22zM320.88 363.78h5.22v1.30h-5.22z" fill="#b6d4e8"/>
<path d="M305.35 251.62h5.22v1.30h-5.22zM310.52 251.62h5.22v1.30h-5.22z" fill="#ed9366"/>
<path d="M295.00 252.63h5.22v1.30h-5.22zM295.00 264.64h5.22v1.30h-5.22zM279.48 268.65h5.22v1.30h-5.22zM300.18 282.67h5.22v1.30h-5.22zM289.82 290.68h5.22v1.30h-5.22zM310.52 304.70h5.22v1.30h-5.22zM279.48 308.70h5.22v1.30h-5.22zM331.22 317.72h5.22v1.30h-5.22zM305.35 325.73h5.22v1.30h-5.22zM315.70 328.73h5.22v1.30h-5.22zM310.52 346.76h5.22v1.30h-5.22zM310.52 349.76h5.22v1.30h-5.22zM305.35 355.77h5.22v1.30h-5.22z" fill="#dee8e8"/>
<path d="M305.35 252.63h5.22v1.30h-5.22zM320.88 253.63h5.22v1.30h-5.22zM331.22 262.64h5.22v1.30h-5.22zM289.82 319.72h5.22v1.30h-5.22zM289.82 340.75h5.22v1.30h-5.22zM289.82 343.75h5.22v1.30h-5.22zM300.18 343.75h5.22v1.30h-5.22z" fill="#f2a270"/>
<path d="M310.52 252.63h5.22v1.30h-5.22zM331.22 260.64h5.22v1.30h-5.22zM326.05 262.64h5.22v1.30h-5.22zM320.88 296.69h5.22v1.30h-5.22z" fill="#ed9d70"/>
<path d="M326.05 252.63h5.22v1.30h-5.22zM310.52 253.63h5.22v1.30h-5.22zM315.70 253.63h5.22v1.30h-5.22zM326.05 255.63h5.22v1.30h-5.22zM331.22 263.64h5.22v1.30h-5.22zM320.88 265.64h5.22v1.30h-5.22zM326.05 265.64h5.22v1.30h-5.22zM320.88 267.65h5.22v1.30h-5.22zM326.05 272.65h5.22v1.30h-5.22zM331.22 281.67h5.22v1.30h-5.22zM331.22 283.67h5.22v1.30h-5.22zM320.88 289.68h5.22v1.30h-5.22zM331.22 290.68h5.22v1.30h-5.22zM320.88 297.69h5.22v1.30h-5.22zM331.22 301.69h5.22v1.30h-5.22zM289.82 309.70h5.22v1.30h-5.22zM289.82 314.71h5.22v1.30h-5.22zM295.00 319.72h5.22v1.30h-5.22zM284.65 349.76h5.22v1.30h-5.22zM284.65 363.78h5.22v1.30h-5.22z" fill="#f2b17f"/>
<path d="M326.05 253.63h5.22v1.30h-5.22z" fill="#e37a52"/>
<path d="M305.35 258.63h5.22v1.30h-5.22zM279.48 266.65h5.22v1.30h-5.22zM289.82 267.65h5.22v1.30h-5.22zM331.22 315.71h5.22v1.30h-5.22zM331.22 318.72h5.22v1.30h-5.22zM326.05 336.74h5.22v1.30h-5.22zM326.05 348.76h5.22v1.30h-5.22zM326.05 350.76h5.22v1.30h-5.22zM331.22 369.79h5.22v1.30h-5.22z" fill="#fcf2d9"/>
<path d="M289.82 270.65h5.22v1.30h-5.22zM300.18 288.68h5.22v1.30h-5.22zM320.88 340.75h5.22v1.30h-5.22zM305.35 357.77h5.22v1.30h-5.22zM320.88 365.78h5.22v1.30h-5.22z" fill="#b6d9e8"/>
<path d="M300.18 270.65h5.22v1.30h-5.22zM320.88 312.71h5.22v1.30h-5.22z" fill="#b6d4e3"/>
<path d="M284.65 283.67h5.22v1.30h-5.22zM310.52 292.68h5.22v1.30h-5.22zM284.65 303.70h5.22v1.30h-5.22zM284.65 306.70h5.22v1.30h-5.22zM315.70 309.70h5.22v1.30h-5.22zM310.52 316.71h5.22v1.30h-5.22zM305.35 317.72h5.22v1.30h-5.22zM310.52 319.72h5.22v1.30h-5.22zM326.05 325.73h5.22v1.30h-5.22zM279.48 327.73h5.22v1.30h-5.22zM315.70 337.74h5.22v1.30h-5.22zM284.65 338.74h5.22v1.30h-5.22zM326.05 338.74h5.22v1.30h-5.22zM310.52 339.75h5.22v1.30h-5.22zM295.00 347.76h5.22v1.30h-5.22zM300.18 354.77h5.22v1.30h-5.22zM331.22 359.77h5.22v1.30h-5.22zM289.82 360.78h5.22v1.30h-5.22zM289.82 366.78h5.22v1.30h-5.22zM279.48 371.79h5.22v1.30h-5.22zM326.05 372.79h5.22v1.30h-5.22zM284.65 373.79h5.22v1.30h-5.22zM279.48 375.80h5.22v1.30h-5.22z" fill="#fcf2cf"/>
<path d="M300.18 287.67h5.22v1.30h-5.22zM320.88 343.75h5.22v1.30h-5.22zM320.88 356.77h5.22v1.30h-5.22z" fill="#9dc5de"/>
<path d="M320.88 287.67h5.22v1.30h-5.22zM326.05 290.68h5.22v1.30h-5.22zM310.52 297.69h5.22v1.30h-5.22zM289.82 313.71h5.22v1.30h-5.22zM295.00 316.71h5.22v1.30h-5.22zM300.18 316.71h5.22v1.30h-5.22zM300.18 320.72h5.22v1.30h-5.22zM300.18 333.74h5.22v1.30h-5.22zM289.82 339.75h5.22v1.30h-5.22z" fill="#f7c089"/>
<path d="M289.82 288.68h5.22v1.30h-5.22z" fill="#cadeed"/>
<path d="M300.18 294.68h5.22v1.30h-5.22zM320.88 339.75h5.22v1.30h-5.22z" fill="#a2c5de"/>
<path d="M300.18 295.69h5.22v1.30h-5.22zM320.88 305.70h5.22v1.30h-5.22zM320.88 307.70h5.22v1.30h-5.22zM320.88 336.74h5.22v1.30h-5.22zM320.88 352.76h5.22v1.30h-5.22zM320.88 358.77h5.22v1.30h-5.22z" fill="#a7cfe3"/>
<path d="M326.05 296.69h5.22v1.30h-5.22z" fill="#e8895c"/>
<path d="M320.88 302.70h5.22v1.30h-5.22z" fill="#84b1cf"/>
<path d="M320.88 306.70h5.22v1.30h-5.22zM320.88 344.75h5.22v1.30h-5.22zM320.88 361.78h5.22v1.30h-5.22z" fill="#8eb6d4"/>
<path d="M320.88 310.71h5.22v1.30h-5.22z" fill="#a2cae3"/>
<path d="M279.48 317.72h5.22v1.30h-5.22zM320.88 327.73h5.22v1.30h-5.22zM320.88 334.74h5.22v1.30h-5.22zM320.88 355.77h5.22v1.30h-5.22zM320.88 357.77h5.22v1.30h-5.22zM320.88 359.77h5.22v1.30h-5.22zM320.88 367.78h5.22v1.30h-5.22zM320.88 377.80h5.22v1.30h-5.22z" fill="#a7cae3"/>
<path d="M300.18 319.72h5.22v1.30h-5.22z" fill="#f2ac7f"/>
<path d="M320.88 328.73h5.22v1.30h-5.22z" fill="#89b6d4"/>
<path d="M284.65 354.77h5.22v1.30h-5.22z" fill="#ed9d6b"/>
<path d="M274.30 368.79h5.22v1.30h-5.22z" fill="#f7ca9d"/>
<path d="M274.3 378.8L265.1 378.8L265.3 377.5L266.2 375.4L267.8 373.3L260.8 371.6L264.6 369.9L266.1 367.8L266.5 366.8L262.0 365.9L265.7 364.4L266.4 363.2L265.5 362.0L264.6 361.1L265.8 360.1L264.7 358.1L260.8 355.9L266.1 353.8L266.2 351.7L266.0 349.5L262.6 347.4L266.0 346.4L266.2 345.3L266.7 344.4L266.4 342.9L266.3 341.5L263.1 339.3L267.4 338.2L265.7 336.3L266.4 335.1L267.0 333.5L267.7 332.4L260.6 330.3L265.9 329.5L266.3 327.8L266.7 326.9L265.7 325.3L265.6 323.8L260.8 322.0L262.7 321.0L265.9 319.2L261.8 318.0L261.6 316.3L267.5 314.7L264.8 313.3L264.8 311.3L266.8 309.7L264.8 308.5L264.8 307.4L266.8 306.2L265.7 305.0L264.9 303.1L267.5 301.4L262.0 299.2L265.5 297.3L263.6 296.0L265.7 294.8L265.8 293.5L267.1 292.4L262.5 290.9L267.4 289.8L266.2 288.6L267.7 287.1L260.7 285.4L264.8 283.8L267.5 282.9L265.0 282.0L265.3 280.1L266.2 279.0L265.6 277.1L266.1 275.0L266.8 273.4L267.2 271.3L263.3 269.6L263.9 267.6L266.8 265.9L265.9 264.0L267.8 263.0L265.2 261.7L267.7 260.3L264.9 259.4L265.1 257.7L266.4 256.8L264.9 254.7L265.3 253.7L265.2 251.9L265.1 250.8L266.3 249.0L265.4 247.0L261.7 245.0L262.2 243.4L267.6 242.3L266.2 240.4L267.8 238.9L264.5 237.1L267.1 235.7L274.3 234.8Z" fill="#000"/>
<path d="M274.3 235.1H271.6V235.6H274.3M274.3 236.7H272.0V237.3H274.3M274.3 236.2H269.4V237.0H272.0M274.3 237.8H272.0V238.4H274.3M269.4 236.6H266.3V238.1H272.0M271.6 235.4H264.7V237.4H266.3M274.3 239.0H272.0V239.5H274.3M272.0 239.2H269.7V240.1H274.3M274.3 240.6H271.9V241.2H274.3M269.7 239.6H267.7V240.9H271.9M264.7 236.4H264.4V240.3H267.7M274.3 241.7H271.6V242.3H274.3M271.6 242.0H269.8V242.8H274.3M274.3 243.4H271.9V243.9H274.3M271.9 243.7H269.2V244.5H274.3M269.8 242.4H265.4V244.1H269.2M274.3 245.0H271.9V245.6H274.3M274.3 246.2H272.0V246.7H274.3M271.9 245.3H267.9V246.4H272.0M274.3 247.3H271.5V247.8H274.3M267.9 245.9H266.6V247.5H271.5M265.4 243.2H262.9V246.7H266.6M264.4 238.3H261.7V245.0H262.9M274.3 248.4H271.7V248.9H274.3M274.3 249.5H272.0V250.0H274.3M272.0 249.8H269.6V250.6H274.3M271.7 248.6H266.7V250.2H269.6M274.3 251.1H271.4V251.7H274.3M274.3 253.4H272.0V253.9H274.3M274.3 252.8H269.4V253.6H272.0M274.3 252.2H268.8V253.2H269.4M274.3 254.5H271.8V255.0H274.3M268.8 252.7H267.0V254.7H271.8M271.4 251.4H264.7V253.7H267.0M274.3 255.6H271.8V256.1H274.3M274.3 256.7H271.9V257.2H274.3M271.8 255.8H267.6V257.0H271.9M274.3 257.8H271.9V258.3H274.3M274.3 258.9H271.6V259.4H274.3M274.3 260.0H271.4V260.6H274.3M271.6 259.2H268.7V260.3H271.4M271.9 258.1H266.9V259.7H268.7M274.3 261.1H271.9V261.7H274.3M271.9 261.4H270.2V262.2H274.3M266.9 258.9H265.9V261.8H270.2M267.6 256.4H263.7V260.3H265.9M264.7 252.6H263.4V258.4H263.7M266.7 249.4H262.3V255.5H263.4M261.7 241.6H261.4V252.4H262.3M274.3 262.8H271.9V263.3H274.3M271.9 263.0H270.2V263.9H274.3M274.3 264.4H271.9V265.0H274.3M271.9 264.7H270.1V265.5H274.3M270.2 263.5H265.9V265.1H270.1M274.3 266.1H271.9V266.6H274.3M265.9 264.3H264.2V266.4H271.9M274.3 267.8H272.0V268.3H274.3M274.3 267.2H269.2V268.0H272.0M274.3 269.4H271.9V270.0H274.3M274.3 268.9H269.4V269.7H271.9M269.2 267.6H266.2V269.3H269.4M274.3 270.5H271.9V271.1H274.3M266.2 268.4H264.7V270.8H271.9M264.2 265.3H263.9V269.6H264.7M261.4 247.0H261.1V267.5H263.9M274.3 272.7H271.8V273.3H274.3M274.3 272.2H270.3V273.0H271.8M274.3 271.6H268.8V272.6H270.3M268.8 272.1H267.4V273.8H274.3M274.3 275.5H271.4V276.1H274.3M274.3 275.0H269.6V275.8H271.4M274.3 274.4H268.0V275.4H269.6M274.3 276.6H272.0V277.2H274.3M274.3 277.7H271.4V278.3H274.3M272.0 276.9H268.0V278.0H271.4M268.0 274.9H264.2V277.4H268.0M267.4 273.0H263.9V276.2H264.2M274.3 278.8H271.8V279.4H274.3M274.3 279.9H271.7V280.5H274.3M271.7 280.2H269.5V281.0H274.3M271.8 279.1H266.5V280.6H269.5M274.3 281.6H271.4V282.2H274.3M271.4 281.9H269.9V282.7H274.3M269.9 282.3H268.0V283.3H274.3M266.5 279.9H263.9V282.8H268.0M263.9 274.6H261.8V281.3H263.9M274.3 283.8H271.6V284.4H274.3M271.6 284.1H269.9V284.9H274.3M269.9 284.5H268.2V285.5H274.3M274.3 286.6H271.4V287.1H274.3M274.3 286.0H269.3V286.9H271.4M274.3 287.7H271.8V288.2H274.3M269.3 286.4H266.8V288.0H271.8M268.2 285.0H264.7V287.2H266.8M261.8 277.9H261.5V286.1H264.7M274.3 289.4H271.7V289.9H274.3M274.3 288.8H270.1V289.6H271.7M274.3 290.5H271.7V291.0H274.3M270.1 289.2H267.0V290.7H271.7M274.3 292.7H271.9V293.2H274.3M274.3 292.1H270.1V293.0H271.9M274.3 291.6H267.7V292.5H270.1M274.3 293.8H271.8V294.3H274.3M274.3 294.9H271.9V295.4H274.3M271.8 294.1H268.4V295.2H271.9M274.3 296.0H271.4V296.6H274.3M268.4 294.6H265.6V296.3H271.4M267.7 292.1H264.8V295.4H265.6M274.3 297.1H272.0V297.7H274.3M272.0 297.4H269.8V298.2H274.3M264.8 293.8H263.0V297.8H269.8M267.0 290.0H262.3V295.8H263.0M274.3 299.9H271.9V300.4H274.3M274.3 299.3H270.1V300.2H271.9M274.3 298.8H268.4V299.7H270.1M268.4 299.3H267.0V301.0H274.3M274.3 302.1H271.5V302.6H274.3M274.3 301.5H269.2V302.4H271.5M267.0 300.1H265.4V302.0H269.2M262.3 292.9H262.0V301.0H265.4M261.5 282.0H261.2V297.0H262.0M261.1 257.3H257.8V289.5H261.2M274.3 303.8H271.7V304.3H274.3M274.3 303.2H270.3V304.0H271.7M270.3 303.6H267.8V304.9H274.3M274.3 305.4H272.0V306.0H274.3M274.3 306.5H271.6V307.1H274.3M274.3 307.6H271.5V308.2H274.3M271.6 306.8H267.6V307.9H271.5M272.0 305.7H266.0V307.4H267.6M267.8 304.2H265.3V306.5H266.0M274.3 309.8H271.6V310.4H274.3M274.3 309.3H270.1V310.1H271.6M274.3 308.7H268.6V309.7H270.1M274.3 311.0H271.7V311.5H274.3M274.3 312.1H271.8V312.6H274.3M271.8 312.3H269.4V313.2H274.3M271.7 311.2H266.5V312.8H269.4M268.6 309.2H265.9V312.0H266.5M265.3 305.4H261.9V310.6H265.9M274.3 313.7H271.6V314.3H274.3M274.3 314.8H271.5V315.4H274.3M274.3 315.9H271.4V316.5H274.3M271.5 315.1H268.3V316.2H271.4M274.3 317.0H271.9V317.6H274.3M268.3 315.7H265.9V317.3H271.9M271.6 314.0H264.5V316.5H265.9M274.3 318.2H271.9V318.7H274.3M274.3 319.3H271.4V319.8H274.3M271.9 318.4H267.6V319.5H271.4M264.5 315.2H264.0V319.0H267.6M261.9 308.0H261.4V317.1H264.0M274.3 320.4H271.7V320.9H274.3M274.3 321.5H271.5V322.0H274.3M274.3 323.1H271.9V323.7H274.3M274.3 322.6H269.9V323.4H271.9M271.5 321.8H266.7V323.0H269.9M274.3 324.2H272.0V324.8H274.3M266.7 322.4H265.7V324.5H272.0M271.7 320.6H264.3V323.4H265.7M274.3 325.4H272.0V325.9H274.3M274.3 327.0H271.9V327.6H274.3M274.3 326.5H269.5V327.3H271.9M272.0 325.6H266.9V326.9H269.5M266.9 326.3H266.3V328.1H274.3M274.3 328.7H271.8V329.2H274.3M271.8 329.0H269.9V329.8H274.3M266.3 327.2H264.0V329.4H269.9M274.3 330.9H271.4V331.4H274.3M274.3 330.3H269.7V331.2H271.4M269.7 330.8H268.2V332.0H274.3M264.0 328.3H263.7V331.4H268.2M264.3 322.0H262.8V329.8H263.7M274.3 333.1H271.7V333.7H274.3M274.3 332.6H269.9V333.4H271.7M274.3 334.2H271.7V334.8H274.3M269.9 333.0H267.2V334.5H271.7M274.3 335.3H271.7V335.9H274.3M274.3 336.4H271.4V337.0H274.3M271.7 335.6H267.6V336.7H271.4M267.2 333.7H265.4V336.2H267.6M262.8 325.9H262.4V334.9H265.4M274.3 338.1H271.5V338.6H274.3M274.3 337.5H269.8V338.4H271.5M274.3 339.8H271.4V340.3H274.3M274.3 339.2H270.2V340.0H271.4M274.3 341.4H271.9V342.0H274.3M274.3 340.9H269.5V341.7H271.9M274.3 342.5H271.8V343.1H274.3M269.5 341.3H267.0V342.8H271.8M270.2 339.6H266.2V342.0H267.0M269.8 338.0H263.7V340.8H266.2M262.4 330.4H262.1V339.4H263.7M274.3 343.6H271.8V344.2H274.3M274.3 344.7H271.7V345.3H274.3M271.8 343.9H268.8V345.0H271.7M274.3 345.8H271.6V346.4H274.3M274.3 347.0H271.5V347.5H274.3M271.5 347.2H270.1V348.1H274.3M274.3 348.6H271.5V349.2H274.3M270.1 347.6H266.5V348.9H271.5M271.6 346.1H266.1V348.3H266.5M268.8 344.5H264.8V347.2H266.1M274.3 350.3H271.6V350.8H274.3M274.3 349.7H270.0V350.6H271.6M270.0 350.1H268.9V351.4H274.3M268.9 350.8H266.6V351.9H274.3M274.3 353.0H271.6V353.6H274.3M274.3 352.5H270.3V353.3H271.6M274.3 354.2H271.6V354.7H274.3M270.3 352.9H266.4V354.4H271.6M274.3 355.8H271.7V356.4H274.3M274.3 356.9H271.9V357.5H274.3M271.7 356.1H268.9V357.2H271.9M274.3 355.3H267.9V356.6H268.9M267.9 356.0H267.3V358.0H274.3M266.4 353.7H264.2V357.0H267.3M266.6 351.4H263.5V355.3H264.2M274.3 359.1H271.9V359.7H274.3M274.3 358.6H269.4V359.4H271.9M274.3 360.2H271.4V360.8H274.3M269.4 359.0H267.9V360.5H271.4M263.5 353.3H263.2V359.8H267.9M264.8 345.8H260.8V356.6H263.2M274.3 361.4H271.8V361.9H274.3M274.3 362.5H272.0V363.0H274.3M271.8 361.6H268.0V362.7H272.0M274.3 364.7H271.8V365.2H274.3M274.3 364.1H270.1V365.0H271.8M274.3 363.6H268.8V364.5H270.1M274.3 365.8H272.0V366.3H274.3M268.8 364.1H265.6V366.1H272.0M268.0 362.2H263.8V365.1H265.6M274.3 366.9H271.8V367.4H274.3M271.8 367.2H269.6V368.0H274.3M274.3 368.6H271.4V369.1H274.3M269.6 367.6H266.6V368.8H271.4M263.8 363.6H263.5V368.2H266.6M274.3 370.2H271.5V370.8H274.3M274.3 369.7H269.5V370.5H271.5M274.3 371.3H271.5V371.9H274.3M269.5 370.1H267.4V371.6H271.5M274.3 372.4H271.8V373.0H274.3M271.8 372.7H269.8V373.5H274.3M267.4 370.8H266.4V373.1H269.8M274.3 374.1H271.6V374.6H274.3M274.3 375.8H271.6V376.3H274.3M274.3 375.2H269.9V376.0H271.6M271.6 374.4H266.9V375.6H269.9M266.4 372.0H263.7V375.0H266.9M274.3 376.9H271.4V377.4H274.3M274.3 378.0H271.6V378.5H274.3M271.4 377.1H267.9V378.2H271.6M263.7 373.5H262.0V377.7H267.9M263.5 365.9H261.7V375.6H262.0M260.8 351.2H260.4V370.8H261.7M262.1 334.9H258.7V361.0H260.4M261.4 312.6H258.4V347.9H258.7M257.8 273.4H256.8V330.2H258.4" stroke="#000" stroke-width="0.75" fill="none"/>
<defs><linearGradient id="cbD" x1="0" y1="0" x2="0" y2="1"><stop offset="0" stop-color="#d6404a"/><stop offset="0.25" stop-color="#f29a6a"/><stop offset="0.5" stop-color="#fbf0c8"/><stop offset="0.72" stop-color="#cfe8f0"/><stop offset="1" stop-color="#4a7a98"/></linearGradient></defs>
<rect x="339.60" y="235.20" width="3.20" height="50.30" fill="url(#cbD)"/>
<text x="344.60" y="243.20" font-size="3.4" text-anchor="start" fill="#333">&gt;=2</text>
<text x="344.60" y="252.40" font-size="3.4" text-anchor="start" fill="#333">1</text>
<text x="344.60" y="261.20" font-size="3.4" text-anchor="start" fill="#333">0</text>
<text x="344.60" y="270.40" font-size="3.4" text-anchor="start" fill="#333">-1</text>
<text x="344.60" y="279.00" font-size="3.4" text-anchor="start" fill="#333">&lt;=-2</text>
<text x="355.20" y="260.00" font-size="4.5" text-anchor="middle" fill="#222" transform="rotate(-90 355.20 260.00)" stroke="#222" stroke-width="0.08">Normalized expression</text>
<text x="275.49" y="381.60" font-size="4.0" text-anchor="start" fill="#222" transform="rotate(90 275.49 381.60)">CK/CF10-1</text>
<text x="280.66" y="381.60" font-size="4.0" text-anchor="start" fill="#222" transform="rotate(90 280.66 381.60)">CK/CF10-2</text>
<text x="285.84" y="381.60" font-size="4.0" text-anchor="start" fill="#222" transform="rotate(90 285.84 381.60)">CK/CF10-3</text>
<text x="291.01" y="381.60" font-size="4.0" text-anchor="start" fill="#222" transform="rotate(90 291.01 381.60)">CK/MM-1</text>
<text x="296.19" y="381.60" font-size="4.0" text-anchor="start" fill="#222" transform="rotate(90 296.19 381.60)">CK/MM-2</text>
<text x="301.36" y="381.60" font-size="4.0" text-anchor="start" fill="#222" transform="rotate(90 301.36 381.60)">CK/MM-3</text>
<text x="306.54" y="381.60" font-size="4.0" text-anchor="start" fill="#222" transform="rotate(90 306.54 381.60)">CF10-1</text>
<text x="311.71" y="381.60" font-size="4.0" text-anchor="start" fill="#222" transform="rotate(90 311.71 381.60)">CF10-2</text>
<text x="316.89" y="381.60" font-size="4.0" text-anchor="start" fill="#222" transform="rotate(90 316.89 381.60)">CF10-3</text>
<text x="322.06" y="381.60" font-size="4.0" text-anchor="start" fill="#222" transform="rotate(90 322.06 381.60)">MM-1</text>
<text x="327.24" y="381.60" font-size="4.0" text-anchor="start" fill="#222" transform="rotate(90 327.24 381.60)">MM-2</text>
<text x="332.41" y="381.60" font-size="4.0" text-anchor="start" fill="#222" transform="rotate(90 332.41 381.60)">MM-3</text>
<rect x="0.20" y="160.20" width="6.40" height="3.75" fill="#f0e23a" stroke="#f2f2f2" stroke-width="0.3"/>
<rect x="6.60" y="160.20" width="6.40" height="3.75" fill="#26378c" stroke="#f2f2f2" stroke-width="0.3"/>
<rect x="13.00" y="160.20" width="6.40" height="3.75" fill="#1f1c4c" stroke="#f2f2f2" stroke-width="0.3"/>
<rect x="0.20" y="163.95" width="6.40" height="3.75" fill="#f0e23a" stroke="#f2f2f2" stroke-width="0.3"/>
<rect x="6.60" y="163.95" width="6.40" height="3.75" fill="#f0e23a" stroke="#f2f2f2" stroke-width="0.3"/>
<rect x="13.00" y="163.95" width="6.40" height="3.75" fill="#dcedf2" stroke="#f2f2f2" stroke-width="0.3"/>
<text x="20.80" y="163.38" font-size="3.55" text-anchor="start" fill="#2e2e3e" stroke="#2e2e3e" stroke-width="0.07">Solyc01g006540.4</text>
<text x="20.80" y="167.12" font-size="3.55" text-anchor="start" fill="#2e2e3e" stroke="#2e2e3e" stroke-width="0.07">Solyc03g122340.3</text>
<rect x="0.20" y="176.30" width="6.40" height="3.95" fill="#f2c94a" stroke="#f2f2f2" stroke-width="0.3"/>
<rect x="6.60" y="176.30" width="6.40" height="3.95" fill="#e8332e" stroke="#f2f2f2" stroke-width="0.3"/>
<rect x="13.00" y="176.30" width="6.40" height="3.95" fill="#e8332e" stroke="#f2f2f2" stroke-width="0.3"/>
<rect x="0.20" y="180.25" width="6.40" height="3.95" fill="#3fbfbd" stroke="#f2f2f2" stroke-width="0.3"/>
<rect x="6.60" y="180.25" width="6.40" height="3.95" fill="#f0e23a" stroke="#f2f2f2" stroke-width="0.3"/>
<rect x="13.00" y="180.25" width="6.40" height="3.95" fill="#3fbfbd" stroke="#f2f2f2" stroke-width="0.3"/>
<text x="20.80" y="179.58" font-size="3.55" text-anchor="start" fill="#2e2e3e" stroke="#2e2e3e" stroke-width="0.07">Solyc04g079730.1</text>
<text x="20.80" y="183.53" font-size="3.55" text-anchor="start" fill="#2e2e3e" stroke="#2e2e3e" stroke-width="0.07">Solyc01g109150.4</text>
<rect x="0.20" y="195.20" width="6.40" height="3.80" fill="#e8332e" stroke="#f2f2f2" stroke-width="0.3"/>
<rect x="6.60" y="195.20" width="6.40" height="3.80" fill="#f2c94a" stroke="#f2f2f2" stroke-width="0.3"/>
<rect x="13.00" y="195.20" width="6.40" height="3.80" fill="#f0e23a" stroke="#f2f2f2" stroke-width="0.3"/>
<text x="20.80" y="198.40" font-size="3.55" text-anchor="start" fill="#2e2e3e" stroke="#2e2e3e" stroke-width="0.07">Solyc02g087070.3</text>
<rect x="0.20" y="204.10" width="6.40" height="3.62" fill="#3fbfbd" stroke="#f2f2f2" stroke-width="0.3"/>
<rect x="6.60" y="204.10" width="6.40" height="3.62" fill="#26378c" stroke="#f2f2f2" stroke-width="0.3"/>
<rect x="13.00" y="204.10" width="6.40" height="3.62" fill="#dcedf2" stroke="#f2f2f2" stroke-width="0.3"/>
<rect x="0.20" y="207.72" width="6.40" height="3.62" fill="#3fbfbd" stroke="#f2f2f2" stroke-width="0.3"/>
<rect x="6.60" y="207.72" width="6.40" height="3.62" fill="#f0e23a" stroke="#f2f2f2" stroke-width="0.3"/>
<rect x="13.00" y="207.72" width="6.40" height="3.62" fill="#1f1c4c" stroke="#f2f2f2" stroke-width="0.3"/>
<rect x="0.20" y="211.34" width="6.40" height="3.62" fill="#f0e23a" stroke="#f2f2f2" stroke-width="0.3"/>
<rect x="6.60" y="211.34" width="6.40" height="3.62" fill="#3fbfbd" stroke="#f2f2f2" stroke-width="0.3"/>
<rect x="13.00" y="211.34" width="6.40" height="3.62" fill="#dcedf2" stroke="#f2f2f2" stroke-width="0.3"/>
<rect x="0.20" y="214.96" width="6.40" height="3.62" fill="#f0e23a" stroke="#f2f2f2" stroke-width="0.3"/>
<rect x="6.60" y="214.96" width="6.40" height="3.62" fill="#dcedf2" stroke="#f2f2f2" stroke-width="0.3"/>
<rect x="13.00" y="214.96" width="6.40" height="3.62" fill="#dcedf2" stroke="#f2f2f2" stroke-width="0.3"/>
<text x="20.80" y="207.21" font-size="3.55" text-anchor="start" fill="#2e2e3e" stroke="#2e2e3e" stroke-width="0.07">Solyc11g032220.2</text>
<text x="20.80" y="210.83" font-size="3.55" text-anchor="start" fill="#2e2e3e" stroke="#2e2e3e" stroke-width="0.07">Solyc08g036660.4</text>
<text x="20.80" y="214.45" font-size="3.55" text-anchor="start" fill="#2e2e3e" stroke="#2e2e3e" stroke-width="0.07">Solyc01g103390.3</text>
<text x="20.80" y="218.07" font-size="3.55" text-anchor="start" fill="#2e2e3e" stroke="#2e2e3e" stroke-width="0.07">Solyc10g007670.3</text>
<rect x="0.20" y="229.10" width="6.40" height="3.67" fill="#dcedf2" stroke="#f2f2f2" stroke-width="0.3"/>
<rect x="6.60" y="229.10" width="6.40" height="3.67" fill="#26378c" stroke="#f2f2f2" stroke-width="0.3"/>
<rect x="13.00" y="229.10" width="6.40" height="3.67" fill="#e8332e" stroke="#f2f2f2" stroke-width="0.3"/>
<rect x="0.20" y="232.77" width="6.40" height="3.67" fill="#f0e23a" stroke="#f2f2f2" stroke-width="0.3"/>
<rect x="6.60" y="232.77" width="6.40" height="3.67" fill="#26378c" stroke="#f2f2f2" stroke-width="0.3"/>
<rect x="13.00" y="232.77" width="6.40" height="3.67" fill="#dcedf2" stroke="#f2f2f2" stroke-width="0.3"/>
<rect x="0.20" y="236.44" width="6.40" height="3.67" fill="#f0e23a" stroke="#f2f2f2" stroke-width="0.3"/>
<rect x="6.60" y="236.44" width="6.40" height="3.67" fill="#e8332e" stroke="#f2f2f2" stroke-width="0.3"/>
<rect x="13.00" y="236.44" width="6.40" height="3.67" fill="#3fbfbd" stroke="#f2f2f2" stroke-width="0.3"/>
<rect x="0.20" y="240.11" width="6.40" height="3.67" fill="#dcedf2" stroke="#f2f2f2" stroke-width="0.3"/>
<rect x="6.60" y="240.11" width="6.40" height="3.67" fill="#f0e23a" stroke="#f2f2f2" stroke-width="0.3"/>
<rect x="13.00" y="240.11" width="6.40" height="3.67" fill="#3fbfbd" stroke="#f2f2f2" stroke-width="0.3"/>
<rect x="0.20" y="243.78" width="6.40" height="3.67" fill="#dcedf2" stroke="#f2f2f2" stroke-width="0.3"/>
<rect x="6.60" y="243.78" width="6.40" height="3.67" fill="#f0e23a" stroke="#f2f2f2" stroke-width="0.3"/>
<rect x="13.00" y="243.78" width="6.40" height="3.67" fill="#3fbfbd" stroke="#f2f2f2" stroke-width="0.3"/>
<rect x="0.20" y="247.45" width="6.40" height="3.67" fill="#dcedf2" stroke="#f2f2f2" stroke-width="0.3"/>
<rect x="6.60" y="247.45" width="6.40" height="3.67" fill="#e8332e" stroke="#f2f2f2" stroke-width="0.3"/>
<rect x="13.00" y="247.45" width="6.40" height="3.67" fill="#3fbfbd" stroke="#f2f2f2" stroke-width="0.3"/>
<rect x="0.20" y="251.12" width="6.40" height="3.67" fill="#3fbfbd" stroke="#f2f2f2" stroke-width="0.3"/>
<rect x="6.60" y="251.12" width="6.40" height="3.67" fill="#dcedf2" stroke="#f2f2f2" stroke-width="0.3"/>
<rect x="13.00" y="251.12" width="6.40" height="3.67" fill="#3fbfbd" stroke="#f2f2f2" stroke-width="0.3"/>
<rect x="0.20" y="254.79" width="6.40" height="3.67" fill="#dcedf2" stroke="#f2f2f2" stroke-width="0.3"/>
<rect x="6.60" y="254.79" width="6.40" height="3.67" fill="#f0e23a" stroke="#f2f2f2" stroke-width="0.3"/>
<rect x="13.00" y="254.79" width="6.40" height="3.67" fill="#3fbfbd" stroke="#f2f2f2" stroke-width="0.3"/>
<rect x="0.20" y="258.46" width="6.40" height="3.67" fill="#dcedf2" stroke="#f2f2f2" stroke-width="0.3"/>
<rect x="6.60" y="258.46" width="6.40" height="3.67" fill="#f0e23a" stroke="#f2f2f2" stroke-width="0.3"/>
<rect x="13.00" y="258.46" width="6.40" height="3.67" fill="#3fbfbd" stroke="#f2f2f2" stroke-width="0.3"/>
<rect x="0.20" y="262.13" width="6.40" height="3.67" fill="#f0e23a" stroke="#f2f2f2" stroke-width="0.3"/>
<rect x="6.60" y="262.13" width="6.40" height="3.67" fill="#f0e23a" stroke="#f2f2f2" stroke-width="0.3"/>
<rect x="13.00" y="262.13" width="6.40" height="3.67" fill="#3fbfbd" stroke="#f2f2f2" stroke-width="0.3"/>
<rect x="0.20" y="265.80" width="6.40" height="3.67" fill="#dcedf2" stroke="#f2f2f2" stroke-width="0.3"/>
<rect x="6.60" y="265.80" width="6.40" height="3.67" fill="#e8332e" stroke="#f2f2f2" stroke-width="0.3"/>
<rect x="13.00" y="265.80" width="6.40" height="3.67" fill="#3fbfbd" stroke="#f2f2f2" stroke-width="0.3"/>
<rect x="0.20" y="269.47" width="6.40" height="3.67" fill="#f0e23a" stroke="#f2f2f2" stroke-width="0.3"/>
<rect x="6.60" y="269.47" width="6.40" height="3.67" fill="#e8332e" stroke="#f2f2f2" stroke-width="0.3"/>
<rect x="13.00" y="269.47" width="6.40" height="3.67" fill="#3fbfbd" stroke="#f2f2f2" stroke-width="0.3"/>
<text x="20.80" y="232.24" font-size="3.55" text-anchor="start" fill="#2e2e3e" stroke="#2e2e3e" stroke-width="0.07">Solyc04g080480.1</text>
<text x="20.80" y="235.91" font-size="3.55" text-anchor="start" fill="#2e2e3e" stroke="#2e2e3e" stroke-width="0.07">Solyc04g079400.3</text>
<text x="20.80" y="239.58" font-size="3.55" text-anchor="start" fill="#2e2e3e" stroke="#2e2e3e" stroke-width="0.07">Solyc05g068360.3</text>
<text x="20.80" y="243.25" font-size="3.55" text-anchor="start" fill="#2e2e3e" stroke="#2e2e3e" stroke-width="0.07">Solyc12g057110.4</text>
<text x="20.80" y="246.92" font-size="3.55" text-anchor="start" fill="#2e2e3e" stroke="#2e2e3e" stroke-width="0.07">Solyc01g068020.3</text>
<text x="20.80" y="250.59" font-size="3.55" text-anchor="start" fill="#2e2e3e" stroke="#2e2e3e" stroke-width="0.07">Solyc01g078670.4</text>
<text x="20.80" y="254.26" font-size="3.55" text-anchor="start" fill="#2e2e3e" stroke="#2e2e3e" stroke-width="0.07">Solyc11g066440.3</text>
<text x="20.80" y="257.93" font-size="3.55" text-anchor="start" fill="#2e2e3e" stroke="#2e2e3e" stroke-width="0.07">Solyc06g074870.2</text>
<text x="20.80" y="261.59" font-size="3.55" text-anchor="start" fill="#2e2e3e" stroke="#2e2e3e" stroke-width="0.07">Solyc12g078630.2</text>
<text x="20.80" y="265.26" font-size="3.55" text-anchor="start" fill="#2e2e3e" stroke="#2e2e3e" stroke-width="0.07">Solyc12g094620.2</text>
<text x="20.80" y="268.94" font-size="3.55" text-anchor="start" fill="#2e2e3e" stroke="#2e2e3e" stroke-width="0.07">Solyc12g057070.2</text>
<text x="20.80" y="272.60" font-size="3.55" text-anchor="start" fill="#2e2e3e" stroke="#2e2e3e" stroke-width="0.07">Solyc12g057120.3</text>
<rect x="0.20" y="284.30" width="6.40" height="3.73" fill="#f0e23a" stroke="#f2f2f2" stroke-width="0.3"/>
<rect x="6.60" y="284.30" width="6.40" height="3.73" fill="#e8332e" stroke="#f2f2f2" stroke-width="0.3"/>
<rect x="13.00" y="284.30" width="6.40" height="3.73" fill="#3fbfbd" stroke="#f2f2f2" stroke-width="0.3"/>
<rect x="0.20" y="288.03" width="6.40" height="3.73" fill="#f0e23a" stroke="#f2f2f2" stroke-width="0.3"/>
<rect x="6.60" y="288.03" width="6.40" height="3.73" fill="#26378c" stroke="#f2f2f2" stroke-width="0.3"/>
<rect x="13.00" y="288.03" width="6.40" height="3.73" fill="#dcedf2" stroke="#f2f2f2" stroke-width="0.3"/>
<rect x="0.20" y="291.76" width="6.40" height="3.73" fill="#dcedf2" stroke="#f2f2f2" stroke-width="0.3"/>
<rect x="6.60" y="291.76" width="6.40" height="3.73" fill="#e8332e" stroke="#f2f2f2" stroke-width="0.3"/>
<rect x="13.00" y="291.76" width="6.40" height="3.73" fill="#3fbfbd" stroke="#f2f2f2" stroke-width="0.3"/>
<rect x="0.20" y="295.49" width="6.40" height="3.73" fill="#f0e23a" stroke="#f2f2f2" stroke-width="0.3"/>
<rect x="6.60" y="295.49" width="6.40" height="3.73" fill="#e8332e" stroke="#f2f2f2" stroke-width="0.3"/>
<rect x="13.00" y="295.49" width="6.40" height="3.73" fill="#3fbfbd" stroke="#f2f2f2" stroke-width="0.3"/>
<rect x="0.20" y="299.22" width="6.40" height="3.73" fill="#dcedf2" stroke="#f2f2f2" stroke-width="0.3"/>
<rect x="6.60" y="299.22" width="6.40" height="3.73" fill="#f0e23a" stroke="#f2f2f2" stroke-width="0.3"/>
<rect x="13.00" y="299.22" width="6.40" height="3.73" fill="#3fbfbd" stroke="#f2f2f2" stroke-width="0.3"/>
<rect x="0.20" y="302.95" width="6.40" height="3.73" fill="#dcedf2" stroke="#f2f2f2" stroke-width="0.3"/>
<rect x="6.60" y="302.95" width="6.40" height="3.73" fill="#f0e23a" stroke="#f2f2f2" stroke-width="0.3"/>
<rect x="13.00" y="302.95" width="6.40" height="3.73" fill="#3fbfbd" stroke="#f2f2f2" stroke-width="0.3"/>
<rect x="0.20" y="306.68" width="6.40" height="3.73" fill="#dcedf2" stroke="#f2f2f2" stroke-width="0.3"/>
<rect x="6.60" y="306.68" width="6.40" height="3.73" fill="#f0e23a" stroke="#f2f2f2" stroke-width="0.3"/>
<rect x="13.00" y="306.68" width="6.40" height="3.73" fill="#3fbfbd" stroke="#f2f2f2" stroke-width="0.3"/>
<text x="20.80" y="287.47" font-size="3.55" text-anchor="start" fill="#2e2e3e" stroke="#2e2e3e" stroke-width="0.07">Solyc06g068360.2</text>
<text x="20.80" y="291.20" font-size="3.55" text-anchor="start" fill="#2e2e3e" stroke="#2e2e3e" stroke-width="0.07">Solyc06g079400.3</text>
<text x="20.80" y="294.93" font-size="3.55" text-anchor="start" fill="#2e2e3e" stroke="#2e2e3e" stroke-width="0.07">Solyc07g019670.4</text>
<text x="20.80" y="298.66" font-size="3.55" text-anchor="start" fill="#2e2e3e" stroke="#2e2e3e" stroke-width="0.07">Solyc12g057110.3</text>
<text x="20.80" y="302.39" font-size="3.55" text-anchor="start" fill="#2e2e3e" stroke="#2e2e3e" stroke-width="0.07">Solyc04g054890.3</text>
<text x="20.80" y="306.12" font-size="3.55" text-anchor="start" fill="#2e2e3e" stroke="#2e2e3e" stroke-width="0.07">Solyc10g008110.4</text>
<text x="20.80" y="309.85" font-size="3.55" text-anchor="start" fill="#2e2e3e" stroke="#2e2e3e" stroke-width="0.07">Solyc10g078930.2</text>
<text x="1.90" y="312.20" font-size="4.3" text-anchor="start" fill="#222" transform="rotate(90 1.90 312.20)" stroke="#222" stroke-width="0.1">CF10 vs CK (3dpi)</text>
<text x="8.30" y="312.20" font-size="4.3" text-anchor="start" fill="#222" transform="rotate(90 8.30 312.20)" stroke="#222" stroke-width="0.1">MM vs CK (3dpi)</text>
<text x="14.70" y="312.20" font-size="4.3" text-anchor="start" fill="#222" transform="rotate(90 14.70 312.20)" stroke="#222" stroke-width="0.1">CF10 vs MM (3dpi)</text>
<rect x="114.40" y="225.80" width="6.10" height="3.83" fill="#f0e23a" stroke="#f2f2f2" stroke-width="0.3"/>
<rect x="120.50" y="225.80" width="6.10" height="3.83" fill="#e8332e" stroke="#f2f2f2" stroke-width="0.3"/>
<rect x="126.60" y="225.80" width="6.10" height="3.83" fill="#3fbfbd" stroke="#f2f2f2" stroke-width="0.3"/>
<rect x="114.40" y="229.63" width="6.10" height="3.83" fill="#f0e23a" stroke="#f2f2f2" stroke-width="0.3"/>
<rect x="120.50" y="229.63" width="6.10" height="3.83" fill="#26378c" stroke="#f2f2f2" stroke-width="0.3"/>
<rect x="126.60" y="229.63" width="6.10" height="3.83" fill="#dcedf2" stroke="#f2f2f2" stroke-width="0.3"/>
<rect x="114.40" y="233.46" width="6.10" height="3.83" fill="#dcedf2" stroke="#f2f2f2" stroke-width="0.3"/>
<rect x="120.50" y="233.46" width="6.10" height="3.83" fill="#e8332e" stroke="#f2f2f2" stroke-width="0.3"/>
<rect x="126.60" y="233.46" width="6.10" height="3.83" fill="#3fbfbd" stroke="#f2f2f2" stroke-width="0.3"/>
<rect x="114.40" y="237.29" width="6.10" height="3.83" fill="#f0e23a" stroke="#f2f2f2" stroke-width="0.3"/>
<rect x="120.50" y="237.29" width="6.10" height="3.83" fill="#e8332e" stroke="#f2f2f2" stroke-width="0.3"/>
<rect x="126.60" y="237.29" width="6.10" height="3.83" fill="#3fbfbd" stroke="#f2f2f2" stroke-width="0.3"/>
<rect x="114.40" y="241.12" width="6.10" height="3.83" fill="#dcedf2" stroke="#f2f2f2" stroke-width="0.3"/>
<rect x="120.50" y="241.12" width="6.10" height="3.83" fill="#f0e23a" stroke="#f2f2f2" stroke-width="0.3"/>
<rect x="126.60" y="241.12" width="6.10" height="3.83" fill="#3fbfbd" stroke="#f2f2f2" stroke-width="0.3"/>
<rect x="114.40" y="244.95" width="6.10" height="3.83" fill="#dcedf2" stroke="#f2f2f2" stroke-width="0.3"/>
<rect x="120.50" y="244.95" width="6.10" height="3.83" fill="#f0e23a" stroke="#f2f2f2" stroke-width="0.3"/>
<rect x="126.60" y="244.95" width="6.10" height="3.83" fill="#3fbfbd" stroke="#f2f2f2" stroke-width="0.3"/>
<rect x="114.40" y="248.78" width="6.10" height="3.83" fill="#dcedf2" stroke="#f2f2f2" stroke-width="0.3"/>
<rect x="120.50" y="248.78" width="6.10" height="3.83" fill="#f0e23a" stroke="#f2f2f2" stroke-width="0.3"/>
<rect x="126.60" y="248.78" width="6.10" height="3.83" fill="#3fbfbd" stroke="#f2f2f2" stroke-width="0.3"/>
<rect x="114.40" y="252.61" width="6.10" height="3.83" fill="#dcedf2" stroke="#f2f2f2" stroke-width="0.3"/>
<rect x="120.50" y="252.61" width="6.10" height="3.83" fill="#f0e23a" stroke="#f2f2f2" stroke-width="0.3"/>
<rect x="126.60" y="252.61" width="6.10" height="3.83" fill="#3fbfbd" stroke="#f2f2f2" stroke-width="0.3"/>
<text x="134.60" y="229.02" font-size="3.55" text-anchor="start" fill="#2e2e3e" stroke="#2e2e3e" stroke-width="0.07">Solyc06g068360.2</text>
<text x="134.60" y="232.85" font-size="3.55" text-anchor="start" fill="#2e2e3e" stroke="#2e2e3e" stroke-width="0.07">Solyc06g079400.3</text>
<text x="134.60" y="236.68" font-size="3.55" text-anchor="start" fill="#2e2e3e" stroke="#2e2e3e" stroke-width="0.07">Solyc07g019670.4</text>
<text x="134.60" y="240.51" font-size="3.55" text-anchor="start" fill="#2e2e3e" stroke="#2e2e3e" stroke-width="0.07">Solyc12g057110.3</text>
<text x="134.60" y="244.34" font-size="3.55" text-anchor="start" fill="#2e2e3e" stroke="#2e2e3e" stroke-width="0.07">Solyc04g054890.3</text>
<text x="134.60" y="248.17" font-size="3.55" text-anchor="start" fill="#2e2e3e" stroke="#2e2e3e" stroke-width="0.07">Solyc10g008110.4</text>
<text x="134.60" y="252.00" font-size="3.55" text-anchor="start" fill="#2e2e3e" stroke="#2e2e3e" stroke-width="0.07">Solyc09g091470.2</text>
<text x="134.60" y="255.83" font-size="3.55" text-anchor="start" fill="#2e2e3e" stroke="#2e2e3e" stroke-width="0.07">Solyc10g078930.2</text>
<text x="116.25" y="224.60" font-size="4.45" text-anchor="end" fill="#222" transform="rotate(90 116.25 224.60)" stroke="#222" stroke-width="0.1">CF10 vs CK (3dpi)</text>
<text x="122.35" y="224.60" font-size="4.45" text-anchor="end" fill="#222" transform="rotate(90 122.35 224.60)" stroke="#222" stroke-width="0.1">MM vs CK (3dpi)</text>
<text x="128.45" y="224.60" font-size="4.45" text-anchor="end" fill="#222" transform="rotate(90 128.45 224.60)" stroke="#222" stroke-width="0.1">CF10 vs MM (3dpi)</text>
<rect x="114.70" y="281.30" width="6.30" height="3.80" fill="#3fbfbd" stroke="#f2f2f2" stroke-width="0.3"/>
<rect x="121.00" y="281.30" width="6.30" height="3.80" fill="#3fbfbd" stroke="#f2f2f2" stroke-width="0.3"/>
<rect x="127.30" y="281.30" width="6.30" height="3.80" fill="#3fbfbd" stroke="#f2f2f2" stroke-width="0.3"/>
<rect x="114.70" y="285.10" width="6.30" height="3.80" fill="#dcedf2" stroke="#f2f2f2" stroke-width="0.3"/>
<rect x="121.00" y="285.10" width="6.30" height="3.80" fill="#dcedf2" stroke="#f2f2f2" stroke-width="0.3"/>
<rect x="127.30" y="285.10" width="6.30" height="3.80" fill="#3fbfbd" stroke="#f2f2f2" stroke-width="0.3"/>
<text x="135.40" y="284.50" font-size="3.55" text-anchor="start" fill="#2e2e3e" stroke="#2e2e3e" stroke-width="0.07">Solyc05g052620.4</text>
<text x="135.40" y="288.30" font-size="3.55" text-anchor="start" fill="#2e2e3e" stroke="#2e2e3e" stroke-width="0.07">Solyc05g052630.4</text>
<rect x="68.90" y="310.70" width="6.13" height="3.72" fill="#3fbfbd" stroke="#f2f2f2" stroke-width="0.3"/>
<rect x="75.03" y="310.70" width="6.13" height="3.72" fill="#26378c" stroke="#f2f2f2" stroke-width="0.3"/>
<rect x="81.16" y="310.70" width="6.13" height="3.72" fill="#3fbfbd" stroke="#f2f2f2" stroke-width="0.3"/>
<rect x="68.90" y="314.42" width="6.13" height="3.72" fill="#3fbfbd" stroke="#f2f2f2" stroke-width="0.3"/>
<rect x="75.03" y="314.42" width="6.13" height="3.72" fill="#3fbfbd" stroke="#f2f2f2" stroke-width="0.3"/>
<rect x="81.16" y="314.42" width="6.13" height="3.72" fill="#dcedf2" stroke="#f2f2f2" stroke-width="0.3"/>
<rect x="68.90" y="318.14" width="6.13" height="3.72" fill="#3fbfbd" stroke="#f2f2f2" stroke-width="0.3"/>
<rect x="75.03" y="318.14" width="6.13" height="3.72" fill="#f0e23a" stroke="#f2f2f2" stroke-width="0.3"/>
<rect x="81.16" y="318.14" width="6.13" height="3.72" fill="#1f1c4c" stroke="#f2f2f2" stroke-width="0.3"/>
<rect x="68.90" y="321.86" width="6.13" height="3.72" fill="#dcedf2" stroke="#f2f2f2" stroke-width="0.3"/>
<rect x="75.03" y="321.86" width="6.13" height="3.72" fill="#f0e23a" stroke="#f2f2f2" stroke-width="0.3"/>
<rect x="81.16" y="321.86" width="6.13" height="3.72" fill="#26378c" stroke="#f2f2f2" stroke-width="0.3"/>
<rect x="68.90" y="325.58" width="6.13" height="3.72" fill="#3fbfbd" stroke="#f2f2f2" stroke-width="0.3"/>
<rect x="75.03" y="325.58" width="6.13" height="3.72" fill="#f0e23a" stroke="#f2f2f2" stroke-width="0.3"/>
<rect x="81.16" y="325.58" width="6.13" height="3.72" fill="#3fbfbd" stroke="#f2f2f2" stroke-width="0.3"/>
<rect x="68.90" y="329.30" width="6.13" height="3.72" fill="#26378c" stroke="#f2f2f2" stroke-width="0.3"/>
<rect x="75.03" y="329.30" width="6.13" height="3.72" fill="#3fbfbd" stroke="#f2f2f2" stroke-width="0.3"/>
<rect x="81.16" y="329.30" width="6.13" height="3.72" fill="#3fbfbd" stroke="#f2f2f2" stroke-width="0.3"/>
<text x="88.60" y="313.86" font-size="3.55" text-anchor="start" fill="#2e2e3e" stroke="#2e2e3e" stroke-width="0.07">Solyc05g060580.2</text>
<text x="88.60" y="317.58" font-size="3.55" text-anchor="start" fill="#2e2e3e" stroke="#2e2e3e" stroke-width="0.07">Solyc04g078340.3</text>
<text x="88.60" y="321.30" font-size="3.55" text-anchor="start" fill="#2e2e3e" stroke="#2e2e3e" stroke-width="0.07">Solyc06g050380.2</text>
<text x="88.60" y="325.02" font-size="3.55" text-anchor="start" fill="#2e2e3e" stroke="#2e2e3e" stroke-width="0.07">Solyc10g011660.3</text>
<text x="88.60" y="328.74" font-size="3.55" text-anchor="start" fill="#2e2e3e" stroke="#2e2e3e" stroke-width="0.07">Solyc10g011680.2</text>
<text x="88.60" y="332.46" font-size="3.55" text-anchor="start" fill="#2e2e3e" stroke="#2e2e3e" stroke-width="0.07">Solyc02g094910.1</text>
<text x="70.47" y="334.40" font-size="4.3" text-anchor="start" fill="#222" transform="rotate(90 70.47 334.40)" stroke="#222" stroke-width="0.1">CF10 vs CK (3dpi)</text>
<text x="76.59" y="334.40" font-size="4.3" text-anchor="start" fill="#222" transform="rotate(90 76.59 334.40)" stroke="#222" stroke-width="0.1">MM vs CK (3dpi)</text>
<text x="82.73" y="334.40" font-size="4.3" text-anchor="start" fill="#222" transform="rotate(90 82.73 334.40)" stroke="#222" stroke-width="0.1">CF10 vs MM (3dpi)</text>
<rect x="129.00" y="312.00" width="6.27" height="3.64" fill="#dcedf2" stroke="#f2f2f2" stroke-width="0.3"/>
<rect x="135.27" y="312.00" width="6.27" height="3.64" fill="#f0e23a" stroke="#f2f2f2" stroke-width="0.3"/>
<rect x="141.54" y="312.00" width="6.27" height="3.64" fill="#3fbfbd" stroke="#f2f2f2" stroke-width="0.3"/>
<rect x="129.00" y="315.64" width="6.27" height="3.64" fill="#e8332e" stroke="#f2f2f2" stroke-width="0.3"/>
<rect x="135.27" y="315.64" width="6.27" height="3.64" fill="#e8332e" stroke="#f2f2f2" stroke-width="0.3"/>
<rect x="141.54" y="315.64" width="6.27" height="3.64" fill="#f0e23a" stroke="#f2f2f2" stroke-width="0.3"/>
<rect x="129.00" y="319.28" width="6.27" height="3.64" fill="#e8332e" stroke="#f2f2f2" stroke-width="0.3"/>
<rect x="135.27" y="319.28" width="6.27" height="3.64" fill="#dcedf2" stroke="#f2f2f2" stroke-width="0.3"/>
<rect x="141.54" y="319.28" width="6.27" height="3.64" fill="#f0e23a" stroke="#f2f2f2" stroke-width="0.3"/>
<rect x="129.00" y="322.92" width="6.27" height="3.64" fill="#e8332e" stroke="#f2f2f2" stroke-width="0.3"/>
<rect x="135.27" y="322.92" width="6.27" height="3.64" fill="#f0e23a" stroke="#f2f2f2" stroke-width="0.3"/>
<rect x="141.54" y="322.92" width="6.27" height="3.64" fill="#e8332e" stroke="#f2f2f2" stroke-width="0.3"/>
<rect x="129.00" y="326.56" width="6.27" height="3.64" fill="#e8332e" stroke="#f2f2f2" stroke-width="0.3"/>
<rect x="135.27" y="326.56" width="6.27" height="3.64" fill="#e8332e" stroke="#f2f2f2" stroke-width="0.3"/>
<rect x="141.54" y="326.56" width="6.27" height="3.64" fill="#dcedf2" stroke="#f2f2f2" stroke-width="0.3"/>
<rect x="129.00" y="330.20" width="6.27" height="3.64" fill="#e8332e" stroke="#f2f2f2" stroke-width="0.3"/>
<rect x="135.27" y="330.20" width="6.27" height="3.64" fill="#f0e23a" stroke="#f2f2f2" stroke-width="0.3"/>
<rect x="141.54" y="330.20" width="6.27" height="3.64" fill="#f0e23a" stroke="#f2f2f2" stroke-width="0.3"/>
<rect x="129.00" y="333.84" width="6.27" height="3.64" fill="#e8332e" stroke="#f2f2f2" stroke-width="0.3"/>
<rect x="135.27" y="333.84" width="6.27" height="3.64" fill="#f0e23a" stroke="#f2f2f2" stroke-width="0.3"/>
<rect x="141.54" y="333.84" width="6.27" height="3.64" fill="#f0e23a" stroke="#f2f2f2" stroke-width="0.3"/>
<text x="149.80" y="315.12" font-size="3.55" text-anchor="start" fill="#2e2e3e" stroke="#2e2e3e" stroke-width="0.07">Solyc03g118540.4</text>
<text x="149.80" y="318.76" font-size="3.55" text-anchor="start" fill="#2e2e3e" stroke="#2e2e3e" stroke-width="0.07">Solyc11g011030.2</text>
<text x="149.80" y="322.40" font-size="3.55" text-anchor="start" fill="#2e2e3e" stroke="#2e2e3e" stroke-width="0.07">Solyc12g049400.2</text>
<text x="149.80" y="326.04" font-size="3.55" text-anchor="start" fill="#2e2e3e" stroke="#2e2e3e" stroke-width="0.07">Solyc07g042170.3</text>
<text x="149.80" y="329.68" font-size="3.55" text-anchor="start" fill="#2e2e3e" stroke="#2e2e3e" stroke-width="0.07">Solyc12g009220.2</text>
<text x="149.80" y="333.32" font-size="3.55" text-anchor="start" fill="#2e2e3e" stroke="#2e2e3e" stroke-width="0.07">Solyc03g122190.3</text>
<text x="149.80" y="336.96" font-size="3.55" text-anchor="start" fill="#2e2e3e" stroke="#2e2e3e" stroke-width="0.07">Solyc01g005440.3</text>
<text x="130.63" y="340.00" font-size="4.3" text-anchor="start" fill="#222" transform="rotate(90 130.63 340.00)" stroke="#222" stroke-width="0.1">CF10 vs CK (3dpi)</text>
<text x="136.91" y="340.00" font-size="4.3" text-anchor="start" fill="#222" transform="rotate(90 136.91 340.00)" stroke="#222" stroke-width="0.1">MM vs CK (3dpi)</text>
<text x="143.18" y="340.00" font-size="4.3" text-anchor="start" fill="#222" transform="rotate(90 143.18 340.00)" stroke="#222" stroke-width="0.1">CF10 vs MM (3dpi)</text>
<rect x="181.80" y="310.00" width="6.23" height="3.83" fill="#3fbfbd" stroke="#f2f2f2" stroke-width="0.3"/>
<rect x="188.03" y="310.00" width="6.23" height="3.83" fill="#e8332e" stroke="#f2f2f2" stroke-width="0.3"/>
<rect x="194.26" y="310.00" width="6.23" height="3.83" fill="#3fbfbd" stroke="#f2f2f2" stroke-width="0.3"/>
<rect x="181.80" y="313.83" width="6.23" height="3.83" fill="#e8332e" stroke="#f2f2f2" stroke-width="0.3"/>
<rect x="188.03" y="313.83" width="6.23" height="3.83" fill="#e8332e" stroke="#f2f2f2" stroke-width="0.3"/>
<rect x="194.26" y="313.83" width="6.23" height="3.83" fill="#f0e23a" stroke="#f2f2f2" stroke-width="0.3"/>
<rect x="181.80" y="317.66" width="6.23" height="3.83" fill="#3fbfbd" stroke="#f2f2f2" stroke-width="0.3"/>
<rect x="188.03" y="317.66" width="6.23" height="3.83" fill="#3fbfbd" stroke="#f2f2f2" stroke-width="0.3"/>
<rect x="194.26" y="317.66" width="6.23" height="3.83" fill="#e8332e" stroke="#f2f2f2" stroke-width="0.3"/>
<rect x="181.80" y="321.49" width="6.23" height="3.83" fill="#f0e23a" stroke="#f2f2f2" stroke-width="0.3"/>
<rect x="188.03" y="321.49" width="6.23" height="3.83" fill="#3fbfbd" stroke="#f2f2f2" stroke-width="0.3"/>
<rect x="194.26" y="321.49" width="6.23" height="3.83" fill="#f0e23a" stroke="#f2f2f2" stroke-width="0.3"/>
<rect x="181.80" y="325.32" width="6.23" height="3.83" fill="#f0e23a" stroke="#f2f2f2" stroke-width="0.3"/>
<rect x="188.03" y="325.32" width="6.23" height="3.83" fill="#e8332e" stroke="#f2f2f2" stroke-width="0.3"/>
<rect x="194.26" y="325.32" width="6.23" height="3.83" fill="#dcedf2" stroke="#f2f2f2" stroke-width="0.3"/>
<rect x="181.80" y="329.15" width="6.23" height="3.83" fill="#f0e23a" stroke="#f2f2f2" stroke-width="0.3"/>
<rect x="188.03" y="329.15" width="6.23" height="3.83" fill="#f0e23a" stroke="#f2f2f2" stroke-width="0.3"/>
<rect x="194.26" y="329.15" width="6.23" height="3.83" fill="#dcedf2" stroke="#f2f2f2" stroke-width="0.3"/>
<rect x="181.80" y="332.98" width="6.23" height="3.83" fill="#dcedf2" stroke="#f2f2f2" stroke-width="0.3"/>
<rect x="188.03" y="332.98" width="6.23" height="3.83" fill="#3fbfbd" stroke="#f2f2f2" stroke-width="0.3"/>
<rect x="194.26" y="332.98" width="6.23" height="3.83" fill="#3fbfbd" stroke="#f2f2f2" stroke-width="0.3"/>
<rect x="181.80" y="336.81" width="6.23" height="3.83" fill="#f0e23a" stroke="#f2f2f2" stroke-width="0.3"/>
<rect x="188.03" y="336.81" width="6.23" height="3.83" fill="#3fbfbd" stroke="#f2f2f2" stroke-width="0.3"/>
<rect x="194.26" y="336.81" width="6.23" height="3.83" fill="#f0e23a" stroke="#f2f2f2" stroke-width="0.3"/>
<rect x="181.80" y="340.64" width="6.23" height="3.83" fill="#f0e23a" stroke="#f2f2f2" stroke-width="0.3"/>
<rect x="188.03" y="340.64" width="6.23" height="3.83" fill="#3fbfbd" stroke="#f2f2f2" stroke-width="0.3"/>
<rect x="194.26" y="340.64" width="6.23" height="3.83" fill="#f0e23a" stroke="#f2f2f2" stroke-width="0.3"/>
<rect x="181.80" y="344.47" width="6.23" height="3.83" fill="#dcedf2" stroke="#f2f2f2" stroke-width="0.3"/>
<rect x="188.03" y="344.47" width="6.23" height="3.83" fill="#3fbfbd" stroke="#f2f2f2" stroke-width="0.3"/>
<rect x="194.26" y="344.47" width="6.23" height="3.83" fill="#f0e23a" stroke="#f2f2f2" stroke-width="0.3"/>
<rect x="181.80" y="348.30" width="6.23" height="3.83" fill="#dcedf2" stroke="#f2f2f2" stroke-width="0.3"/>
<rect x="188.03" y="348.30" width="6.23" height="3.83" fill="#dcedf2" stroke="#f2f2f2" stroke-width="0.3"/>
<rect x="194.26" y="348.30" width="6.23" height="3.83" fill="#3fbfbd" stroke="#f2f2f2" stroke-width="0.3"/>
<rect x="181.80" y="352.13" width="6.23" height="3.83" fill="#3fbfbd" stroke="#f2f2f2" stroke-width="0.3"/>
<rect x="188.03" y="352.13" width="6.23" height="3.83" fill="#1f1c4c" stroke="#f2f2f2" stroke-width="0.3"/>
<rect x="194.26" y="352.13" width="6.23" height="3.83" fill="#3fbfbd" stroke="#f2f2f2" stroke-width="0.3"/>
<rect x="181.80" y="355.96" width="6.23" height="3.83" fill="#f0e23a" stroke="#f2f2f2" stroke-width="0.3"/>
<rect x="188.03" y="355.96" width="6.23" height="3.83" fill="#e8332e" stroke="#f2f2f2" stroke-width="0.3"/>
<rect x="194.26" y="355.96" width="6.23" height="3.83" fill="#26378c" stroke="#f2f2f2" stroke-width="0.3"/>
<rect x="181.80" y="359.79" width="6.23" height="3.83" fill="#1f1c4c" stroke="#f2f2f2" stroke-width="0.3"/>
<rect x="188.03" y="359.79" width="6.23" height="3.83" fill="#e8332e" stroke="#f2f2f2" stroke-width="0.3"/>
<rect x="194.26" y="359.79" width="6.23" height="3.83" fill="#26378c" stroke="#f2f2f2" stroke-width="0.3"/>
<rect x="181.80" y="363.62" width="6.23" height="3.83" fill="#3fbfbd" stroke="#f2f2f2" stroke-width="0.3"/>
<rect x="188.03" y="363.62" width="6.23" height="3.83" fill="#3fbfbd" stroke="#f2f2f2" stroke-width="0.3"/>
<rect x="194.26" y="363.62" width="6.23" height="3.83" fill="#26378c" stroke="#f2f2f2" stroke-width="0.3"/>
<text x="202.20" y="313.22" font-size="3.55" text-anchor="start" fill="#2e2e3e" stroke="#2e2e3e" stroke-width="0.07">Solyc01g108480.4</text>
<text x="202.20" y="317.05" font-size="3.55" text-anchor="start" fill="#2e2e3e" stroke="#2e2e3e" stroke-width="0.07">Solyc01g096370.3</text>
<text x="202.20" y="320.88" font-size="3.55" text-anchor="start" fill="#2e2e3e" stroke="#2e2e3e" stroke-width="0.07">Solyc03g096070.3</text>
<text x="202.20" y="324.71" font-size="3.55" text-anchor="start" fill="#2e2e3e" stroke="#2e2e3e" stroke-width="0.07">Solyc01g009090.1</text>
<text x="202.20" y="328.54" font-size="3.55" text-anchor="start" fill="#2e2e3e" stroke="#2e2e3e" stroke-width="0.07">Solyc02g089540.4</text>
<text x="202.20" y="332.37" font-size="3.55" text-anchor="start" fill="#2e2e3e" stroke="#2e2e3e" stroke-width="0.07">Solyc04g008830.3</text>
<text x="202.20" y="336.20" font-size="3.55" text-anchor="start" fill="#2e2e3e" stroke="#2e2e3e" stroke-width="0.07">Solyc05g050370.3</text>
<text x="202.20" y="340.03" font-size="3.55" text-anchor="start" fill="#2e2e3e" stroke="#2e2e3e" stroke-width="0.07">Solyc01g096370.4</text>
<text x="202.20" y="343.86" font-size="3.55" text-anchor="start" fill="#2e2e3e" stroke="#2e2e3e" stroke-width="0.07">Solyc01g091800.3</text>
<text x="202.20" y="347.69" font-size="3.55" text-anchor="start" fill="#2e2e3e" stroke="#2e2e3e" stroke-width="0.07">Solyc08g081140.4</text>
<text x="202.20" y="351.52" font-size="3.55" text-anchor="start" fill="#2e2e3e" stroke="#2e2e3e" stroke-width="0.07">Solyc08g081130.3</text>
<text x="202.20" y="355.35" font-size="3.55" text-anchor="start" fill="#2e2e3e" stroke="#2e2e3e" stroke-width="0.07">Solyc08g083030.3</text>
<text x="202.20" y="359.18" font-size="3.55" text-anchor="start" fill="#2e2e3e" stroke="#2e2e3e" stroke-width="0.07">Solyc09g091510.2</text>
<text x="202.20" y="363.01" font-size="3.55" text-anchor="start" fill="#2e2e3e" stroke="#2e2e3e" stroke-width="0.07">Solyc09g091060.2</text>
<text x="202.20" y="366.84" font-size="3.55" text-anchor="start" fill="#2e2e3e" stroke="#2e2e3e" stroke-width="0.07">Solyc08g083170.1</text>
<text x="67.10" y="157.20" font-size="5.0" text-anchor="start" fill="#1a1a1a" stroke="#1a1a1a" stroke-width="0.14" textLength="46.30" lengthAdjust="spacingAndGlyphs">alpha-Linolenic acid</text>
<text x="82.70" y="173.60" font-size="5.0" text-anchor="start" fill="#1a1a1a" stroke="#1a1a1a" stroke-width="0.14" textLength="20.70" lengthAdjust="spacingAndGlyphs">13-HPOT</text>
<text x="79.80" y="190.30" font-size="5.0" text-anchor="start" fill="#1a1a1a" stroke="#1a1a1a" stroke-width="0.14" textLength="30.30" lengthAdjust="spacingAndGlyphs">12,13(S)-EOT</text>
<text x="82.70" y="207.40" font-size="5.0" text-anchor="start" fill="#1a1a1a" stroke="#1a1a1a" stroke-width="0.14" textLength="21.00" lengthAdjust="spacingAndGlyphs">12-OPDA</text>
<text x="86.90" y="221.90" font-size="5.0" text-anchor="start" fill="#1a1a1a" stroke="#1a1a1a" stroke-width="0.14" textLength="12.00" lengthAdjust="spacingAndGlyphs">OPC8</text>
<text x="81.30" y="236.80" font-size="5.0" text-anchor="start" fill="#1a1a1a" stroke="#1a1a1a" stroke-width="0.14" textLength="23.50" lengthAdjust="spacingAndGlyphs">OPC6-CoA</text>
<text x="81.40" y="253.20" font-size="5.0" text-anchor="start" fill="#1a1a1a" stroke="#1a1a1a" stroke-width="0.14" textLength="23.50" lengthAdjust="spacingAndGlyphs">OPC4-CoA</text>
<text x="74.00" y="270.20" font-size="5.0" text-anchor="start" fill="#1a1a1a" stroke="#1a1a1a" stroke-width="0.14" textLength="39.20" lengthAdjust="spacingAndGlyphs">3-Oxo-OPC4-CoA</text>
<text x="85.90" y="287.80" font-size="5.0" text-anchor="start" fill="#1a1a1a" stroke="#1a1a1a" stroke-width="0.14" textLength="14.50" lengthAdjust="spacingAndGlyphs">JA-CoA</text>
<text x="91.40" y="303.20" font-size="5.0" text-anchor="start" fill="#1a1a1a" stroke="#1a1a1a" stroke-width="0.14" textLength="4.60" lengthAdjust="spacingAndGlyphs">JA</text>
<text x="106.90" y="303.20" font-size="5.0" text-anchor="start" fill="#1a1a1a" stroke="#1a1a1a" stroke-width="0.14" textLength="9.20" lengthAdjust="spacingAndGlyphs">JAR1</text>
<text x="129.60" y="303.20" font-size="5.0" text-anchor="start" fill="#1a1a1a" stroke="#1a1a1a" stroke-width="0.14" textLength="8.80" lengthAdjust="spacingAndGlyphs">COI1</text>
<text x="153.80" y="303.20" font-size="5.0" text-anchor="start" fill="#1a1a1a" stroke="#1a1a1a" stroke-width="0.14" textLength="7.20" lengthAdjust="spacingAndGlyphs">JAZ</text>
<text x="174.00" y="303.20" font-size="5.0" text-anchor="start" fill="#1a1a1a" stroke="#1a1a1a" stroke-width="0.14" textLength="11.00" lengthAdjust="spacingAndGlyphs">MYC2</text>
<text x="200.00" y="303.20" font-size="5.0" text-anchor="start" fill="#1a1a1a" stroke="#1a1a1a" stroke-width="0.14" textLength="48.00" lengthAdjust="spacingAndGlyphs">Downstream factors</text>
<line x1="92.80" y1="159.50" x2="92.80" y2="165.50" stroke="#1a1a1a" stroke-width="0.9"/>
<path d="M91.45 164.90L94.15 164.90L92.80 167.50z" fill="#1a1a1a"/>
<line x1="92.80" y1="176.50" x2="92.80" y2="182.80" stroke="#1a1a1a" stroke-width="0.9"/>
<path d="M91.45 182.20L94.15 182.20L92.80 184.80z" fill="#1a1a1a"/>
<line x1="92.80" y1="192.80" x2="92.80" y2="199.50" stroke="#1a1a1a" stroke-width="0.9"/>
<path d="M91.45 198.90L94.15 198.90L92.80 201.50z" fill="#1a1a1a"/>
<line x1="92.80" y1="209.30" x2="92.80" y2="214.50" stroke="#1a1a1a" stroke-width="0.9"/>
<path d="M91.45 213.90L94.15 213.90L92.80 216.50z" fill="#1a1a1a"/>
<line x1="92.80" y1="223.20" x2="92.80" y2="229.00" stroke="#111" stroke-width="1.3" stroke-dasharray="1.4 0.9"/>
<path d="M91.45 228.40L94.15 228.40L92.80 231.00z" fill="#1a1a1a"/>
<line x1="92.80" y1="238.80" x2="92.80" y2="245.80" stroke="#111" stroke-width="1.3" stroke-dasharray="1.4 0.9"/>
<path d="M91.45 245.20L94.15 245.20L92.80 247.80z" fill="#1a1a1a"/>
<line x1="92.80" y1="255.20" x2="92.80" y2="262.80" stroke="#111" stroke-width="1.3" stroke-dasharray="1.4 0.9"/>
<path d="M91.45 262.20L94.15 262.20L92.80 264.80z" fill="#1a1a1a"/>
<line x1="92.80" y1="272.30" x2="92.80" y2="279.50" stroke="#1a1a1a" stroke-width="0.9"/>
<path d="M91.45 278.90L94.15 278.90L92.80 281.50z" fill="#1a1a1a"/>
<line x1="93.20" y1="289.50" x2="93.20" y2="296.40" stroke="#1a1a1a" stroke-width="0.9"/>
<path d="M91.85 295.80L94.55 295.80L93.20 298.40z" fill="#1a1a1a"/>
<line x1="97.60" y1="301.60" x2="103.00" y2="301.60" stroke="#1a1a1a" stroke-width="0.9"/>
<path d="M102.40 300.25L102.40 302.95L105.00 301.60z" fill="#1a1a1a"/>
<line x1="119.50" y1="301.60" x2="125.20" y2="301.60" stroke="#1a1a1a" stroke-width="0.9"/>
<path d="M124.60 300.25L124.60 302.95L127.20 301.60z" fill="#1a1a1a"/>
<line x1="140.00" y1="301.60" x2="150.00" y2="301.60" stroke="#1a1a1a" stroke-width="0.9"/>
<path d="M149.40 300.25L149.40 302.95L152.00 301.60z" fill="#1a1a1a"/>
<line x1="163.60" y1="301.60" x2="171.00" y2="301.60" stroke="#1a1a1a" stroke-width="0.9"/>
<path d="M170.40 300.25L170.40 302.95L173.00 301.60z" fill="#1a1a1a"/>
<line x1="189.40" y1="301.60" x2="196.00" y2="301.60" stroke="#1a1a1a" stroke-width="0.9"/>
<path d="M195.40 300.25L195.40 302.95L198.00 301.60z" fill="#1a1a1a"/>
<line x1="54.80" y1="164.20" x2="87.50" y2="164.20" stroke="#d9607a" stroke-width="0.5"/>
<line x1="54.80" y1="181.30" x2="87.50" y2="181.30" stroke="#d9607a" stroke-width="0.5"/>
<line x1="54.80" y1="196.80" x2="87.50" y2="196.80" stroke="#d9607a" stroke-width="0.5"/>
<line x1="54.80" y1="212.00" x2="87.50" y2="212.00" stroke="#d9607a" stroke-width="0.5"/>
<line x1="51.50" y1="238.80" x2="91.60" y2="224.40" stroke="#d9607a" stroke-width="0.5"/>
<line x1="97.00" y1="243.00" x2="114.40" y2="243.00" stroke="#d9607a" stroke-width="0.45"/>
<line x1="52.50" y1="299.80" x2="92.00" y2="260.20" stroke="#d9607a" stroke-width="0.5"/>
<line x1="131.00" y1="298.00" x2="129.00" y2="289.10" stroke="#d9607a" stroke-width="0.45"/>
<line x1="108.00" y1="304.60" x2="88.00" y2="310.70" stroke="#d9607a" stroke-width="0.45"/>
<line x1="155.20" y1="304.80" x2="146.80" y2="312.00" stroke="#d9607a" stroke-width="0.45"/>
<line x1="185.60" y1="304.40" x2="187.50" y2="310.00" stroke="#d9607a" stroke-width="0.45"/>
<defs><linearGradient id="cbE" x1="0" y1="0" x2="0" y2="1"><stop offset="0" stop-color="#e0302a"/><stop offset="0.17" stop-color="#ee6a3a"/><stop offset="0.33" stop-color="#f2e23a"/><stop offset="0.5" stop-color="#eef6f6"/><stop offset="0.66" stop-color="#3fbfbd"/><stop offset="0.83" stop-color="#2a4f9e"/><stop offset="1" stop-color="#1c1a40"/></linearGradient></defs>
<rect x="191.00" y="253.10" width="2.80" height="38.40" fill="url(#cbE)"/>
<text x="194.60" y="254.60" font-size="4.0" text-anchor="start" fill="#222">&gt;=3</text>
<text x="194.60" y="261.20" font-size="4.0" text-anchor="start" fill="#222">2</text>
<text x="194.60" y="266.60" font-size="4.0" text-anchor="start" fill="#222">1</text>
<text x="194.60" y="273.30" font-size="4.0" text-anchor="start" fill="#222">0</text>
<text x="194.60" y="279.90" font-size="4.0" text-anchor="start" fill="#222">-1</text>
<text x="194.60" y="285.80" font-size="4.0" text-anchor="start" fill="#222">-2</text>
<text x="194.60" y="292.00" font-size="4.0" text-anchor="start" fill="#222">&lt;=-3</text>
<text x="187.90" y="271.30" font-size="5.2" text-anchor="middle" fill="#222" transform="rotate(-90 187.90 271.30)" stroke="#222" stroke-width="0.1">log2(Fold change)</text>
</svg></body></html>
